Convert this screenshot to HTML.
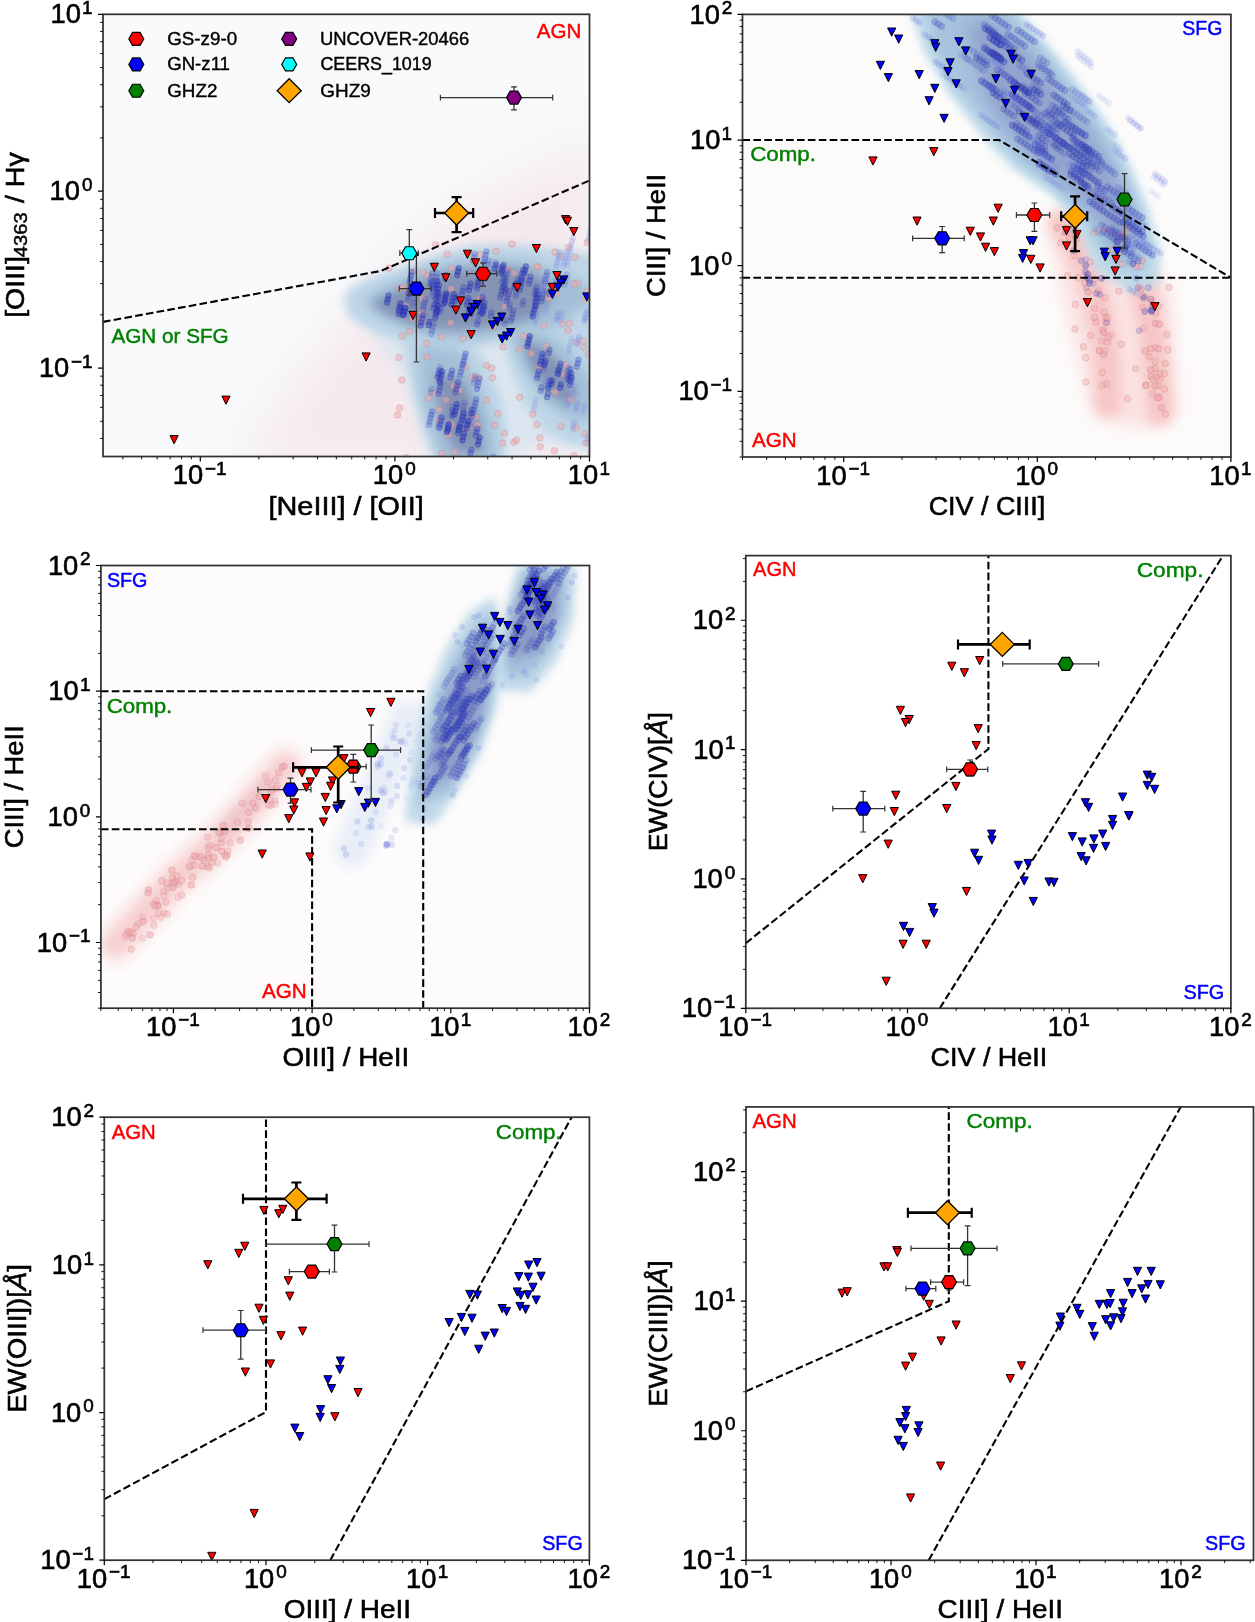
<!DOCTYPE html><html><head><meta charset="utf-8"><style>html,body{margin:0;padding:0;background:#fff;}svg{display:block;will-change:transform;}</style></head><body><svg width="1255" height="1622" viewBox="0 0 1255 1622" font-family='"Liberation Sans", sans-serif'>
<rect width="1255" height="1622" fill="#fff"/>
<defs>
<clipPath id="cP1"><rect x="103" y="14.3" width="486.5" height="442.2"/></clipPath>
<clipPath id="cP2"><rect x="742.5" y="14.4" width="488.4" height="442.6"/></clipPath>
<clipPath id="cP3"><rect x="100.9" y="565.5" width="488.6" height="442.7"/></clipPath>
<clipPath id="cP4"><rect x="745.8" y="555.6" width="485.1" height="452.7"/></clipPath>
<clipPath id="cP5"><rect x="104.3" y="1117.2" width="485.1" height="443"/></clipPath>
<clipPath id="cP6"><rect x="746" y="1106.9" width="507.5" height="453.4"/></clipPath>
<filter id="b1" filterUnits="userSpaceOnUse" x="0" y="0" width="1255" height="1622"><feGaussianBlur stdDeviation="0.7"/></filter>
<filter id="b2" filterUnits="userSpaceOnUse" x="0" y="0" width="1255" height="1622"><feGaussianBlur stdDeviation="2"/></filter>
<filter id="b3" filterUnits="userSpaceOnUse" x="0" y="0" width="1255" height="1622"><feGaussianBlur stdDeviation="3"/></filter>
<filter id="b4" filterUnits="userSpaceOnUse" x="0" y="0" width="1255" height="1622"><feGaussianBlur stdDeviation="4"/></filter>
<filter id="b5" filterUnits="userSpaceOnUse" x="0" y="0" width="1255" height="1622"><feGaussianBlur stdDeviation="5"/></filter>
<filter id="b6" filterUnits="userSpaceOnUse" x="0" y="0" width="1255" height="1622"><feGaussianBlur stdDeviation="6"/></filter>
<filter id="b8" filterUnits="userSpaceOnUse" x="0" y="0" width="1255" height="1622"><feGaussianBlur stdDeviation="8"/></filter>
<filter id="b10" filterUnits="userSpaceOnUse" x="0" y="0" width="1255" height="1622"><feGaussianBlur stdDeviation="10"/></filter>
<filter id="b14" filterUnits="userSpaceOnUse" x="0" y="0" width="1255" height="1622"><feGaussianBlur stdDeviation="14"/></filter>
<filter id="b20" filterUnits="userSpaceOnUse" x="0" y="0" width="1255" height="1622"><feGaussianBlur stdDeviation="20"/></filter>
<filter id="b25" filterUnits="userSpaceOnUse" x="0" y="0" width="1255" height="1622"><feGaussianBlur stdDeviation="25"/></filter>
<filter id="b35" filterUnits="userSpaceOnUse" x="0" y="0" width="1255" height="1622"><feGaussianBlur stdDeviation="35"/></filter>
</defs>
<g clip-path="url(#cP1)">
<rect x="103" y="14.3" width="486.5" height="442.2" fill="#f8fafc"/>
<polygon points="240,470 290,390 340,330 410,250 480,200 600,140 600,470" fill="#f4d8de" opacity="0.5" filter="url(#b25)"/>
<polygon points="360,300 470,250 595,255 595,452 540,445 505,462 430,462 405,380 370,330" fill="#dce6f0" filter="url(#b8)"/>
<polygon points="343,300 352,286 375,276 405,266 440,253 480,245 520,245 560,250 595,255 595,320 560,330 520,338 480,345 440,348 405,342 375,332 350,318" fill="#bed6e7" filter="url(#b5)"/>
<polygon points="402,335 470,340 488,365 500,395 506,425 502,462 440,462 425,430 412,385" fill="#bed6e7" filter="url(#b5)"/>
<polygon points="498,318 595,300 595,448 570,444 545,432 525,405 510,365" fill="#bed6e7" filter="url(#b5)"/>
<polygon points="362,302 378,289 410,274 450,262 490,258 530,261 560,271 585,283 592,300 560,326 530,331 500,336 470,340 440,340 410,331 382,318" fill="#a3bfd7" filter="url(#b6)"/>
<polygon points="418,345 460,350 480,385 494,425 498,460 440,460 428,425 420,390" fill="#a3bfd7" filter="url(#b6)"/>
<polygon points="510,330 548,333 575,355 592,380 592,422 572,422 548,405 527,375 514,350" fill="#a3bfd7" filter="url(#b6)"/>
<polygon points="372,302 395,291 420,281 455,271 490,267 522,269 548,281 552,300 532,318 500,326 465,330 430,328 402,321 382,312" fill="#7f8bb0" opacity="0.85" filter="url(#b5)"/>
<polygon points="525,340 548,350 567,372 577,398 564,404 545,390 528,362" fill="#7f8bb0" opacity="0.85" filter="url(#b5)"/>
<polygon points="436,372 462,380 478,415 484,452 456,452 440,420" fill="#7f8bb0" opacity="0.85" filter="url(#b5)"/>
<g filter="url(#b1)">
<g fill="#f4a7ab" fill-opacity="0.5" stroke="#a06868" stroke-opacity="0.3" stroke-width="0.7"><circle cx="502.55" cy="443.17" r="3.3"/><circle cx="491.65" cy="368.4" r="3.3"/><circle cx="492.5" cy="377.83" r="3.3"/><circle cx="404.77" cy="305.36" r="3.3"/><circle cx="555.03" cy="391.94" r="3.3"/><circle cx="591.26" cy="452.18" r="3.3"/><circle cx="514.27" cy="272.96" r="3.3"/><circle cx="495.96" cy="251.22" r="3.3"/><circle cx="435.81" cy="244.68" r="3.3"/><circle cx="477.51" cy="425.02" r="3.3"/><circle cx="519.46" cy="348.95" r="3.3"/><circle cx="481.04" cy="299.75" r="3.3"/><circle cx="594.1" cy="424.53" r="3.3"/><circle cx="451.21" cy="288.99" r="3.3"/><circle cx="399.75" cy="408.12" r="3.3"/><circle cx="562.78" cy="323.81" r="3.3"/><circle cx="576.16" cy="342.34" r="3.3"/><circle cx="468.46" cy="254.21" r="3.3"/><circle cx="548.49" cy="297.89" r="3.3"/><circle cx="454.84" cy="452.02" r="3.3"/><circle cx="409.78" cy="292.7" r="3.3"/><circle cx="397.58" cy="414.94" r="3.3"/><circle cx="502.45" cy="337.33" r="3.3"/><circle cx="538.7" cy="267.07" r="3.3"/><circle cx="409.47" cy="331.41" r="3.3"/><circle cx="441.66" cy="453.55" r="3.3"/><circle cx="448.87" cy="434.44" r="3.3"/><circle cx="467.8" cy="427.67" r="3.3"/><circle cx="406.07" cy="457.62" r="3.3"/><circle cx="439.24" cy="409.54" r="3.3"/><circle cx="447.23" cy="254.29" r="3.3"/><circle cx="507.37" cy="291.95" r="3.3"/><circle cx="463.06" cy="338.61" r="3.3"/><circle cx="486.58" cy="365.55" r="3.3"/><circle cx="423.39" cy="272.22" r="3.3"/><circle cx="556.74" cy="293.39" r="3.3"/><circle cx="540.28" cy="446.77" r="3.3"/><circle cx="584.53" cy="433.85" r="3.3"/><circle cx="473.51" cy="261.05" r="3.3"/><circle cx="587.16" cy="290.93" r="3.3"/><circle cx="438.97" cy="420.87" r="3.3"/><circle cx="446.62" cy="276.95" r="3.3"/><circle cx="399.44" cy="288.7" r="3.3"/><circle cx="564" cy="374.38" r="3.3"/><circle cx="577.65" cy="283.28" r="3.3"/><circle cx="441.53" cy="336.95" r="3.3"/><circle cx="422.01" cy="319.87" r="3.3"/><circle cx="412.63" cy="318.4" r="3.3"/><circle cx="590.9" cy="383.84" r="3.3"/><circle cx="507.73" cy="269.16" r="3.3"/><circle cx="587.18" cy="242.72" r="3.3"/><circle cx="486.27" cy="400.17" r="3.3"/><circle cx="594.87" cy="254.71" r="3.3"/><circle cx="539.77" cy="437.84" r="3.3"/><circle cx="532.78" cy="414.11" r="3.3"/><circle cx="458.89" cy="390.1" r="3.3"/><circle cx="567.93" cy="330.61" r="3.3"/><circle cx="566.33" cy="365.16" r="3.3"/><circle cx="465.29" cy="367.35" r="3.3"/><circle cx="401.84" cy="379.95" r="3.3"/><circle cx="569.76" cy="399.66" r="3.3"/><circle cx="539.36" cy="366.97" r="3.3"/><circle cx="561.06" cy="256.6" r="3.3"/><circle cx="433.35" cy="393.03" r="3.3"/><circle cx="514.05" cy="442.34" r="3.3"/><circle cx="427.54" cy="275.65" r="3.3"/><circle cx="523.6" cy="336.11" r="3.3"/><circle cx="453.66" cy="385.83" r="3.3"/><circle cx="475.49" cy="416.93" r="3.3"/><circle cx="569.86" cy="323.34" r="3.3"/><circle cx="451.46" cy="268.23" r="3.3"/><circle cx="560.79" cy="426.42" r="3.3"/><circle cx="584.5" cy="299.45" r="3.3"/><circle cx="479.64" cy="299.09" r="3.3"/><circle cx="471.94" cy="376.91" r="3.3"/><circle cx="451.23" cy="424.28" r="3.3"/><circle cx="480.02" cy="254.58" r="3.3"/><circle cx="568.29" cy="247.21" r="3.3"/><circle cx="504.82" cy="306.6" r="3.3"/><circle cx="389.01" cy="268.17" r="3.3"/><circle cx="478.76" cy="377.85" r="3.3"/><circle cx="554.55" cy="450.78" r="3.3"/><circle cx="426.86" cy="343.48" r="3.3"/><circle cx="422.61" cy="298.46" r="3.3"/><circle cx="531.44" cy="353.53" r="3.3"/><circle cx="543.8" cy="325.36" r="3.3"/><circle cx="575.31" cy="257.36" r="3.3"/><circle cx="536.7" cy="266.84" r="3.3"/><circle cx="516.37" cy="440.01" r="3.3"/><circle cx="504.45" cy="433.21" r="3.3"/><circle cx="583.29" cy="340.94" r="3.3"/><circle cx="428.03" cy="398.27" r="3.3"/><circle cx="519.74" cy="397.32" r="3.3"/><circle cx="574" cy="455.67" r="3.3"/><circle cx="497.76" cy="413.55" r="3.3"/><circle cx="576.1" cy="427.98" r="3.3"/><circle cx="402.38" cy="335.88" r="3.3"/><circle cx="546.33" cy="346.21" r="3.3"/><circle cx="554.92" cy="252.22" r="3.3"/><circle cx="421.31" cy="312.37" r="3.3"/><circle cx="414.51" cy="271.01" r="3.3"/><circle cx="536.95" cy="424.47" r="3.3"/><circle cx="583.61" cy="347.35" r="3.3"/><circle cx="403.06" cy="287.15" r="3.3"/><circle cx="445.94" cy="399.8" r="3.3"/><circle cx="494.78" cy="425.28" r="3.3"/><circle cx="450.46" cy="322.63" r="3.3"/><circle cx="574.11" cy="284.23" r="3.3"/><circle cx="588.37" cy="354.38" r="3.3"/><circle cx="427.2" cy="356.97" r="3.3"/><circle cx="512.1" cy="244.16" r="3.3"/><circle cx="493.36" cy="326.93" r="3.3"/><circle cx="503.2" cy="347.01" r="3.3"/><circle cx="398.84" cy="357.59" r="3.3"/><circle cx="585.94" cy="443" r="3.3"/></g>
<g fill="#3442cc" fill-opacity="0.52" stroke="#10105a" stroke-opacity="0.31" stroke-width="0.7"><circle cx="457.17" cy="275" r="2.9"/><circle cx="457.97" cy="271.6" r="2.9"/><circle cx="458.77" cy="268.2" r="2.9"/></g>
<g fill="#3442cc" fill-opacity="0.25" stroke="#10105a" stroke-opacity="0.15" stroke-width="0.7"><circle cx="502.25" cy="282.4" r="2.9"/><circle cx="503.05" cy="279" r="2.9"/><circle cx="503.85" cy="275.6" r="2.9"/></g>
<g fill="#3442cc" fill-opacity="0.23" stroke="#10105a" stroke-opacity="0.14" stroke-width="0.7"><circle cx="407.59" cy="300.41" r="2.9"/><circle cx="408.39" cy="297.01" r="2.9"/><circle cx="409.19" cy="293.61" r="2.9"/></g>
<g fill="#3442cc" fill-opacity="0.29" stroke="#10105a" stroke-opacity="0.17" stroke-width="0.7"><circle cx="567.91" cy="379.41" r="2.9"/><circle cx="568.71" cy="376.01" r="2.9"/><circle cx="569.51" cy="372.61" r="2.9"/><circle cx="570.31" cy="369.21" r="2.9"/></g>
<g fill="#3442cc" fill-opacity="0.42" stroke="#10105a" stroke-opacity="0.25" stroke-width="0.7"><circle cx="558.2" cy="373.9" r="2.9"/><circle cx="559" cy="370.5" r="2.9"/><circle cx="559.8" cy="367.1" r="2.9"/><circle cx="560.6" cy="363.7" r="2.9"/></g>
<g fill="#3442cc" fill-opacity="0.52" stroke="#10105a" stroke-opacity="0.31" stroke-width="0.7"><circle cx="447.17" cy="431.26" r="2.9"/><circle cx="447.97" cy="427.86" r="2.9"/><circle cx="448.77" cy="424.46" r="2.9"/></g>
<g fill="#3442cc" fill-opacity="0.48" stroke="#10105a" stroke-opacity="0.29" stroke-width="0.7"><circle cx="428.7" cy="325.13" r="2.9"/><circle cx="429.5" cy="321.73" r="2.9"/></g>
<g fill="#3442cc" fill-opacity="0.26" stroke="#10105a" stroke-opacity="0.16" stroke-width="0.7"><circle cx="541.41" cy="301.23" r="2.9"/><circle cx="542.21" cy="297.83" r="2.9"/><circle cx="543.01" cy="294.43" r="2.9"/><circle cx="543.81" cy="291.03" r="2.9"/></g>
<g fill="#3442cc" fill-opacity="0.41" stroke="#10105a" stroke-opacity="0.24" stroke-width="0.7"><circle cx="495.34" cy="268.12" r="2.9"/><circle cx="496.14" cy="264.72" r="2.9"/></g>
<g fill="#3442cc" fill-opacity="0.39" stroke="#10105a" stroke-opacity="0.23" stroke-width="0.7"><circle cx="519.78" cy="289.76" r="2.9"/><circle cx="520.58" cy="286.36" r="2.9"/><circle cx="521.38" cy="282.96" r="2.9"/><circle cx="522.18" cy="279.56" r="2.9"/></g>
<g fill="#3442cc" fill-opacity="0.48" stroke="#10105a" stroke-opacity="0.29" stroke-width="0.7"><circle cx="551.14" cy="383.88" r="2.9"/><circle cx="551.94" cy="380.48" r="2.9"/></g>
<g fill="#3442cc" fill-opacity="0.24" stroke="#10105a" stroke-opacity="0.14" stroke-width="0.7"><circle cx="422.96" cy="309.4" r="2.9"/><circle cx="423.76" cy="306" r="2.9"/><circle cx="424.56" cy="302.6" r="2.9"/><circle cx="425.36" cy="299.2" r="2.9"/></g>
<g fill="#3442cc" fill-opacity="0.35" stroke="#10105a" stroke-opacity="0.21" stroke-width="0.7"><circle cx="458.18" cy="433.18" r="2.9"/><circle cx="458.98" cy="429.78" r="2.9"/><circle cx="459.78" cy="426.38" r="2.9"/></g>
<g fill="#3442cc" fill-opacity="0.22" stroke="#10105a" stroke-opacity="0.13" stroke-width="0.7"><circle cx="435.82" cy="280.24" r="2.9"/><circle cx="436.62" cy="276.84" r="2.9"/><circle cx="437.42" cy="273.44" r="2.9"/></g>
<g fill="#3442cc" fill-opacity="0.42" stroke="#10105a" stroke-opacity="0.25" stroke-width="0.7"><circle cx="505.08" cy="292.53" r="2.9"/><circle cx="505.88" cy="289.13" r="2.9"/></g>
<g fill="#3442cc" fill-opacity="0.48" stroke="#10105a" stroke-opacity="0.29" stroke-width="0.7"><circle cx="514.62" cy="287.39" r="2.9"/><circle cx="515.42" cy="283.99" r="2.9"/></g>
<g fill="#3442cc" fill-opacity="0.41" stroke="#10105a" stroke-opacity="0.24" stroke-width="0.7"><circle cx="569.76" cy="380.28" r="2.9"/><circle cx="570.56" cy="376.88" r="2.9"/><circle cx="571.36" cy="373.48" r="2.9"/></g>
<g fill="#3442cc" fill-opacity="0.31" stroke="#10105a" stroke-opacity="0.19" stroke-width="0.7"><circle cx="477.23" cy="288.48" r="2.9"/><circle cx="478.03" cy="285.08" r="2.9"/><circle cx="478.83" cy="281.68" r="2.9"/></g>
<g fill="#3442cc" fill-opacity="0.26" stroke="#10105a" stroke-opacity="0.16" stroke-width="0.7"><circle cx="505.74" cy="277.08" r="2.9"/><circle cx="506.54" cy="273.68" r="2.9"/><circle cx="507.34" cy="270.28" r="2.9"/></g>
<g fill="#3442cc" fill-opacity="0.47" stroke="#10105a" stroke-opacity="0.28" stroke-width="0.7"><circle cx="469" cy="290.3" r="2.9"/><circle cx="469.8" cy="286.9" r="2.9"/><circle cx="470.6" cy="283.5" r="2.9"/></g>
<g fill="#3442cc" fill-opacity="0.32" stroke="#10105a" stroke-opacity="0.19" stroke-width="0.7"><circle cx="502.07" cy="271.44" r="2.9"/><circle cx="502.87" cy="268.04" r="2.9"/><circle cx="503.67" cy="264.64" r="2.9"/></g>
<g fill="#3442cc" fill-opacity="0.32" stroke="#10105a" stroke-opacity="0.19" stroke-width="0.7"><circle cx="438.38" cy="393.84" r="2.9"/><circle cx="439.18" cy="390.44" r="2.9"/><circle cx="439.98" cy="387.04" r="2.9"/><circle cx="440.78" cy="383.64" r="2.9"/></g>
<g fill="#3442cc" fill-opacity="0.35" stroke="#10105a" stroke-opacity="0.21" stroke-width="0.7"><circle cx="445.1" cy="278.46" r="2.9"/><circle cx="445.9" cy="275.06" r="2.9"/></g>
<g fill="#3442cc" fill-opacity="0.54" stroke="#10105a" stroke-opacity="0.33" stroke-width="0.7"><circle cx="466.83" cy="428.1" r="2.9"/><circle cx="467.63" cy="424.7" r="2.9"/><circle cx="468.43" cy="421.3" r="2.9"/></g>
<g fill="#3442cc" fill-opacity="0.37" stroke="#10105a" stroke-opacity="0.22" stroke-width="0.7"><circle cx="482.77" cy="313.54" r="2.9"/><circle cx="483.57" cy="310.14" r="2.9"/><circle cx="484.37" cy="306.74" r="2.9"/></g>
<g fill="#3442cc" fill-opacity="0.25" stroke="#10105a" stroke-opacity="0.15" stroke-width="0.7"><circle cx="509.03" cy="307.82" r="2.9"/><circle cx="509.83" cy="304.42" r="2.9"/></g>
<g fill="#3442cc" fill-opacity="0.36" stroke="#10105a" stroke-opacity="0.21" stroke-width="0.7"><circle cx="535.02" cy="301.65" r="2.9"/><circle cx="535.82" cy="298.25" r="2.9"/><circle cx="536.62" cy="294.85" r="2.9"/><circle cx="537.42" cy="291.45" r="2.9"/></g>
<g fill="#3442cc" fill-opacity="0.49" stroke="#10105a" stroke-opacity="0.29" stroke-width="0.7"><circle cx="524.35" cy="273.28" r="2.9"/><circle cx="525.15" cy="269.88" r="2.9"/><circle cx="525.95" cy="266.48" r="2.9"/></g>
<g fill="#3442cc" fill-opacity="0.35" stroke="#10105a" stroke-opacity="0.21" stroke-width="0.7"><circle cx="479.56" cy="314.83" r="2.9"/><circle cx="480.36" cy="311.43" r="2.9"/></g>
<g fill="#3442cc" fill-opacity="0.53" stroke="#10105a" stroke-opacity="0.32" stroke-width="0.7"><circle cx="462.01" cy="419.72" r="2.9"/><circle cx="462.81" cy="416.32" r="2.9"/><circle cx="463.61" cy="412.92" r="2.9"/></g>
<g fill="#3442cc" fill-opacity="0.4" stroke="#10105a" stroke-opacity="0.24" stroke-width="0.7"><circle cx="466.82" cy="304.66" r="2.9"/><circle cx="467.62" cy="301.26" r="2.9"/><circle cx="468.42" cy="297.86" r="2.9"/></g>
<g fill="#3442cc" fill-opacity="0.46" stroke="#10105a" stroke-opacity="0.27" stroke-width="0.7"><circle cx="420.56" cy="325.56" r="2.9"/><circle cx="421.36" cy="322.16" r="2.9"/><circle cx="422.16" cy="318.76" r="2.9"/><circle cx="422.96" cy="315.36" r="2.9"/></g>
<g fill="#3442cc" fill-opacity="0.24" stroke="#10105a" stroke-opacity="0.14" stroke-width="0.7"><circle cx="400.19" cy="314.54" r="2.9"/><circle cx="400.99" cy="311.14" r="2.9"/><circle cx="401.79" cy="307.74" r="2.9"/></g>
<g fill="#3442cc" fill-opacity="0.53" stroke="#10105a" stroke-opacity="0.32" stroke-width="0.7"><circle cx="443.6" cy="303.65" r="2.9"/><circle cx="444.4" cy="300.25" r="2.9"/><circle cx="445.2" cy="296.85" r="2.9"/><circle cx="446" cy="293.45" r="2.9"/></g>
<g fill="#3442cc" fill-opacity="0.3" stroke="#10105a" stroke-opacity="0.18" stroke-width="0.7"><circle cx="535" cy="294.06" r="2.9"/><circle cx="535.8" cy="290.66" r="2.9"/><circle cx="536.6" cy="287.26" r="2.9"/></g>
<g fill="#3442cc" fill-opacity="0.52" stroke="#10105a" stroke-opacity="0.31" stroke-width="0.7"><circle cx="527.36" cy="346.3" r="2.9"/><circle cx="528.16" cy="342.9" r="2.9"/><circle cx="528.96" cy="339.5" r="2.9"/><circle cx="529.76" cy="336.1" r="2.9"/></g>
<g fill="#3442cc" fill-opacity="0.26" stroke="#10105a" stroke-opacity="0.15" stroke-width="0.7"><circle cx="544.79" cy="282.45" r="2.9"/><circle cx="545.59" cy="279.05" r="2.9"/><circle cx="546.39" cy="275.65" r="2.9"/><circle cx="547.19" cy="272.25" r="2.9"/></g>
<g fill="#3442cc" fill-opacity="0.34" stroke="#10105a" stroke-opacity="0.2" stroke-width="0.7"><circle cx="548.7" cy="353.03" r="2.9"/><circle cx="549.5" cy="349.63" r="2.9"/></g>
<g fill="#3442cc" fill-opacity="0.36" stroke="#10105a" stroke-opacity="0.22" stroke-width="0.7"><circle cx="480.19" cy="307.29" r="2.9"/><circle cx="480.99" cy="303.89" r="2.9"/><circle cx="481.79" cy="300.49" r="2.9"/><circle cx="482.59" cy="297.09" r="2.9"/></g>
<g fill="#3442cc" fill-opacity="0.5" stroke="#10105a" stroke-opacity="0.3" stroke-width="0.7"><circle cx="532.69" cy="316.41" r="2.9"/><circle cx="533.49" cy="313.01" r="2.9"/><circle cx="534.29" cy="309.61" r="2.9"/><circle cx="535.09" cy="306.21" r="2.9"/></g>
<g fill="#3442cc" fill-opacity="0.42" stroke="#10105a" stroke-opacity="0.25" stroke-width="0.7"><circle cx="481.77" cy="312.68" r="2.9"/><circle cx="482.57" cy="309.28" r="2.9"/><circle cx="483.37" cy="305.88" r="2.9"/><circle cx="484.17" cy="302.48" r="2.9"/></g>
<g fill="#3442cc" fill-opacity="0.31" stroke="#10105a" stroke-opacity="0.18" stroke-width="0.7"><circle cx="437.9" cy="376.86" r="2.9"/><circle cx="438.7" cy="373.46" r="2.9"/><circle cx="439.5" cy="370.06" r="2.9"/></g>
<g fill="#3442cc" fill-opacity="0.47" stroke="#10105a" stroke-opacity="0.28" stroke-width="0.7"><circle cx="435.74" cy="288.31" r="2.9"/><circle cx="436.54" cy="284.91" r="2.9"/><circle cx="437.34" cy="281.51" r="2.9"/></g>
<g fill="#3442cc" fill-opacity="0.5" stroke="#10105a" stroke-opacity="0.3" stroke-width="0.7"><circle cx="439.57" cy="381.58" r="2.9"/><circle cx="440.37" cy="378.18" r="2.9"/><circle cx="441.17" cy="374.78" r="2.9"/><circle cx="441.97" cy="371.38" r="2.9"/></g>
<g fill="#3442cc" fill-opacity="0.49" stroke="#10105a" stroke-opacity="0.29" stroke-width="0.7"><circle cx="548.11" cy="387.83" r="2.9"/><circle cx="548.91" cy="384.43" r="2.9"/><circle cx="549.71" cy="381.03" r="2.9"/></g>
<g fill="#3442cc" fill-opacity="0.36" stroke="#10105a" stroke-opacity="0.22" stroke-width="0.7"><circle cx="470.75" cy="314" r="2.9"/><circle cx="471.55" cy="310.6" r="2.9"/></g>
<g fill="#3442cc" fill-opacity="0.49" stroke="#10105a" stroke-opacity="0.29" stroke-width="0.7"><circle cx="386.94" cy="302.55" r="2.9"/><circle cx="387.74" cy="299.15" r="2.9"/><circle cx="388.54" cy="295.75" r="2.9"/></g>
<g fill="#3442cc" fill-opacity="0.32" stroke="#10105a" stroke-opacity="0.19" stroke-width="0.7"><circle cx="535.92" cy="305.03" r="2.9"/><circle cx="536.72" cy="301.63" r="2.9"/><circle cx="537.52" cy="298.23" r="2.9"/><circle cx="538.32" cy="294.83" r="2.9"/></g>
<g fill="#3442cc" fill-opacity="0.52" stroke="#10105a" stroke-opacity="0.31" stroke-width="0.7"><circle cx="436.4" cy="312.74" r="2.9"/><circle cx="437.2" cy="309.34" r="2.9"/><circle cx="438" cy="305.94" r="2.9"/></g>
<g fill="#3442cc" fill-opacity="0.52" stroke="#10105a" stroke-opacity="0.31" stroke-width="0.7"><circle cx="451.38" cy="304.47" r="2.9"/><circle cx="452.18" cy="301.07" r="2.9"/><circle cx="452.98" cy="297.67" r="2.9"/><circle cx="453.78" cy="294.27" r="2.9"/></g>
<g fill="#3442cc" fill-opacity="0.29" stroke="#10105a" stroke-opacity="0.18" stroke-width="0.7"><circle cx="516.55" cy="286.2" r="2.9"/><circle cx="517.35" cy="282.8" r="2.9"/><circle cx="518.15" cy="279.4" r="2.9"/></g>
<g fill="#3442cc" fill-opacity="0.34" stroke="#10105a" stroke-opacity="0.2" stroke-width="0.7"><circle cx="471.03" cy="413.29" r="2.9"/><circle cx="471.83" cy="409.89" r="2.9"/></g>
<g fill="#3442cc" fill-opacity="0.48" stroke="#10105a" stroke-opacity="0.29" stroke-width="0.7"><circle cx="437.4" cy="291.92" r="2.9"/><circle cx="438.2" cy="288.52" r="2.9"/><circle cx="439" cy="285.12" r="2.9"/></g>
<g fill="#3442cc" fill-opacity="0.5" stroke="#10105a" stroke-opacity="0.3" stroke-width="0.7"><circle cx="544.15" cy="364.98" r="2.9"/><circle cx="544.95" cy="361.58" r="2.9"/></g>
<g fill="#3442cc" fill-opacity="0.49" stroke="#10105a" stroke-opacity="0.29" stroke-width="0.7"><circle cx="403.79" cy="314.81" r="2.9"/><circle cx="404.59" cy="311.41" r="2.9"/><circle cx="405.39" cy="308.01" r="2.9"/></g>
<g fill="#3442cc" fill-opacity="0.25" stroke="#10105a" stroke-opacity="0.15" stroke-width="0.7"><circle cx="476.75" cy="286.24" r="2.9"/><circle cx="477.55" cy="282.84" r="2.9"/><circle cx="478.35" cy="279.44" r="2.9"/><circle cx="479.15" cy="276.04" r="2.9"/></g>
<g fill="#3442cc" fill-opacity="0.23" stroke="#10105a" stroke-opacity="0.14" stroke-width="0.7"><circle cx="504.67" cy="323.64" r="2.9"/><circle cx="505.47" cy="320.24" r="2.9"/></g>
<g fill="#3442cc" fill-opacity="0.33" stroke="#10105a" stroke-opacity="0.2" stroke-width="0.7"><circle cx="500.2" cy="297.81" r="2.9"/><circle cx="501" cy="294.41" r="2.9"/><circle cx="501.8" cy="291.01" r="2.9"/><circle cx="502.6" cy="287.61" r="2.9"/></g>
<g fill="#3442cc" fill-opacity="0.44" stroke="#10105a" stroke-opacity="0.27" stroke-width="0.7"><circle cx="435.08" cy="317.86" r="2.9"/><circle cx="435.88" cy="314.46" r="2.9"/><circle cx="436.68" cy="311.06" r="2.9"/></g>
<g fill="#3442cc" fill-opacity="0.42" stroke="#10105a" stroke-opacity="0.25" stroke-width="0.7"><circle cx="468.72" cy="312.42" r="2.9"/><circle cx="469.52" cy="309.02" r="2.9"/><circle cx="470.32" cy="305.62" r="2.9"/><circle cx="471.12" cy="302.22" r="2.9"/></g>
<g fill="#3442cc" fill-opacity="0.39" stroke="#10105a" stroke-opacity="0.24" stroke-width="0.7"><circle cx="455.64" cy="301.1" r="2.9"/><circle cx="456.44" cy="297.7" r="2.9"/></g>
<g fill="#3442cc" fill-opacity="0.34" stroke="#10105a" stroke-opacity="0.21" stroke-width="0.7"><circle cx="398.31" cy="313.7" r="2.9"/><circle cx="399.11" cy="310.3" r="2.9"/><circle cx="399.91" cy="306.9" r="2.9"/><circle cx="400.71" cy="303.5" r="2.9"/></g>
<g fill="#3442cc" fill-opacity="0.31" stroke="#10105a" stroke-opacity="0.19" stroke-width="0.7"><circle cx="408.79" cy="293.77" r="2.9"/><circle cx="409.59" cy="290.37" r="2.9"/><circle cx="410.39" cy="286.97" r="2.9"/></g>
<g fill="#3442cc" fill-opacity="0.43" stroke="#10105a" stroke-opacity="0.26" stroke-width="0.7"><circle cx="458.63" cy="430.46" r="2.9"/><circle cx="459.43" cy="427.06" r="2.9"/><circle cx="460.23" cy="423.66" r="2.9"/></g>
<g fill="#3442cc" fill-opacity="0.32" stroke="#10105a" stroke-opacity="0.19" stroke-width="0.7"><circle cx="477.13" cy="324.29" r="2.9"/><circle cx="477.93" cy="320.89" r="2.9"/></g>
<g fill="#3442cc" fill-opacity="0.46" stroke="#10105a" stroke-opacity="0.27" stroke-width="0.7"><circle cx="436.68" cy="304.07" r="2.9"/><circle cx="437.48" cy="300.67" r="2.9"/><circle cx="438.28" cy="297.27" r="2.9"/><circle cx="439.08" cy="293.87" r="2.9"/></g>
<g fill="#3442cc" fill-opacity="0.43" stroke="#10105a" stroke-opacity="0.26" stroke-width="0.7"><circle cx="403.05" cy="314.72" r="2.9"/><circle cx="403.85" cy="311.32" r="2.9"/><circle cx="404.65" cy="307.92" r="2.9"/></g>
<g fill="#3442cc" fill-opacity="0.51" stroke="#10105a" stroke-opacity="0.31" stroke-width="0.7"><circle cx="462.42" cy="440.27" r="2.9"/><circle cx="463.22" cy="436.87" r="2.9"/><circle cx="464.02" cy="433.47" r="2.9"/></g>
<g fill="#3442cc" fill-opacity="0.38" stroke="#10105a" stroke-opacity="0.23" stroke-width="0.7"><circle cx="452.42" cy="415.79" r="2.9"/><circle cx="453.22" cy="412.39" r="2.9"/></g>
<g fill="#3442cc" fill-opacity="0.48" stroke="#10105a" stroke-opacity="0.29" stroke-width="0.7"><circle cx="454.48" cy="414.21" r="2.9"/><circle cx="455.28" cy="410.81" r="2.9"/><circle cx="456.08" cy="407.41" r="2.9"/><circle cx="456.88" cy="404.01" r="2.9"/></g>
<g fill="#3442cc" fill-opacity="0.48" stroke="#10105a" stroke-opacity="0.29" stroke-width="0.7"><circle cx="477.95" cy="444.42" r="2.9"/><circle cx="478.75" cy="441.02" r="2.9"/><circle cx="479.55" cy="437.62" r="2.9"/></g>
<g fill="#3442cc" fill-opacity="0.26" stroke="#10105a" stroke-opacity="0.16" stroke-width="0.7"><circle cx="429.92" cy="283.34" r="2.9"/><circle cx="430.72" cy="279.94" r="2.9"/><circle cx="431.52" cy="276.54" r="2.9"/><circle cx="432.32" cy="273.14" r="2.9"/></g>
<g fill="#3442cc" fill-opacity="0.27" stroke="#10105a" stroke-opacity="0.16" stroke-width="0.7"><circle cx="557.21" cy="373.02" r="2.9"/><circle cx="558.01" cy="369.62" r="2.9"/></g>
<g fill="#3442cc" fill-opacity="0.45" stroke="#10105a" stroke-opacity="0.27" stroke-width="0.7"><circle cx="500.97" cy="273.12" r="2.9"/><circle cx="501.77" cy="269.72" r="2.9"/><circle cx="502.57" cy="266.32" r="2.9"/></g>
<g fill="#3442cc" fill-opacity="0.32" stroke="#10105a" stroke-opacity="0.19" stroke-width="0.7"><circle cx="506.75" cy="301.23" r="2.9"/><circle cx="507.55" cy="297.83" r="2.9"/><circle cx="508.35" cy="294.43" r="2.9"/><circle cx="509.15" cy="291.03" r="2.9"/></g>
<g fill="#3442cc" fill-opacity="0.36" stroke="#10105a" stroke-opacity="0.21" stroke-width="0.7"><circle cx="520.74" cy="280.13" r="2.9"/><circle cx="521.54" cy="276.73" r="2.9"/><circle cx="522.34" cy="273.33" r="2.9"/><circle cx="523.14" cy="269.93" r="2.9"/></g>
<g fill="#3442cc" fill-opacity="0.44" stroke="#10105a" stroke-opacity="0.26" stroke-width="0.7"><circle cx="444.98" cy="302.05" r="2.9"/><circle cx="445.78" cy="298.65" r="2.9"/><circle cx="446.58" cy="295.25" r="2.9"/></g>
<g fill="#3442cc" fill-opacity="0.44" stroke="#10105a" stroke-opacity="0.26" stroke-width="0.7"><circle cx="560.14" cy="387.78" r="2.9"/><circle cx="560.94" cy="384.38" r="2.9"/></g>
<g fill="#3442cc" fill-opacity="0.32" stroke="#10105a" stroke-opacity="0.19" stroke-width="0.7"><circle cx="439.88" cy="311.73" r="2.9"/><circle cx="440.68" cy="308.33" r="2.9"/></g>
<g fill="#3442cc" fill-opacity="0.29" stroke="#10105a" stroke-opacity="0.17" stroke-width="0.7"><circle cx="510.93" cy="320.93" r="2.9"/><circle cx="511.73" cy="317.53" r="2.9"/><circle cx="512.53" cy="314.13" r="2.9"/><circle cx="513.33" cy="310.73" r="2.9"/></g>
<g fill="#3442cc" fill-opacity="0.47" stroke="#10105a" stroke-opacity="0.28" stroke-width="0.7"><circle cx="540.1" cy="364.06" r="2.9"/><circle cx="540.9" cy="360.66" r="2.9"/><circle cx="541.7" cy="357.26" r="2.9"/><circle cx="542.5" cy="353.86" r="2.9"/></g>
<g fill="#3442cc" fill-opacity="0.3" stroke="#10105a" stroke-opacity="0.18" stroke-width="0.7"><circle cx="472.24" cy="416.45" r="2.9"/><circle cx="473.04" cy="413.05" r="2.9"/></g>
<g fill="#3442cc" fill-opacity="0.41" stroke="#10105a" stroke-opacity="0.24" stroke-width="0.7"><circle cx="503.66" cy="287.75" r="2.9"/><circle cx="504.46" cy="284.35" r="2.9"/><circle cx="505.26" cy="280.95" r="2.9"/></g>
<g fill="#3442cc" fill-opacity="0.25" stroke="#10105a" stroke-opacity="0.15" stroke-width="0.7"><circle cx="522.65" cy="304.34" r="2.9"/><circle cx="523.45" cy="300.94" r="2.9"/></g>
<g fill="#3442cc" fill-opacity="0.33" stroke="#10105a" stroke-opacity="0.2" stroke-width="0.7"><circle cx="549.73" cy="294.33" r="2.9"/><circle cx="550.53" cy="290.93" r="2.9"/></g>
<g fill="#3442cc" fill-opacity="0.33" stroke="#10105a" stroke-opacity="0.2" stroke-width="0.7"><circle cx="398.64" cy="310.55" r="2.9"/><circle cx="399.44" cy="307.15" r="2.9"/><circle cx="400.24" cy="303.75" r="2.9"/></g>
<g fill="#3442cc" fill-opacity="0.4" stroke="#10105a" stroke-opacity="0.24" stroke-width="0.7"><circle cx="433.6" cy="308" r="2.9"/><circle cx="434.4" cy="304.6" r="2.9"/></g>
<g fill="#3442cc" fill-opacity="0.42" stroke="#10105a" stroke-opacity="0.25" stroke-width="0.7"><circle cx="431.9" cy="285.49" r="2.9"/><circle cx="432.7" cy="282.09" r="2.9"/></g>
<g fill="#3442cc" fill-opacity="0.41" stroke="#10105a" stroke-opacity="0.25" stroke-width="0.7"><circle cx="435.46" cy="298.53" r="2.9"/><circle cx="436.26" cy="295.13" r="2.9"/></g>
<g fill="#3442cc" fill-opacity="0.3" stroke="#10105a" stroke-opacity="0.18" stroke-width="0.7"><circle cx="490.7" cy="315.93" r="2.9"/><circle cx="491.5" cy="312.53" r="2.9"/></g>
<g fill="#3a4ad4" fill-opacity="0.22" stroke="#10105a" stroke-opacity="0.13" stroke-width="0.7"><circle cx="473.77" cy="382.86" r="2.9"/><circle cx="474.57" cy="379.46" r="2.9"/><circle cx="475.37" cy="376.06" r="2.9"/></g>
<g fill="#3a4ad4" fill-opacity="0.38" stroke="#10105a" stroke-opacity="0.23" stroke-width="0.7"><circle cx="547.09" cy="397.14" r="2.9"/><circle cx="547.89" cy="393.74" r="2.9"/></g>
<g fill="#3a4ad4" fill-opacity="0.19" stroke="#10105a" stroke-opacity="0.12" stroke-width="0.7"><circle cx="462.86" cy="409.44" r="2.9"/><circle cx="463.66" cy="406.04" r="2.9"/><circle cx="464.46" cy="402.64" r="2.9"/></g>
<g fill="#3a4ad4" fill-opacity="0.36" stroke="#10105a" stroke-opacity="0.21" stroke-width="0.7"><circle cx="447.09" cy="432.21" r="2.9"/><circle cx="447.89" cy="428.81" r="2.9"/><circle cx="448.69" cy="425.41" r="2.9"/></g>
<g fill="#3a4ad4" fill-opacity="0.25" stroke="#10105a" stroke-opacity="0.15" stroke-width="0.7"><circle cx="488.01" cy="264.25" r="2.9"/><circle cx="488.81" cy="260.85" r="2.9"/></g>
<g fill="#3a4ad4" fill-opacity="0.23" stroke="#10105a" stroke-opacity="0.14" stroke-width="0.7"><circle cx="492.39" cy="459.87" r="2.9"/><circle cx="493.19" cy="456.47" r="2.9"/></g>
<g fill="#3a4ad4" fill-opacity="0.31" stroke="#10105a" stroke-opacity="0.19" stroke-width="0.7"><circle cx="477.01" cy="388.89" r="2.9"/><circle cx="477.81" cy="385.49" r="2.9"/><circle cx="478.61" cy="382.09" r="2.9"/><circle cx="479.41" cy="378.69" r="2.9"/></g>
<g fill="#3a4ad4" fill-opacity="0.19" stroke="#10105a" stroke-opacity="0.11" stroke-width="0.7"><circle cx="430.68" cy="392.38" r="2.9"/><circle cx="431.48" cy="388.98" r="2.9"/></g>
<g fill="#3a4ad4" fill-opacity="0.18" stroke="#10105a" stroke-opacity="0.11" stroke-width="0.7"><circle cx="492.99" cy="272.24" r="2.9"/><circle cx="493.79" cy="268.84" r="2.9"/><circle cx="494.59" cy="265.44" r="2.9"/><circle cx="495.39" cy="262.04" r="2.9"/></g>
<g fill="#3a4ad4" fill-opacity="0.39" stroke="#10105a" stroke-opacity="0.23" stroke-width="0.7"><circle cx="475.73" cy="435.56" r="2.9"/><circle cx="476.53" cy="432.16" r="2.9"/><circle cx="477.33" cy="428.76" r="2.9"/></g>
<g fill="#3a4ad4" fill-opacity="0.38" stroke="#10105a" stroke-opacity="0.23" stroke-width="0.7"><circle cx="455.59" cy="392.31" r="2.9"/><circle cx="456.39" cy="388.91" r="2.9"/><circle cx="457.19" cy="385.51" r="2.9"/><circle cx="457.99" cy="382.11" r="2.9"/></g>
<g fill="#3a4ad4" fill-opacity="0.36" stroke="#10105a" stroke-opacity="0.22" stroke-width="0.7"><circle cx="450.56" cy="377.38" r="2.9"/><circle cx="451.36" cy="373.98" r="2.9"/><circle cx="452.16" cy="370.58" r="2.9"/></g>
<g fill="#3a4ad4" fill-opacity="0.18" stroke="#10105a" stroke-opacity="0.11" stroke-width="0.7"><circle cx="543.54" cy="369.92" r="2.9"/><circle cx="544.34" cy="366.52" r="2.9"/><circle cx="545.14" cy="363.12" r="2.9"/><circle cx="545.94" cy="359.72" r="2.9"/></g>
<g fill="#3a4ad4" fill-opacity="0.38" stroke="#10105a" stroke-opacity="0.23" stroke-width="0.7"><circle cx="537.09" cy="377.9" r="2.9"/><circle cx="537.89" cy="374.5" r="2.9"/><circle cx="538.69" cy="371.1" r="2.9"/></g>
<g fill="#3a4ad4" fill-opacity="0.37" stroke="#10105a" stroke-opacity="0.22" stroke-width="0.7"><circle cx="570.02" cy="384.97" r="2.9"/><circle cx="570.82" cy="381.57" r="2.9"/><circle cx="571.62" cy="378.17" r="2.9"/></g>
<g fill="#3a4ad4" fill-opacity="0.4" stroke="#10105a" stroke-opacity="0.24" stroke-width="0.7"><circle cx="470.55" cy="453.13" r="2.9"/><circle cx="471.35" cy="449.73" r="2.9"/></g>
<g fill="#3a4ad4" fill-opacity="0.34" stroke="#10105a" stroke-opacity="0.2" stroke-width="0.7"><circle cx="463.12" cy="363.87" r="2.9"/><circle cx="463.92" cy="360.47" r="2.9"/><circle cx="464.72" cy="357.07" r="2.9"/><circle cx="465.52" cy="353.67" r="2.9"/></g>
<g fill="#3a4ad4" fill-opacity="0.32" stroke="#10105a" stroke-opacity="0.19" stroke-width="0.7"><circle cx="576.87" cy="366.55" r="2.9"/><circle cx="577.67" cy="363.15" r="2.9"/><circle cx="578.47" cy="359.75" r="2.9"/></g>
<g fill="#3a4ad4" fill-opacity="0.23" stroke="#10105a" stroke-opacity="0.14" stroke-width="0.7"><circle cx="432.43" cy="295.3" r="2.9"/><circle cx="433.23" cy="291.9" r="2.9"/><circle cx="434.03" cy="288.5" r="2.9"/></g>
<g fill="#3a4ad4" fill-opacity="0.37" stroke="#10105a" stroke-opacity="0.22" stroke-width="0.7"><circle cx="409.5" cy="282.22" r="2.9"/><circle cx="410.3" cy="278.82" r="2.9"/><circle cx="411.1" cy="275.42" r="2.9"/><circle cx="411.9" cy="272.02" r="2.9"/></g>
<g fill="#3a4ad4" fill-opacity="0.15" stroke="#10105a" stroke-opacity="0.09" stroke-width="0.7"><circle cx="554.72" cy="287.04" r="2.9"/><circle cx="555.52" cy="283.64" r="2.9"/><circle cx="556.32" cy="280.24" r="2.9"/></g>
<g fill="#3a4ad4" fill-opacity="0.31" stroke="#10105a" stroke-opacity="0.18" stroke-width="0.7"><circle cx="473.83" cy="409.38" r="2.9"/><circle cx="474.63" cy="405.98" r="2.9"/><circle cx="475.43" cy="402.58" r="2.9"/><circle cx="476.23" cy="399.18" r="2.9"/></g>
<g fill="#3a4ad4" fill-opacity="0.37" stroke="#10105a" stroke-opacity="0.22" stroke-width="0.7"><circle cx="528.93" cy="283.67" r="2.9"/><circle cx="529.73" cy="280.27" r="2.9"/><circle cx="530.53" cy="276.87" r="2.9"/></g>
<g fill="#3a4ad4" fill-opacity="0.25" stroke="#10105a" stroke-opacity="0.15" stroke-width="0.7"><circle cx="428.79" cy="425.03" r="2.9"/><circle cx="429.59" cy="421.63" r="2.9"/><circle cx="430.39" cy="418.23" r="2.9"/></g>
<g fill="#3a4ad4" fill-opacity="0.32" stroke="#10105a" stroke-opacity="0.19" stroke-width="0.7"><circle cx="439.52" cy="427.82" r="2.9"/><circle cx="440.32" cy="424.42" r="2.9"/><circle cx="441.12" cy="421.02" r="2.9"/><circle cx="441.92" cy="417.62" r="2.9"/></g>
<g fill="#3a4ad4" fill-opacity="0.3" stroke="#10105a" stroke-opacity="0.18" stroke-width="0.7"><circle cx="540.55" cy="390.9" r="2.9"/><circle cx="541.35" cy="387.5" r="2.9"/></g>
<g fill="#3a4ad4" fill-opacity="0.21" stroke="#10105a" stroke-opacity="0.12" stroke-width="0.7"><circle cx="431.21" cy="333.99" r="2.9"/><circle cx="432.01" cy="330.59" r="2.9"/><circle cx="432.81" cy="327.19" r="2.9"/><circle cx="433.61" cy="323.79" r="2.9"/></g>
<g fill="#3a4ad4" fill-opacity="0.26" stroke="#10105a" stroke-opacity="0.16" stroke-width="0.7"><circle cx="515.59" cy="295.94" r="2.9"/><circle cx="516.39" cy="292.54" r="2.9"/></g>
<g fill="#3a4ad4" fill-opacity="0.3" stroke="#10105a" stroke-opacity="0.18" stroke-width="0.7"><circle cx="484.09" cy="261.72" r="2.9"/><circle cx="484.89" cy="258.32" r="2.9"/><circle cx="485.69" cy="254.92" r="2.9"/><circle cx="486.49" cy="251.52" r="2.9"/></g>
<g fill="#3a4ad4" fill-opacity="0.22" stroke="#10105a" stroke-opacity="0.13" stroke-width="0.7"><circle cx="451.88" cy="410.38" r="2.9"/><circle cx="452.68" cy="406.98" r="2.9"/></g>
<g fill="#3a4ad4" fill-opacity="0.16" stroke="#10105a" stroke-opacity="0.09" stroke-width="0.7"><circle cx="437.67" cy="377.1" r="2.9"/><circle cx="438.47" cy="373.7" r="2.9"/><circle cx="439.27" cy="370.3" r="2.9"/><circle cx="440.07" cy="366.9" r="2.9"/></g>
<g fill="#3a4ad4" fill-opacity="0.28" stroke="#10105a" stroke-opacity="0.17" stroke-width="0.7"><circle cx="473.2" cy="260.62" r="2.9"/><circle cx="474" cy="257.22" r="2.9"/><circle cx="474.8" cy="253.82" r="2.9"/></g>
<g fill="#3a4ad4" fill-opacity="0.19" stroke="#10105a" stroke-opacity="0.12" stroke-width="0.7"><circle cx="566.11" cy="377.89" r="2.9"/><circle cx="566.91" cy="374.49" r="2.9"/><circle cx="567.71" cy="371.09" r="2.9"/><circle cx="568.51" cy="367.69" r="2.9"/></g>
<g fill="#3a4ad4" fill-opacity="0.32" stroke="#10105a" stroke-opacity="0.19" stroke-width="0.7"><circle cx="431.21" cy="414.93" r="2.9"/><circle cx="432.01" cy="411.53" r="2.9"/></g>
<g fill="#3a4ad4" fill-opacity="0.21" stroke="#10105a" stroke-opacity="0.13" stroke-width="0.7"><circle cx="438.49" cy="427.35" r="2.9"/><circle cx="439.29" cy="423.95" r="2.9"/><circle cx="440.09" cy="420.55" r="2.9"/><circle cx="440.89" cy="417.15" r="2.9"/></g>
<g fill="#3a4ad4" fill-opacity="0.22" stroke="#10105a" stroke-opacity="0.13" stroke-width="0.7"><circle cx="412.88" cy="305.57" r="2.9"/><circle cx="413.68" cy="302.17" r="2.9"/><circle cx="414.48" cy="298.77" r="2.9"/></g>
<g fill="#3a4ad4" fill-opacity="0.15" stroke="#10105a" stroke-opacity="0.09" stroke-width="0.7"><circle cx="564.55" cy="284.65" r="2.9"/><circle cx="565.35" cy="281.25" r="2.9"/><circle cx="566.15" cy="277.85" r="2.9"/><circle cx="566.95" cy="274.45" r="2.9"/></g>
<g fill="#3a4ad4" fill-opacity="0.36" stroke="#10105a" stroke-opacity="0.22" stroke-width="0.7"><circle cx="461.97" cy="294.22" r="2.9"/><circle cx="462.77" cy="290.82" r="2.9"/><circle cx="463.57" cy="287.42" r="2.9"/></g>
<g fill="#3a4ad4" fill-opacity="0.19" stroke="#10105a" stroke-opacity="0.11" stroke-width="0.7"><circle cx="464.36" cy="428.05" r="2.9"/><circle cx="465.16" cy="424.65" r="2.9"/><circle cx="465.96" cy="421.25" r="2.9"/><circle cx="466.76" cy="417.85" r="2.9"/></g>
<g fill="#3a4ad4" fill-opacity="0.27" stroke="#10105a" stroke-opacity="0.16" stroke-width="0.7"><circle cx="460.04" cy="375.44" r="2.9"/><circle cx="460.84" cy="372.04" r="2.9"/><circle cx="461.64" cy="368.64" r="2.9"/><circle cx="462.44" cy="365.24" r="2.9"/></g>
<g fill="#7482e8" fill-opacity="0.15"><circle cx="560.74" cy="320.24" r="3.1"/><circle cx="561.54" cy="316.84" r="3.1"/><circle cx="562.34" cy="313.44" r="3.1"/></g>
<g fill="#7482e8" fill-opacity="0.17"><circle cx="583.16" cy="412.01" r="3.1"/><circle cx="583.96" cy="408.61" r="3.1"/><circle cx="584.76" cy="405.21" r="3.1"/></g>
<g fill="#7482e8" fill-opacity="0.14"><circle cx="573.91" cy="393.35" r="3.1"/><circle cx="574.71" cy="389.95" r="3.1"/><circle cx="575.51" cy="386.55" r="3.1"/></g>
<g fill="#7482e8" fill-opacity="0.19"><circle cx="567.05" cy="265.27" r="3.1"/><circle cx="567.85" cy="261.87" r="3.1"/><circle cx="568.65" cy="258.47" r="3.1"/><circle cx="569.45" cy="255.07" r="3.1"/><circle cx="570.25" cy="251.67" r="3.1"/></g>
<g fill="#7482e8" fill-opacity="0.2"><circle cx="534.91" cy="323.41" r="3.1"/><circle cx="535.71" cy="320.01" r="3.1"/><circle cx="536.51" cy="316.61" r="3.1"/><circle cx="537.31" cy="313.21" r="3.1"/></g>
<g fill="#7482e8" fill-opacity="0.24"><circle cx="593.01" cy="387.97" r="3.1"/><circle cx="593.81" cy="384.57" r="3.1"/><circle cx="594.61" cy="381.17" r="3.1"/><circle cx="595.41" cy="377.77" r="3.1"/><circle cx="596.21" cy="374.37" r="3.1"/></g>
<g fill="#7482e8" fill-opacity="0.26"><circle cx="541.09" cy="291.97" r="3.1"/><circle cx="541.89" cy="288.57" r="3.1"/><circle cx="542.69" cy="285.17" r="3.1"/><circle cx="543.49" cy="281.77" r="3.1"/><circle cx="544.29" cy="278.37" r="3.1"/></g>
<g fill="#7482e8" fill-opacity="0.13"><circle cx="591.25" cy="442.71" r="3.1"/><circle cx="592.05" cy="439.31" r="3.1"/><circle cx="592.85" cy="435.91" r="3.1"/></g>
<g fill="#7482e8" fill-opacity="0.21"><circle cx="570.49" cy="248.17" r="3.1"/><circle cx="571.29" cy="244.77" r="3.1"/><circle cx="572.09" cy="241.37" r="3.1"/><circle cx="572.89" cy="237.97" r="3.1"/></g>
<g fill="#7482e8" fill-opacity="0.19"><circle cx="586.91" cy="442.88" r="3.1"/><circle cx="587.71" cy="439.48" r="3.1"/><circle cx="588.51" cy="436.08" r="3.1"/></g>
<g fill="#7482e8" fill-opacity="0.15"><circle cx="584.01" cy="320.75" r="3.1"/><circle cx="584.81" cy="317.35" r="3.1"/><circle cx="585.61" cy="313.95" r="3.1"/></g>
<g fill="#7482e8" fill-opacity="0.2"><circle cx="537.85" cy="358.65" r="3.1"/><circle cx="538.65" cy="355.25" r="3.1"/><circle cx="539.45" cy="351.85" r="3.1"/></g>
<g fill="#7482e8" fill-opacity="0.19"><circle cx="566.57" cy="405.91" r="3.1"/><circle cx="567.37" cy="402.51" r="3.1"/><circle cx="568.17" cy="399.11" r="3.1"/><circle cx="568.97" cy="395.71" r="3.1"/></g>
<g fill="#7482e8" fill-opacity="0.21"><circle cx="572.54" cy="429.11" r="3.1"/><circle cx="573.34" cy="425.71" r="3.1"/><circle cx="574.14" cy="422.31" r="3.1"/></g>
<g fill="#7482e8" fill-opacity="0.16"><circle cx="568.47" cy="351.75" r="3.1"/><circle cx="569.27" cy="348.35" r="3.1"/><circle cx="570.07" cy="344.95" r="3.1"/><circle cx="570.87" cy="341.55" r="3.1"/><circle cx="571.67" cy="338.15" r="3.1"/></g>
<g fill="#7482e8" fill-opacity="0.14"><circle cx="589.65" cy="395.92" r="3.1"/><circle cx="590.45" cy="392.52" r="3.1"/><circle cx="591.25" cy="389.12" r="3.1"/><circle cx="592.05" cy="385.72" r="3.1"/></g>
<g fill="#7482e8" fill-opacity="0.24"><circle cx="575.97" cy="409.79" r="3.1"/><circle cx="576.77" cy="406.39" r="3.1"/><circle cx="577.57" cy="402.99" r="3.1"/></g>
<g fill="#7482e8" fill-opacity="0.25"><circle cx="588.49" cy="239.59" r="3.1"/><circle cx="589.29" cy="236.19" r="3.1"/><circle cx="590.09" cy="232.79" r="3.1"/><circle cx="590.89" cy="229.39" r="3.1"/></g>
<g fill="#7482e8" fill-opacity="0.24"><circle cx="584.82" cy="320.81" r="3.1"/><circle cx="585.62" cy="317.41" r="3.1"/><circle cx="586.42" cy="314.01" r="3.1"/><circle cx="587.22" cy="310.61" r="3.1"/></g>
<g fill="#7482e8" fill-opacity="0.21"><circle cx="563.08" cy="265.6" r="3.1"/><circle cx="563.88" cy="262.2" r="3.1"/><circle cx="564.68" cy="258.8" r="3.1"/><circle cx="565.48" cy="255.4" r="3.1"/><circle cx="566.28" cy="252" r="3.1"/></g>
<g fill="#7482e8" fill-opacity="0.25"><circle cx="556.62" cy="319.82" r="3.1"/><circle cx="557.42" cy="316.42" r="3.1"/><circle cx="558.22" cy="313.02" r="3.1"/></g>
<g fill="#7482e8" fill-opacity="0.26"><circle cx="556.46" cy="265.75" r="3.1"/><circle cx="557.26" cy="262.35" r="3.1"/><circle cx="558.06" cy="258.95" r="3.1"/><circle cx="558.86" cy="255.55" r="3.1"/><circle cx="559.66" cy="252.15" r="3.1"/></g>
<g fill="#7482e8" fill-opacity="0.14"><circle cx="545.45" cy="312.62" r="3.1"/><circle cx="546.25" cy="309.22" r="3.1"/><circle cx="547.05" cy="305.82" r="3.1"/></g>
<g fill="#7482e8" fill-opacity="0.25"><circle cx="577.3" cy="343.63" r="3.1"/><circle cx="578.1" cy="340.23" r="3.1"/><circle cx="578.9" cy="336.83" r="3.1"/></g>
<g fill="#7482e8" fill-opacity="0.21"><circle cx="545.87" cy="385.86" r="3.1"/><circle cx="546.67" cy="382.46" r="3.1"/><circle cx="547.47" cy="379.06" r="3.1"/></g>
<g fill="#7482e8" fill-opacity="0.16"><circle cx="533.55" cy="409.31" r="3.1"/><circle cx="534.35" cy="405.91" r="3.1"/><circle cx="535.15" cy="402.51" r="3.1"/><circle cx="535.95" cy="399.11" r="3.1"/></g>
</g>
</g>
<path d="M103 321.9L381 270.9L589.5 180.5" stroke="#000" stroke-width="2.1" stroke-dasharray="7.6 3.3" fill="none"/>
<g clip-path="url(#cP1)"><path d="M430.2 263.2H438.4L434.3 271.4Z" fill="#ff0000" stroke="#000" stroke-width="1"/><path d="M441.7 273.7H449.9L445.8 281.9Z" fill="#ff0000" stroke="#000" stroke-width="1"/><path d="M463.3 250.2H471.5L467.4 258.4Z" fill="#ff0000" stroke="#000" stroke-width="1"/><path d="M471.5 258.8H479.7L475.6 267Z" fill="#ff0000" stroke="#000" stroke-width="1"/><path d="M532.3 244.5H540.5L536.4 252.7Z" fill="#ff0000" stroke="#000" stroke-width="1"/><path d="M513.1 283.5H521.3L517.2 291.7Z" fill="#ff0000" stroke="#000" stroke-width="1"/><path d="M456.5 296.9H464.7L460.6 305.1Z" fill="#ff0000" stroke="#000" stroke-width="1"/><path d="M451.8 306H460L455.9 314.2Z" fill="#ff0000" stroke="#000" stroke-width="1"/><path d="M408.9 311.3H417.1L413 319.5Z" fill="#ff0000" stroke="#000" stroke-width="1"/><path d="M467 330.6H475.2L471.1 338.8Z" fill="#ff0000" stroke="#000" stroke-width="1"/><path d="M552.9 271.5H561.1L557 279.7Z" fill="#ff0000" stroke="#000" stroke-width="1"/><path d="M548.2 283.3H556.4L552.3 291.5Z" fill="#ff0000" stroke="#000" stroke-width="1"/><path d="M561.5 215.6H569.7L565.6 223.8Z" fill="#ff0000" stroke="#000" stroke-width="1"/><path d="M563.4 217.2H571.6L567.5 225.4Z" fill="#ff0000" stroke="#000" stroke-width="1"/><path d="M569.7 227.5H577.9L573.8 235.7Z" fill="#ff0000" stroke="#000" stroke-width="1"/><path d="M362 352.9H370.2L366.1 361.1Z" fill="#ff0000" stroke="#000" stroke-width="1"/><path d="M221.9 396.1H230.1L226 404.3Z" fill="#ff0000" stroke="#000" stroke-width="1"/><path d="M170 435.6H178.2L174.1 443.8Z" fill="#ff0000" stroke="#000" stroke-width="1"/><path d="M473.2 300.4H481.4L477.3 308.6Z" fill="#0000ff" stroke="#000" stroke-width="1"/><path d="M469.7 303.4H477.9L473.8 311.6Z" fill="#0000ff" stroke="#000" stroke-width="1"/><path d="M467 307.8H475.2L471.1 316Z" fill="#0000ff" stroke="#000" stroke-width="1"/><path d="M461.4 313.9H469.6L465.5 322.1Z" fill="#0000ff" stroke="#000" stroke-width="1"/><path d="M497.7 313H505.9L501.8 321.2Z" fill="#0000ff" stroke="#000" stroke-width="1"/><path d="M493.3 317.4H501.5L497.4 325.6Z" fill="#0000ff" stroke="#000" stroke-width="1"/><path d="M488.4 320.9H496.6L492.5 329.1Z" fill="#0000ff" stroke="#000" stroke-width="1"/><path d="M506.5 328.5H514.7L510.6 336.7Z" fill="#0000ff" stroke="#000" stroke-width="1"/><path d="M502.5 332H510.7L506.6 340.2Z" fill="#0000ff" stroke="#000" stroke-width="1"/><path d="M498.1 334.9H506.3L502.2 343.1Z" fill="#0000ff" stroke="#000" stroke-width="1"/><path d="M559.6 275.9H567.8L563.7 284.1Z" fill="#0000ff" stroke="#000" stroke-width="1"/><path d="M556.4 278.9H564.6L560.5 287.1Z" fill="#0000ff" stroke="#000" stroke-width="1"/><path d="M553.8 283.2H562L557.9 291.4Z" fill="#0000ff" stroke="#000" stroke-width="1"/><path d="M548.4 290.2H556.6L552.5 298.4Z" fill="#0000ff" stroke="#000" stroke-width="1"/><path d="M582.7 292.9H590.9L586.8 301.1Z" fill="#0000ff" stroke="#000" stroke-width="1"/></g>
<path d="M440.4 97.6H552.7M514 86.8V109.9" stroke="#333" stroke-width="1.3" fill="none"/>
<path d="M440.4 94.7V100.5M552.7 94.7V100.5M511.1 86.8H516.9M511.1 109.9H516.9" stroke="#333" stroke-width="1.2" fill="none"/>
<polygon points="521.5,97.6 517.75,104.1 510.25,104.1 506.5,97.6 510.25,91.1 517.75,91.1" fill="#800080" stroke="#000" stroke-width="1.15"/>
<path d="M466.7 273.7H496.7M483 262.8V286.1" stroke="#333" stroke-width="1.3" fill="none"/>
<path d="M466.7 270.8V276.6M496.7 270.8V276.6M480.1 262.8H485.9M480.1 286.1H485.9" stroke="#333" stroke-width="1.2" fill="none"/>
<polygon points="490.5,273.7 486.75,280.2 479.25,280.2 475.5,273.7 479.25,267.2 486.75,267.2" fill="#ff0000" stroke="#000" stroke-width="1.15"/>
<path d="M399.2 288.6H431.1M416.4 253V362" stroke="#333" stroke-width="1.3" fill="none"/>
<path d="M399.2 285.7V291.5M431.1 285.7V291.5M413.5 253H419.3M413.5 362H419.3" stroke="#333" stroke-width="1.2" fill="none"/>
<polygon points="423.9,288.6 420.15,295.1 412.65,295.1 408.9,288.6 412.65,282.1 420.15,282.1" fill="#0000ff" stroke="#000" stroke-width="1.15"/>
<path d="M399.8 253.2H418.3M409.3 229.7V295" stroke="#333" stroke-width="1.3" fill="none"/>
<path d="M399.8 250.3V256.1M418.3 250.3V256.1M406.4 229.7H412.2M406.4 295H412.2" stroke="#333" stroke-width="1.2" fill="none"/>
<polygon points="416.8,253.2 413.05,259.7 405.55,259.7 401.8,253.2 405.55,246.7 413.05,246.7" fill="#00ffff" stroke="#000" stroke-width="1.15"/>
<path d="M435 213H473.2M456.6 197.2V232.2" stroke="#000" stroke-width="2.7" fill="none"/>
<path d="M435 208V218M473.2 208V218M451.6 197.2H461.6M451.6 232.2H461.6" stroke="#000" stroke-width="2.2" fill="none"/>
<path d="M456.6 201L468.6 213L456.6 225L444.6 213Z" fill="#ffa500" stroke="#000" stroke-width="1.3"/>
<text transform="translate(536.9 37.6) scale(1.0505 1)" x="-0.04" y="0" font-size="19.6" fill="#ff0000" stroke="#ff0000" stroke-width="0.43">AGN</text>
<text transform="translate(111.5 342.6) scale(1.0558 1)" x="-0.04" y="0" font-size="19.6" fill="#008000" stroke="#008000" stroke-width="0.43">AGN or SFG</text>
<rect x="103" y="14.3" width="486.5" height="442.2" fill="none" stroke="#333" stroke-width="1.75"/>
<path d="M200.3 456.5L200.3 461.5M394.9 456.5L394.9 461.5M589.5 456.5L589.5 461.5M103 368.06L98 368.06M103 191.18L98 191.18M103 14.3L98 14.3" stroke="#000" stroke-width="1.2" fill="none"/>
<path d="M122.86 456.5L122.86 459.4M141.72 456.5L141.72 459.4M157.13 456.5L157.13 459.4M170.16 456.5L170.16 459.4M181.44 456.5L181.44 459.4M191.4 456.5L191.4 459.4M258.88 456.5L258.88 459.4M293.15 456.5L293.15 459.4M317.46 456.5L317.46 459.4M336.32 456.5L336.32 459.4M351.73 456.5L351.73 459.4M364.76 456.5L364.76 459.4M376.04 456.5L376.04 459.4M386 456.5L386 459.4M453.48 456.5L453.48 459.4M487.75 456.5L487.75 459.4M512.06 456.5L512.06 459.4M530.92 456.5L530.92 459.4M546.33 456.5L546.33 459.4M559.36 456.5L559.36 459.4M570.64 456.5L570.64 459.4M580.6 456.5L580.6 459.4M103 438.45L100.1 438.45M103 421.31L100.1 421.31M103 407.3L100.1 407.3M103 395.46L100.1 395.46M103 385.2L100.1 385.2M103 376.15L100.1 376.15M103 314.81L100.1 314.81M103 283.67L100.1 283.67M103 261.57L100.1 261.57M103 244.43L100.1 244.43M103 230.42L100.1 230.42M103 218.58L100.1 218.58M103 208.32L100.1 208.32M103 199.27L100.1 199.27M103 137.93L100.1 137.93M103 106.79L100.1 106.79M103 84.69L100.1 84.69M103 67.55L100.1 67.55M103 53.54L100.1 53.54M103 41.7L100.1 41.7M103 31.44L100.1 31.44M103 22.39L100.1 22.39" stroke="#000" stroke-width="0.9" fill="none"/>
<text x="172.87" y="484" font-size="27.3" fill="#000" text-anchor="start" stroke="#000" stroke-width="0.6" paint-order="stroke" >10</text>
<text x="205.02" y="474.6" font-size="18.9" fill="#000" text-anchor="start" stroke="#000" stroke-width="0.6" paint-order="stroke" >−1</text>
<text x="372.8" y="484" font-size="27.3" fill="#000" text-anchor="start" stroke="#000" stroke-width="0.6" paint-order="stroke" >10</text>
<text x="405.14" y="474.6" font-size="18.9" fill="#000" text-anchor="start" stroke="#000" stroke-width="0.6" paint-order="stroke" >0</text>
<text x="567.85" y="484" font-size="27.3" fill="#000" text-anchor="start" stroke="#000" stroke-width="0.6" paint-order="stroke" >10</text>
<text x="599.49" y="474.6" font-size="18.9" fill="#000" text-anchor="start" stroke="#000" stroke-width="0.6" paint-order="stroke" >1</text>
<text x="38.93" y="377.16" font-size="27.3" fill="#000" text-anchor="start" stroke="#000" stroke-width="0.6" paint-order="stroke" >10</text>
<text x="71.07" y="367.76" font-size="18.9" fill="#000" text-anchor="start" stroke="#000" stroke-width="0.6" paint-order="stroke" >−1</text>
<text x="49.59" y="200.28" font-size="27.3" fill="#000" text-anchor="start" stroke="#000" stroke-width="0.6" paint-order="stroke" >10</text>
<text x="81.93" y="190.88" font-size="18.9" fill="#000" text-anchor="start" stroke="#000" stroke-width="0.6" paint-order="stroke" >0</text>
<text x="50.47" y="23.4" font-size="27.3" fill="#000" text-anchor="start" stroke="#000" stroke-width="0.6" paint-order="stroke" >10</text>
<text x="82.11" y="14" font-size="18.9" fill="#000" text-anchor="start" stroke="#000" stroke-width="0.6" paint-order="stroke" >1</text>
<g clip-path="url(#cP2)">
<rect x="742.5" y="14.4" width="488.4" height="442.6" fill="#fcfbfa"/>
<polygon points="1045,215 1120,225 1172,290 1178,418 1150,430 1095,420 1070,330" fill="#fbe2e2" filter="url(#b8)"/>
<path d="M1062 222L1080 255L1093 287L1102 325L1107 365L1108 404" stroke="#f6c6c6" stroke-width="26" fill="none" stroke-linecap="round" stroke-linejoin="round" filter="url(#b6)"/>
<path d="M1116 232L1132 260L1143 287L1152 330L1156 370L1160 412" stroke="#f6c6c6" stroke-width="26" fill="none" stroke-linecap="round" stroke-linejoin="round" filter="url(#b6)"/>
<polygon points="909,8 1016,8 1054,53 1085,92 1112,131 1132,170 1148,209 1160,250 1158,285 1130,292 1095,270 1073,217 1050,193 1015,170 991,146 972,123 948,92 925,53" fill="#bddaea" filter="url(#b5)"/>
<polygon points="925,8 1005,8 1045,53 1075,92 1102,131 1122,170 1138,209 1148,250 1140,275 1110,262 1085,215 1058,188 1025,165 1000,140 980,116 958,88 937,53" fill="#a6c2de" filter="url(#b6)"/>
<polygon points="968,22 996,22 1035,60 1065,100 1095,140 1118,180 1132,220 1135,250 1118,250 1095,215 1065,185 1035,160 1008,130 988,100 975,60" fill="#8a98c8" opacity="0.75" filter="url(#b8)"/>
<g filter="url(#b1)">
<g fill="#f4a7ab" stroke="#a06868" stroke-width="0.7"><circle cx="1159.34" cy="397.28" r="3.3" fill-opacity="0.6" stroke-opacity="0.36"/><circle cx="1098.41" cy="290.73" r="3.3" fill-opacity="0.44" stroke-opacity="0.26"/><circle cx="1157.78" cy="385.51" r="3.3" fill-opacity="0.43" stroke-opacity="0.26"/><circle cx="1142.05" cy="260.5" r="3.3" fill-opacity="0.58" stroke-opacity="0.35"/><circle cx="1158.08" cy="306.3" r="3.3" fill-opacity="0.5" stroke-opacity="0.3"/><circle cx="1107.08" cy="342.15" r="3.3" fill-opacity="0.5" stroke-opacity="0.3"/><circle cx="1160.07" cy="373.53" r="3.3" fill-opacity="0.49" stroke-opacity="0.29"/><circle cx="1141.98" cy="295.97" r="3.3" fill-opacity="0.59" stroke-opacity="0.35"/><circle cx="1105.77" cy="317.31" r="3.3" fill-opacity="0.51" stroke-opacity="0.31"/><circle cx="1090.15" cy="262.08" r="3.3" fill-opacity="0.4" stroke-opacity="0.24"/><circle cx="1069.39" cy="238.01" r="3.3" fill-opacity="0.58" stroke-opacity="0.35"/><circle cx="1110.37" cy="232.19" r="3.3" fill-opacity="0.52" stroke-opacity="0.31"/><circle cx="1154.96" cy="385.98" r="3.3" fill-opacity="0.5" stroke-opacity="0.3"/><circle cx="1095.96" cy="322.02" r="3.3" fill-opacity="0.46" stroke-opacity="0.28"/><circle cx="1141.02" cy="289.22" r="3.3" fill-opacity="0.6" stroke-opacity="0.36"/><circle cx="1099.36" cy="350.71" r="3.3" fill-opacity="0.58" stroke-opacity="0.35"/><circle cx="1152.23" cy="393.53" r="3.3" fill-opacity="0.37" stroke-opacity="0.22"/><circle cx="1159.83" cy="379.3" r="3.3" fill-opacity="0.44" stroke-opacity="0.26"/><circle cx="1101.17" cy="340.94" r="3.3" fill-opacity="0.36" stroke-opacity="0.22"/><circle cx="1124.43" cy="234.13" r="3.3" fill-opacity="0.4" stroke-opacity="0.24"/><circle cx="1150.98" cy="299.21" r="3.3" fill-opacity="0.56" stroke-opacity="0.33"/><circle cx="1145.91" cy="385.11" r="3.3" fill-opacity="0.47" stroke-opacity="0.28"/><circle cx="1103.87" cy="229.3" r="3.3" fill-opacity="0.54" stroke-opacity="0.32"/><circle cx="1106.48" cy="383.89" r="3.3" fill-opacity="0.44" stroke-opacity="0.26"/><circle cx="1155.56" cy="323.32" r="3.3" fill-opacity="0.59" stroke-opacity="0.35"/><circle cx="1056.78" cy="228.04" r="3.3" fill-opacity="0.44" stroke-opacity="0.26"/><circle cx="1087.97" cy="274.24" r="3.3" fill-opacity="0.42" stroke-opacity="0.25"/><circle cx="1075.06" cy="234.76" r="3.3" fill-opacity="0.38" stroke-opacity="0.23"/><circle cx="1094.86" cy="308.47" r="3.3" fill-opacity="0.4" stroke-opacity="0.24"/><circle cx="1106" cy="322.41" r="3.3" fill-opacity="0.4" stroke-opacity="0.24"/><circle cx="1103.06" cy="330.24" r="3.3" fill-opacity="0.56" stroke-opacity="0.34"/><circle cx="1060.54" cy="242.82" r="3.3" fill-opacity="0.36" stroke-opacity="0.21"/><circle cx="1088.21" cy="291.97" r="3.3" fill-opacity="0.54" stroke-opacity="0.32"/><circle cx="1142.61" cy="307.3" r="3.3" fill-opacity="0.41" stroke-opacity="0.24"/><circle cx="1107.74" cy="318.35" r="3.3" fill-opacity="0.39" stroke-opacity="0.23"/><circle cx="1154.79" cy="368.73" r="3.3" fill-opacity="0.47" stroke-opacity="0.28"/><circle cx="1140.79" cy="266.98" r="3.3" fill-opacity="0.36" stroke-opacity="0.21"/><circle cx="1159.25" cy="324.33" r="3.3" fill-opacity="0.6" stroke-opacity="0.36"/><circle cx="1155.19" cy="361.54" r="3.3" fill-opacity="0.38" stroke-opacity="0.23"/><circle cx="1111.53" cy="334.79" r="3.3" fill-opacity="0.35" stroke-opacity="0.21"/><circle cx="1103.66" cy="354.38" r="3.3" fill-opacity="0.55" stroke-opacity="0.33"/><circle cx="1150.77" cy="369.93" r="3.3" fill-opacity="0.56" stroke-opacity="0.34"/><circle cx="1119.55" cy="239.49" r="3.3" fill-opacity="0.39" stroke-opacity="0.23"/><circle cx="1144.88" cy="350.71" r="3.3" fill-opacity="0.55" stroke-opacity="0.33"/><circle cx="1161.3" cy="407.83" r="3.3" fill-opacity="0.57" stroke-opacity="0.34"/><circle cx="1143.78" cy="328.14" r="3.3" fill-opacity="0.4" stroke-opacity="0.24"/><circle cx="1094.45" cy="278.69" r="3.3" fill-opacity="0.41" stroke-opacity="0.25"/><circle cx="1122.02" cy="235.94" r="3.3" fill-opacity="0.49" stroke-opacity="0.29"/><circle cx="1149.12" cy="356.79" r="3.3" fill-opacity="0.54" stroke-opacity="0.33"/><circle cx="1074.62" cy="226.35" r="3.3" fill-opacity="0.55" stroke-opacity="0.33"/><circle cx="1155.43" cy="347.49" r="3.3" fill-opacity="0.39" stroke-opacity="0.24"/><circle cx="1128.38" cy="227.4" r="3.3" fill-opacity="0.45" stroke-opacity="0.27"/><circle cx="1136.43" cy="266.34" r="3.3" fill-opacity="0.59" stroke-opacity="0.36"/><circle cx="1156.05" cy="377.3" r="3.3" fill-opacity="0.55" stroke-opacity="0.33"/><circle cx="1138.92" cy="286.56" r="3.3" fill-opacity="0.41" stroke-opacity="0.25"/><circle cx="1076.9" cy="238.78" r="3.3" fill-opacity="0.36" stroke-opacity="0.21"/><circle cx="1108.23" cy="337.24" r="3.3" fill-opacity="0.43" stroke-opacity="0.26"/><circle cx="1084.69" cy="282.57" r="3.3" fill-opacity="0.44" stroke-opacity="0.26"/><circle cx="1150.55" cy="348.72" r="3.3" fill-opacity="0.57" stroke-opacity="0.34"/><circle cx="1157.31" cy="397.81" r="3.3" fill-opacity="0.59" stroke-opacity="0.35"/><circle cx="1118.6" cy="238.52" r="3.3" fill-opacity="0.41" stroke-opacity="0.25"/><circle cx="1104" cy="332.66" r="3.3" fill-opacity="0.6" stroke-opacity="0.36"/><circle cx="1158.63" cy="348.82" r="3.3" fill-opacity="0.55" stroke-opacity="0.33"/><circle cx="1121.11" cy="234.57" r="3.3" fill-opacity="0.45" stroke-opacity="0.27"/><circle cx="1151.17" cy="376.5" r="3.3" fill-opacity="0.51" stroke-opacity="0.3"/><circle cx="1066.55" cy="228.11" r="3.3" fill-opacity="0.52" stroke-opacity="0.31"/><circle cx="1104.95" cy="350.95" r="3.3" fill-opacity="0.37" stroke-opacity="0.22"/><circle cx="1077.89" cy="277.35" r="3.3" fill-opacity="0.4" stroke-opacity="0.24"/><circle cx="1102.14" cy="385.78" r="3.3" fill-opacity="0.36" stroke-opacity="0.21"/><circle cx="1152.77" cy="379.48" r="3.3" fill-opacity="0.41" stroke-opacity="0.25"/></g>
<g fill="#f4a7ab" fill-opacity="0.4" stroke="#a06868" stroke-opacity="0.3" stroke-width="0.7"><circle cx="1169.06" cy="287.53" r="3.3"/><circle cx="1119.1" cy="252.61" r="3.3"/><circle cx="1167.04" cy="334.62" r="3.3"/><circle cx="1074.98" cy="328.95" r="3.3"/><circle cx="1121.19" cy="344.42" r="3.3"/><circle cx="1118.67" cy="291.23" r="3.3"/><circle cx="1075.29" cy="304.38" r="3.3"/><circle cx="1085.97" cy="382.06" r="3.3"/><circle cx="1135.5" cy="368.51" r="3.3"/><circle cx="1112.59" cy="249.52" r="3.3"/><circle cx="1094.32" cy="317.43" r="3.3"/><circle cx="1104.1" cy="311.91" r="3.3"/><circle cx="1121.82" cy="264.09" r="3.3"/><circle cx="1167.86" cy="349.65" r="3.3"/><circle cx="1102.25" cy="372.46" r="3.3"/><circle cx="1151.8" cy="302.61" r="3.3"/><circle cx="1090.71" cy="335.46" r="3.3"/><circle cx="1165.42" cy="414.12" r="3.3"/><circle cx="1165.31" cy="363.34" r="3.3"/><circle cx="1105.11" cy="297.75" r="3.3"/><circle cx="1127.35" cy="398.8" r="3.3"/><circle cx="1083.41" cy="346.78" r="3.3"/><circle cx="1067.57" cy="275.71" r="3.3"/><circle cx="1155.67" cy="312.8" r="3.3"/><circle cx="1145.76" cy="385.71" r="3.3"/><circle cx="1085.85" cy="357.76" r="3.3"/><circle cx="1093.86" cy="232.53" r="3.3"/><circle cx="1074.52" cy="255.56" r="3.3"/><circle cx="1164.49" cy="373.53" r="3.3"/><circle cx="1164.6" cy="389.03" r="3.3"/></g>
<g fill="#3a48c8" fill-opacity="0.36" stroke="#10105a" stroke-opacity="0.22" stroke-width="0.7"><circle cx="993.04" cy="92.81" r="3.2"/><circle cx="996.34" cy="95.11" r="3.2"/><circle cx="999.64" cy="97.41" r="3.2"/></g>
<g fill="#3a48c8" fill-opacity="0.22" stroke="#10105a" stroke-opacity="0.13" stroke-width="0.7"><circle cx="1026.81" cy="116.49" r="3.2"/><circle cx="1030.11" cy="118.79" r="3.2"/><circle cx="1033.41" cy="121.09" r="3.2"/><circle cx="1036.71" cy="123.39" r="3.2"/></g>
<g fill="#3a48c8" fill-opacity="0.19" stroke="#10105a" stroke-opacity="0.11" stroke-width="0.7"><circle cx="1098.48" cy="162.35" r="3.2"/><circle cx="1101.78" cy="164.65" r="3.2"/><circle cx="1105.08" cy="166.95" r="3.2"/><circle cx="1108.38" cy="169.25" r="3.2"/><circle cx="1111.68" cy="171.55" r="3.2"/><circle cx="1114.98" cy="173.85" r="3.2"/></g>
<g fill="#3a48c8" fill-opacity="0.39" stroke="#10105a" stroke-opacity="0.24" stroke-width="0.7"><circle cx="990.73" cy="52.67" r="3.2"/><circle cx="994.03" cy="54.97" r="3.2"/><circle cx="997.33" cy="57.27" r="3.2"/><circle cx="1000.63" cy="59.57" r="3.2"/><circle cx="1003.93" cy="61.87" r="3.2"/></g>
<g fill="#3a48c8" fill-opacity="0.29" stroke="#10105a" stroke-opacity="0.18" stroke-width="0.7"><circle cx="1070.75" cy="174.47" r="3.2"/><circle cx="1074.05" cy="176.77" r="3.2"/><circle cx="1077.35" cy="179.07" r="3.2"/><circle cx="1080.65" cy="181.37" r="3.2"/><circle cx="1083.95" cy="183.67" r="3.2"/><circle cx="1087.25" cy="185.97" r="3.2"/></g>
<g fill="#3a48c8" fill-opacity="0.38" stroke="#10105a" stroke-opacity="0.23" stroke-width="0.7"><circle cx="990.1" cy="37.88" r="3.2"/><circle cx="993.4" cy="40.18" r="3.2"/><circle cx="996.7" cy="42.48" r="3.2"/><circle cx="1000" cy="44.78" r="3.2"/></g>
<g fill="#3a48c8" fill-opacity="0.24" stroke="#10105a" stroke-opacity="0.14" stroke-width="0.7"><circle cx="1094.52" cy="196.45" r="3.2"/><circle cx="1097.82" cy="198.75" r="3.2"/><circle cx="1101.12" cy="201.05" r="3.2"/><circle cx="1104.42" cy="203.35" r="3.2"/></g>
<g fill="#3a48c8" fill-opacity="0.27" stroke="#10105a" stroke-opacity="0.16" stroke-width="0.7"><circle cx="994.47" cy="34.6" r="3.2"/><circle cx="997.77" cy="36.9" r="3.2"/><circle cx="1001.07" cy="39.2" r="3.2"/><circle cx="1004.37" cy="41.5" r="3.2"/><circle cx="1007.67" cy="43.8" r="3.2"/><circle cx="1010.97" cy="46.1" r="3.2"/><circle cx="1014.27" cy="48.4" r="3.2"/></g>
<g fill="#3a48c8" fill-opacity="0.23" stroke="#10105a" stroke-opacity="0.14" stroke-width="0.7"><circle cx="1052.5" cy="105.24" r="3.2"/><circle cx="1055.8" cy="107.54" r="3.2"/><circle cx="1059.1" cy="109.84" r="3.2"/><circle cx="1062.4" cy="112.14" r="3.2"/></g>
<g fill="#3a48c8" fill-opacity="0.26" stroke="#10105a" stroke-opacity="0.16" stroke-width="0.7"><circle cx="1054.96" cy="110.1" r="3.2"/><circle cx="1058.26" cy="112.4" r="3.2"/><circle cx="1061.56" cy="114.7" r="3.2"/><circle cx="1064.86" cy="117" r="3.2"/><circle cx="1068.16" cy="119.3" r="3.2"/></g>
<g fill="#3a48c8" fill-opacity="0.31" stroke="#10105a" stroke-opacity="0.18" stroke-width="0.7"><circle cx="984.39" cy="47.5" r="3.2"/><circle cx="987.69" cy="49.8" r="3.2"/><circle cx="990.99" cy="52.1" r="3.2"/><circle cx="994.29" cy="54.4" r="3.2"/><circle cx="997.59" cy="56.7" r="3.2"/><circle cx="1000.89" cy="59" r="3.2"/></g>
<g fill="#3a48c8" fill-opacity="0.24" stroke="#10105a" stroke-opacity="0.14" stroke-width="0.7"><circle cx="1107.33" cy="186.81" r="3.2"/><circle cx="1110.63" cy="189.11" r="3.2"/><circle cx="1113.93" cy="191.41" r="3.2"/><circle cx="1117.23" cy="193.71" r="3.2"/><circle cx="1120.53" cy="196.01" r="3.2"/></g>
<g fill="#3a48c8" fill-opacity="0.26" stroke="#10105a" stroke-opacity="0.16" stroke-width="0.7"><circle cx="1025.8" cy="93.44" r="3.2"/><circle cx="1029.1" cy="95.74" r="3.2"/><circle cx="1032.4" cy="98.04" r="3.2"/><circle cx="1035.7" cy="100.34" r="3.2"/><circle cx="1039" cy="102.64" r="3.2"/></g>
<g fill="#3a48c8" fill-opacity="0.2" stroke="#10105a" stroke-opacity="0.12" stroke-width="0.7"><circle cx="1095.01" cy="191.63" r="3.2"/><circle cx="1098.31" cy="193.93" r="3.2"/><circle cx="1101.61" cy="196.23" r="3.2"/><circle cx="1104.91" cy="198.53" r="3.2"/><circle cx="1108.21" cy="200.83" r="3.2"/><circle cx="1111.51" cy="203.13" r="3.2"/></g>
<g fill="#3a48c8" fill-opacity="0.35" stroke="#10105a" stroke-opacity="0.21" stroke-width="0.7"><circle cx="1017.8" cy="85.43" r="3.2"/><circle cx="1021.1" cy="87.73" r="3.2"/><circle cx="1024.4" cy="90.03" r="3.2"/><circle cx="1027.7" cy="92.33" r="3.2"/></g>
<g fill="#3a48c8" fill-opacity="0.3" stroke="#10105a" stroke-opacity="0.18" stroke-width="0.7"><circle cx="1082.22" cy="144.78" r="3.2"/><circle cx="1085.52" cy="147.08" r="3.2"/><circle cx="1088.82" cy="149.38" r="3.2"/><circle cx="1092.12" cy="151.68" r="3.2"/><circle cx="1095.42" cy="153.98" r="3.2"/><circle cx="1098.72" cy="156.28" r="3.2"/></g>
<g fill="#3a48c8" fill-opacity="0.25" stroke="#10105a" stroke-opacity="0.15" stroke-width="0.7"><circle cx="1034.12" cy="117.6" r="3.2"/><circle cx="1037.42" cy="119.9" r="3.2"/><circle cx="1040.72" cy="122.2" r="3.2"/><circle cx="1044.02" cy="124.5" r="3.2"/><circle cx="1047.32" cy="126.8" r="3.2"/><circle cx="1050.62" cy="129.1" r="3.2"/></g>
<g fill="#3a48c8" fill-opacity="0.33" stroke="#10105a" stroke-opacity="0.2" stroke-width="0.7"><circle cx="1063.19" cy="105.64" r="3.2"/><circle cx="1066.49" cy="107.94" r="3.2"/><circle cx="1069.79" cy="110.24" r="3.2"/></g>
<g fill="#3a48c8" fill-opacity="0.25" stroke="#10105a" stroke-opacity="0.15" stroke-width="0.7"><circle cx="1003.83" cy="109.06" r="3.2"/><circle cx="1007.13" cy="111.36" r="3.2"/><circle cx="1010.43" cy="113.66" r="3.2"/><circle cx="1013.73" cy="115.96" r="3.2"/></g>
<g fill="#3a48c8" fill-opacity="0.18" stroke="#10105a" stroke-opacity="0.11" stroke-width="0.7"><circle cx="1011.94" cy="104.37" r="3.2"/><circle cx="1015.24" cy="106.67" r="3.2"/><circle cx="1018.54" cy="108.97" r="3.2"/></g>
<g fill="#3a48c8" fill-opacity="0.18" stroke="#10105a" stroke-opacity="0.11" stroke-width="0.7"><circle cx="1054.17" cy="146.19" r="3.2"/><circle cx="1057.47" cy="148.49" r="3.2"/><circle cx="1060.77" cy="150.79" r="3.2"/><circle cx="1064.07" cy="153.09" r="3.2"/></g>
<g fill="#3a48c8" fill-opacity="0.35" stroke="#10105a" stroke-opacity="0.21" stroke-width="0.7"><circle cx="1015.17" cy="83.47" r="3.2"/><circle cx="1018.47" cy="85.77" r="3.2"/><circle cx="1021.77" cy="88.07" r="3.2"/><circle cx="1025.07" cy="90.37" r="3.2"/><circle cx="1028.37" cy="92.67" r="3.2"/></g>
<g fill="#3a48c8" fill-opacity="0.31" stroke="#10105a" stroke-opacity="0.19" stroke-width="0.7"><circle cx="1027.22" cy="73.49" r="3.2"/><circle cx="1030.52" cy="75.79" r="3.2"/><circle cx="1033.82" cy="78.09" r="3.2"/><circle cx="1037.12" cy="80.39" r="3.2"/><circle cx="1040.42" cy="82.69" r="3.2"/></g>
<g fill="#3a48c8" fill-opacity="0.27" stroke="#10105a" stroke-opacity="0.16" stroke-width="0.7"><circle cx="1017.74" cy="138.85" r="3.2"/><circle cx="1021.04" cy="141.15" r="3.2"/><circle cx="1024.34" cy="143.45" r="3.2"/><circle cx="1027.64" cy="145.75" r="3.2"/><circle cx="1030.94" cy="148.05" r="3.2"/><circle cx="1034.24" cy="150.35" r="3.2"/><circle cx="1037.54" cy="152.65" r="3.2"/></g>
<g fill="#3a48c8" fill-opacity="0.3" stroke="#10105a" stroke-opacity="0.18" stroke-width="0.7"><circle cx="1065.51" cy="122.29" r="3.2"/><circle cx="1068.81" cy="124.59" r="3.2"/><circle cx="1072.11" cy="126.89" r="3.2"/><circle cx="1075.41" cy="129.19" r="3.2"/><circle cx="1078.71" cy="131.49" r="3.2"/><circle cx="1082.01" cy="133.79" r="3.2"/><circle cx="1085.31" cy="136.09" r="3.2"/></g>
<g fill="#3a48c8" fill-opacity="0.31" stroke="#10105a" stroke-opacity="0.19" stroke-width="0.7"><circle cx="1090.14" cy="201.72" r="3.2"/><circle cx="1093.44" cy="204.02" r="3.2"/><circle cx="1096.74" cy="206.32" r="3.2"/><circle cx="1100.04" cy="208.62" r="3.2"/><circle cx="1103.34" cy="210.92" r="3.2"/></g>
<g fill="#3a48c8" fill-opacity="0.33" stroke="#10105a" stroke-opacity="0.2" stroke-width="0.7"><circle cx="1078.65" cy="168.98" r="3.2"/><circle cx="1081.95" cy="171.28" r="3.2"/><circle cx="1085.25" cy="173.58" r="3.2"/><circle cx="1088.55" cy="175.88" r="3.2"/><circle cx="1091.85" cy="178.18" r="3.2"/><circle cx="1095.15" cy="180.48" r="3.2"/><circle cx="1098.45" cy="182.78" r="3.2"/></g>
<g fill="#3a48c8" fill-opacity="0.37" stroke="#10105a" stroke-opacity="0.22" stroke-width="0.7"><circle cx="1039.2" cy="162.53" r="3.2"/><circle cx="1042.5" cy="164.83" r="3.2"/><circle cx="1045.8" cy="167.13" r="3.2"/><circle cx="1049.1" cy="169.43" r="3.2"/><circle cx="1052.4" cy="171.73" r="3.2"/><circle cx="1055.7" cy="174.03" r="3.2"/></g>
<g fill="#3a48c8" fill-opacity="0.31" stroke="#10105a" stroke-opacity="0.19" stroke-width="0.7"><circle cx="1035.18" cy="144.47" r="3.2"/><circle cx="1038.48" cy="146.77" r="3.2"/><circle cx="1041.78" cy="149.07" r="3.2"/><circle cx="1045.08" cy="151.37" r="3.2"/></g>
<g fill="#3a48c8" fill-opacity="0.2" stroke="#10105a" stroke-opacity="0.12" stroke-width="0.7"><circle cx="1101.75" cy="225.24" r="3.2"/><circle cx="1105.05" cy="227.54" r="3.2"/><circle cx="1108.35" cy="229.84" r="3.2"/><circle cx="1111.65" cy="232.14" r="3.2"/><circle cx="1114.95" cy="234.44" r="3.2"/><circle cx="1118.25" cy="236.74" r="3.2"/></g>
<g fill="#3a48c8" fill-opacity="0.27" stroke="#10105a" stroke-opacity="0.16" stroke-width="0.7"><circle cx="1107.05" cy="213.33" r="3.2"/><circle cx="1110.35" cy="215.63" r="3.2"/><circle cx="1113.65" cy="217.93" r="3.2"/><circle cx="1116.95" cy="220.23" r="3.2"/><circle cx="1120.25" cy="222.53" r="3.2"/></g>
<g fill="#3a48c8" fill-opacity="0.25" stroke="#10105a" stroke-opacity="0.15" stroke-width="0.7"><circle cx="1052.68" cy="142.84" r="3.2"/><circle cx="1055.98" cy="145.14" r="3.2"/><circle cx="1059.28" cy="147.44" r="3.2"/></g>
<g fill="#3a48c8" fill-opacity="0.31" stroke="#10105a" stroke-opacity="0.19" stroke-width="0.7"><circle cx="1053.91" cy="95.15" r="3.2"/><circle cx="1057.21" cy="97.45" r="3.2"/><circle cx="1060.51" cy="99.75" r="3.2"/><circle cx="1063.81" cy="102.05" r="3.2"/><circle cx="1067.11" cy="104.35" r="3.2"/></g>
<g fill="#3a48c8" fill-opacity="0.19" stroke="#10105a" stroke-opacity="0.11" stroke-width="0.7"><circle cx="1117.2" cy="246.69" r="3.2"/><circle cx="1120.5" cy="248.99" r="3.2"/><circle cx="1123.8" cy="251.29" r="3.2"/></g>
<g fill="#3a48c8" fill-opacity="0.21" stroke="#10105a" stroke-opacity="0.12" stroke-width="0.7"><circle cx="1032.79" cy="85.78" r="3.2"/><circle cx="1036.09" cy="88.08" r="3.2"/><circle cx="1039.39" cy="90.38" r="3.2"/></g>
<g fill="#3a48c8" fill-opacity="0.22" stroke="#10105a" stroke-opacity="0.13" stroke-width="0.7"><circle cx="1081.97" cy="184.78" r="3.2"/><circle cx="1085.27" cy="187.08" r="3.2"/><circle cx="1088.57" cy="189.38" r="3.2"/></g>
<g fill="#3a48c8" fill-opacity="0.36" stroke="#10105a" stroke-opacity="0.21" stroke-width="0.7"><circle cx="1123.4" cy="222.45" r="3.2"/><circle cx="1126.7" cy="224.75" r="3.2"/><circle cx="1130" cy="227.05" r="3.2"/><circle cx="1133.3" cy="229.35" r="3.2"/><circle cx="1136.6" cy="231.65" r="3.2"/><circle cx="1139.9" cy="233.95" r="3.2"/><circle cx="1143.2" cy="236.25" r="3.2"/></g>
<g fill="#3a48c8" fill-opacity="0.25" stroke="#10105a" stroke-opacity="0.15" stroke-width="0.7"><circle cx="992.77" cy="52.42" r="3.2"/><circle cx="996.07" cy="54.72" r="3.2"/><circle cx="999.37" cy="57.02" r="3.2"/></g>
<g fill="#3a48c8" fill-opacity="0.4" stroke="#10105a" stroke-opacity="0.24" stroke-width="0.7"><circle cx="1012.34" cy="125.27" r="3.2"/><circle cx="1015.64" cy="127.57" r="3.2"/><circle cx="1018.94" cy="129.87" r="3.2"/><circle cx="1022.24" cy="132.17" r="3.2"/><circle cx="1025.54" cy="134.47" r="3.2"/><circle cx="1028.84" cy="136.77" r="3.2"/></g>
<g fill="#3a48c8" fill-opacity="0.22" stroke="#10105a" stroke-opacity="0.13" stroke-width="0.7"><circle cx="1086.13" cy="161.78" r="3.2"/><circle cx="1089.43" cy="164.08" r="3.2"/><circle cx="1092.73" cy="166.38" r="3.2"/><circle cx="1096.03" cy="168.68" r="3.2"/><circle cx="1099.33" cy="170.98" r="3.2"/></g>
<g fill="#3a48c8" fill-opacity="0.34" stroke="#10105a" stroke-opacity="0.2" stroke-width="0.7"><circle cx="976.62" cy="57.89" r="3.2"/><circle cx="979.92" cy="60.19" r="3.2"/><circle cx="983.22" cy="62.49" r="3.2"/><circle cx="986.52" cy="64.79" r="3.2"/></g>
<g fill="#3a48c8" fill-opacity="0.37" stroke="#10105a" stroke-opacity="0.22" stroke-width="0.7"><circle cx="1125.61" cy="219.7" r="3.2"/><circle cx="1128.91" cy="222" r="3.2"/><circle cx="1132.21" cy="224.3" r="3.2"/><circle cx="1135.51" cy="226.6" r="3.2"/><circle cx="1138.81" cy="228.9" r="3.2"/><circle cx="1142.11" cy="231.2" r="3.2"/></g>
<g fill="#3a48c8" fill-opacity="0.34" stroke="#10105a" stroke-opacity="0.2" stroke-width="0.7"><circle cx="1055.94" cy="138.19" r="3.2"/><circle cx="1059.24" cy="140.49" r="3.2"/><circle cx="1062.54" cy="142.79" r="3.2"/><circle cx="1065.84" cy="145.09" r="3.2"/><circle cx="1069.14" cy="147.39" r="3.2"/></g>
<g fill="#3a48c8" fill-opacity="0.36" stroke="#10105a" stroke-opacity="0.22" stroke-width="0.7"><circle cx="1034.03" cy="89.84" r="3.2"/><circle cx="1037.33" cy="92.14" r="3.2"/><circle cx="1040.63" cy="94.44" r="3.2"/></g>
<g fill="#3a48c8" fill-opacity="0.33" stroke="#10105a" stroke-opacity="0.2" stroke-width="0.7"><circle cx="993.68" cy="53.4" r="3.2"/><circle cx="996.98" cy="55.7" r="3.2"/><circle cx="1000.28" cy="58" r="3.2"/></g>
<g fill="#3a48c8" fill-opacity="0.33" stroke="#10105a" stroke-opacity="0.2" stroke-width="0.7"><circle cx="1063.61" cy="143.88" r="3.2"/><circle cx="1066.91" cy="146.18" r="3.2"/><circle cx="1070.21" cy="148.48" r="3.2"/><circle cx="1073.51" cy="150.78" r="3.2"/><circle cx="1076.81" cy="153.08" r="3.2"/><circle cx="1080.11" cy="155.38" r="3.2"/><circle cx="1083.41" cy="157.68" r="3.2"/></g>
<g fill="#3a48c8" fill-opacity="0.18" stroke="#10105a" stroke-opacity="0.11" stroke-width="0.7"><circle cx="1081.3" cy="182.55" r="3.2"/><circle cx="1084.6" cy="184.85" r="3.2"/><circle cx="1087.9" cy="187.15" r="3.2"/></g>
<g fill="#3a48c8" fill-opacity="0.33" stroke="#10105a" stroke-opacity="0.2" stroke-width="0.7"><circle cx="1050.03" cy="133.73" r="3.2"/><circle cx="1053.33" cy="136.03" r="3.2"/><circle cx="1056.63" cy="138.33" r="3.2"/><circle cx="1059.93" cy="140.63" r="3.2"/><circle cx="1063.23" cy="142.93" r="3.2"/></g>
<g fill="#3a48c8" fill-opacity="0.32" stroke="#10105a" stroke-opacity="0.19" stroke-width="0.7"><circle cx="993.76" cy="40.14" r="3.2"/><circle cx="997.06" cy="42.44" r="3.2"/><circle cx="1000.36" cy="44.74" r="3.2"/></g>
<g fill="#3a48c8" fill-opacity="0.24" stroke="#10105a" stroke-opacity="0.14" stroke-width="0.7"><circle cx="1085.1" cy="150.2" r="3.2"/><circle cx="1088.4" cy="152.5" r="3.2"/><circle cx="1091.7" cy="154.8" r="3.2"/><circle cx="1095" cy="157.1" r="3.2"/><circle cx="1098.3" cy="159.4" r="3.2"/><circle cx="1101.6" cy="161.7" r="3.2"/></g>
<g fill="#3a48c8" fill-opacity="0.25" stroke="#10105a" stroke-opacity="0.15" stroke-width="0.7"><circle cx="1073.76" cy="140.72" r="3.2"/><circle cx="1077.06" cy="143.02" r="3.2"/><circle cx="1080.36" cy="145.32" r="3.2"/><circle cx="1083.66" cy="147.62" r="3.2"/><circle cx="1086.96" cy="149.92" r="3.2"/><circle cx="1090.26" cy="152.22" r="3.2"/></g>
<g fill="#3a48c8" fill-opacity="0.35" stroke="#10105a" stroke-opacity="0.21" stroke-width="0.7"><circle cx="1015.38" cy="55.69" r="3.2"/><circle cx="1018.68" cy="57.99" r="3.2"/><circle cx="1021.98" cy="60.29" r="3.2"/></g>
<g fill="#3a48c8" fill-opacity="0.32" stroke="#10105a" stroke-opacity="0.19" stroke-width="0.7"><circle cx="1057.12" cy="123.62" r="3.2"/><circle cx="1060.42" cy="125.92" r="3.2"/><circle cx="1063.72" cy="128.22" r="3.2"/><circle cx="1067.02" cy="130.52" r="3.2"/><circle cx="1070.32" cy="132.82" r="3.2"/><circle cx="1073.62" cy="135.12" r="3.2"/></g>
<g fill="#3a48c8" fill-opacity="0.39" stroke="#10105a" stroke-opacity="0.23" stroke-width="0.7"><circle cx="1038.46" cy="149.92" r="3.2"/><circle cx="1041.76" cy="152.22" r="3.2"/><circle cx="1045.06" cy="154.52" r="3.2"/><circle cx="1048.36" cy="156.82" r="3.2"/><circle cx="1051.66" cy="159.12" r="3.2"/></g>
<g fill="#3a48c8" fill-opacity="0.32" stroke="#10105a" stroke-opacity="0.19" stroke-width="0.7"><circle cx="1112.51" cy="206.71" r="3.2"/><circle cx="1115.81" cy="209.01" r="3.2"/><circle cx="1119.11" cy="211.31" r="3.2"/><circle cx="1122.41" cy="213.61" r="3.2"/></g>
<g fill="#3a48c8" fill-opacity="0.18" stroke="#10105a" stroke-opacity="0.11" stroke-width="0.7"><circle cx="1023.02" cy="85.97" r="3.2"/><circle cx="1026.32" cy="88.27" r="3.2"/><circle cx="1029.62" cy="90.57" r="3.2"/><circle cx="1032.92" cy="92.87" r="3.2"/><circle cx="1036.22" cy="95.17" r="3.2"/></g>
<g fill="#3a48c8" fill-opacity="0.4" stroke="#10105a" stroke-opacity="0.24" stroke-width="0.7"><circle cx="985.15" cy="28.56" r="3.2"/><circle cx="988.45" cy="30.86" r="3.2"/><circle cx="991.75" cy="33.16" r="3.2"/><circle cx="995.05" cy="35.46" r="3.2"/><circle cx="998.35" cy="37.76" r="3.2"/></g>
<g fill="#3a48c8" fill-opacity="0.34" stroke="#10105a" stroke-opacity="0.21" stroke-width="0.7"><circle cx="1069.81" cy="154.09" r="3.2"/><circle cx="1073.11" cy="156.39" r="3.2"/><circle cx="1076.41" cy="158.69" r="3.2"/><circle cx="1079.71" cy="160.99" r="3.2"/><circle cx="1083.01" cy="163.29" r="3.2"/><circle cx="1086.31" cy="165.59" r="3.2"/></g>
<g fill="#3a48c8" fill-opacity="0.29" stroke="#10105a" stroke-opacity="0.17" stroke-width="0.7"><circle cx="1039.12" cy="135.76" r="3.2"/><circle cx="1042.42" cy="138.06" r="3.2"/><circle cx="1045.72" cy="140.36" r="3.2"/></g>
<g fill="#3a48c8" fill-opacity="0.22" stroke="#10105a" stroke-opacity="0.13" stroke-width="0.7"><circle cx="1045.25" cy="113.19" r="3.2"/><circle cx="1048.55" cy="115.49" r="3.2"/><circle cx="1051.85" cy="117.79" r="3.2"/><circle cx="1055.15" cy="120.09" r="3.2"/><circle cx="1058.45" cy="122.39" r="3.2"/><circle cx="1061.75" cy="124.69" r="3.2"/></g>
<g fill="#3a48c8" fill-opacity="0.28" stroke="#10105a" stroke-opacity="0.17" stroke-width="0.7"><circle cx="1072.46" cy="137.82" r="3.2"/><circle cx="1075.76" cy="140.12" r="3.2"/><circle cx="1079.06" cy="142.42" r="3.2"/><circle cx="1082.36" cy="144.72" r="3.2"/><circle cx="1085.66" cy="147.02" r="3.2"/><circle cx="1088.96" cy="149.32" r="3.2"/></g>
<g fill="#3a48c8" fill-opacity="0.3" stroke="#10105a" stroke-opacity="0.18" stroke-width="0.7"><circle cx="1048.48" cy="111.39" r="3.2"/><circle cx="1051.78" cy="113.69" r="3.2"/><circle cx="1055.08" cy="115.99" r="3.2"/></g>
<g fill="#3a48c8" fill-opacity="0.3" stroke="#10105a" stroke-opacity="0.18" stroke-width="0.7"><circle cx="1019.23" cy="111.62" r="3.2"/><circle cx="1022.53" cy="113.92" r="3.2"/><circle cx="1025.83" cy="116.22" r="3.2"/><circle cx="1029.13" cy="118.52" r="3.2"/><circle cx="1032.43" cy="120.82" r="3.2"/><circle cx="1035.73" cy="123.12" r="3.2"/><circle cx="1039.03" cy="125.42" r="3.2"/></g>
<g fill="#3a48c8" fill-opacity="0.28" stroke="#10105a" stroke-opacity="0.17" stroke-width="0.7"><circle cx="1074.13" cy="147.56" r="3.2"/><circle cx="1077.43" cy="149.86" r="3.2"/><circle cx="1080.73" cy="152.16" r="3.2"/><circle cx="1084.03" cy="154.46" r="3.2"/><circle cx="1087.33" cy="156.76" r="3.2"/><circle cx="1090.63" cy="159.06" r="3.2"/></g>
<g fill="#3a48c8" fill-opacity="0.34" stroke="#10105a" stroke-opacity="0.2" stroke-width="0.7"><circle cx="1073.64" cy="166.26" r="3.2"/><circle cx="1076.94" cy="168.56" r="3.2"/><circle cx="1080.24" cy="170.86" r="3.2"/><circle cx="1083.54" cy="173.16" r="3.2"/></g>
<g fill="#3a48c8" fill-opacity="0.24" stroke="#10105a" stroke-opacity="0.14" stroke-width="0.7"><circle cx="1029.34" cy="120.94" r="3.2"/><circle cx="1032.64" cy="123.24" r="3.2"/><circle cx="1035.94" cy="125.54" r="3.2"/><circle cx="1039.24" cy="127.84" r="3.2"/><circle cx="1042.54" cy="130.14" r="3.2"/><circle cx="1045.84" cy="132.44" r="3.2"/><circle cx="1049.14" cy="134.74" r="3.2"/></g>
<g fill="#3a48c8" fill-opacity="0.17" stroke="#10105a" stroke-opacity="0.1" stroke-width="0.7"><circle cx="1070.51" cy="110.22" r="3.2"/><circle cx="1073.81" cy="112.52" r="3.2"/><circle cx="1077.11" cy="114.82" r="3.2"/><circle cx="1080.41" cy="117.12" r="3.2"/><circle cx="1083.71" cy="119.42" r="3.2"/><circle cx="1087.01" cy="121.72" r="3.2"/></g>
<g fill="#3a48c8" fill-opacity="0.16" stroke="#10105a" stroke-opacity="0.1" stroke-width="0.7"><circle cx="1027.88" cy="106.19" r="3.2"/><circle cx="1031.18" cy="108.49" r="3.2"/><circle cx="1034.48" cy="110.79" r="3.2"/><circle cx="1037.78" cy="113.09" r="3.2"/><circle cx="1041.08" cy="115.39" r="3.2"/><circle cx="1044.38" cy="117.69" r="3.2"/></g>
<g fill="#3a48c8" fill-opacity="0.37" stroke="#10105a" stroke-opacity="0.22" stroke-width="0.7"><circle cx="1071.27" cy="171.76" r="3.2"/><circle cx="1074.57" cy="174.06" r="3.2"/><circle cx="1077.87" cy="176.36" r="3.2"/><circle cx="1081.17" cy="178.66" r="3.2"/></g>
<g fill="#3a48c8" fill-opacity="0.24" stroke="#10105a" stroke-opacity="0.15" stroke-width="0.7"><circle cx="1012.21" cy="94.48" r="3.2"/><circle cx="1015.51" cy="96.78" r="3.2"/><circle cx="1018.81" cy="99.08" r="3.2"/><circle cx="1022.11" cy="101.38" r="3.2"/><circle cx="1025.41" cy="103.68" r="3.2"/><circle cx="1028.71" cy="105.98" r="3.2"/><circle cx="1032.01" cy="108.28" r="3.2"/></g>
<g fill="#4452d0" fill-opacity="0.26" stroke="#10105a" stroke-opacity="0.16" stroke-width="0.7"><circle cx="989.15" cy="30.03" r="3.2"/><circle cx="992.45" cy="32.33" r="3.2"/><circle cx="995.75" cy="34.63" r="3.2"/><circle cx="999.05" cy="36.93" r="3.2"/><circle cx="1002.35" cy="39.23" r="3.2"/><circle cx="1005.65" cy="41.53" r="3.2"/></g>
<g fill="#4452d0" fill-opacity="0.12" stroke="#10105a" stroke-opacity="0.07" stroke-width="0.7"><circle cx="1094.66" cy="228.83" r="3.2"/><circle cx="1097.96" cy="231.13" r="3.2"/><circle cx="1101.26" cy="233.43" r="3.2"/></g>
<g fill="#4452d0" fill-opacity="0.13" stroke="#10105a" stroke-opacity="0.08" stroke-width="0.7"><circle cx="1080.78" cy="170.11" r="3.2"/><circle cx="1084.08" cy="172.41" r="3.2"/><circle cx="1087.38" cy="174.71" r="3.2"/><circle cx="1090.68" cy="177.01" r="3.2"/></g>
<g fill="#4452d0" fill-opacity="0.32" stroke="#10105a" stroke-opacity="0.19" stroke-width="0.7"><circle cx="997.79" cy="70.12" r="3.2"/><circle cx="1001.09" cy="72.42" r="3.2"/><circle cx="1004.39" cy="74.72" r="3.2"/><circle cx="1007.69" cy="77.02" r="3.2"/><circle cx="1010.99" cy="79.32" r="3.2"/><circle cx="1014.29" cy="81.62" r="3.2"/></g>
<g fill="#4452d0" fill-opacity="0.27" stroke="#10105a" stroke-opacity="0.16" stroke-width="0.7"><circle cx="1050.25" cy="124.27" r="3.2"/><circle cx="1053.55" cy="126.57" r="3.2"/><circle cx="1056.85" cy="128.87" r="3.2"/></g>
<g fill="#4452d0" fill-opacity="0.27" stroke="#10105a" stroke-opacity="0.16" stroke-width="0.7"><circle cx="1103.82" cy="231.81" r="3.2"/><circle cx="1107.12" cy="234.11" r="3.2"/><circle cx="1110.42" cy="236.41" r="3.2"/><circle cx="1113.72" cy="238.71" r="3.2"/><circle cx="1117.02" cy="241.01" r="3.2"/></g>
<g fill="#4452d0" fill-opacity="0.14" stroke="#10105a" stroke-opacity="0.08" stroke-width="0.7"><circle cx="1112.66" cy="227.81" r="3.2"/><circle cx="1115.96" cy="230.11" r="3.2"/><circle cx="1119.26" cy="232.41" r="3.2"/><circle cx="1122.56" cy="234.71" r="3.2"/><circle cx="1125.86" cy="237.01" r="3.2"/><circle cx="1129.16" cy="239.31" r="3.2"/></g>
<g fill="#4452d0" fill-opacity="0.25" stroke="#10105a" stroke-opacity="0.15" stroke-width="0.7"><circle cx="1124.74" cy="251.68" r="3.2"/><circle cx="1128.04" cy="253.98" r="3.2"/><circle cx="1131.34" cy="256.28" r="3.2"/><circle cx="1134.64" cy="258.58" r="3.2"/><circle cx="1137.94" cy="260.88" r="3.2"/></g>
<g fill="#4452d0" fill-opacity="0.27" stroke="#10105a" stroke-opacity="0.16" stroke-width="0.7"><circle cx="984.78" cy="48.93" r="3.2"/><circle cx="988.08" cy="51.23" r="3.2"/><circle cx="991.38" cy="53.53" r="3.2"/><circle cx="994.68" cy="55.83" r="3.2"/><circle cx="997.98" cy="58.13" r="3.2"/><circle cx="1001.28" cy="60.43" r="3.2"/></g>
<g fill="#4452d0" fill-opacity="0.3" stroke="#10105a" stroke-opacity="0.18" stroke-width="0.7"><circle cx="1097.92" cy="186.08" r="3.2"/><circle cx="1101.22" cy="188.38" r="3.2"/><circle cx="1104.52" cy="190.68" r="3.2"/></g>
<g fill="#4452d0" fill-opacity="0.15" stroke="#10105a" stroke-opacity="0.09" stroke-width="0.7"><circle cx="1018.92" cy="64.97" r="3.2"/><circle cx="1022.22" cy="67.27" r="3.2"/><circle cx="1025.52" cy="69.57" r="3.2"/></g>
<g fill="#4452d0" fill-opacity="0.24" stroke="#10105a" stroke-opacity="0.15" stroke-width="0.7"><circle cx="1071.63" cy="125.87" r="3.2"/><circle cx="1074.93" cy="128.17" r="3.2"/><circle cx="1078.23" cy="130.47" r="3.2"/><circle cx="1081.53" cy="132.77" r="3.2"/><circle cx="1084.83" cy="135.07" r="3.2"/></g>
<g fill="#4452d0" fill-opacity="0.26" stroke="#10105a" stroke-opacity="0.16" stroke-width="0.7"><circle cx="1012.81" cy="94.63" r="3.2"/><circle cx="1016.11" cy="96.93" r="3.2"/><circle cx="1019.41" cy="99.23" r="3.2"/><circle cx="1022.71" cy="101.53" r="3.2"/><circle cx="1026.01" cy="103.83" r="3.2"/><circle cx="1029.31" cy="106.13" r="3.2"/></g>
<g fill="#4452d0" fill-opacity="0.15" stroke="#10105a" stroke-opacity="0.09" stroke-width="0.7"><circle cx="970.24" cy="49.35" r="3.2"/><circle cx="973.54" cy="51.65" r="3.2"/><circle cx="976.84" cy="53.95" r="3.2"/><circle cx="980.14" cy="56.25" r="3.2"/><circle cx="983.44" cy="58.55" r="3.2"/><circle cx="986.74" cy="60.85" r="3.2"/></g>
<g fill="#4452d0" fill-opacity="0.31" stroke="#10105a" stroke-opacity="0.19" stroke-width="0.7"><circle cx="1135.77" cy="243.56" r="3.2"/><circle cx="1139.07" cy="245.86" r="3.2"/><circle cx="1142.37" cy="248.16" r="3.2"/><circle cx="1145.67" cy="250.46" r="3.2"/><circle cx="1148.97" cy="252.76" r="3.2"/><circle cx="1152.27" cy="255.06" r="3.2"/></g>
<g fill="#4452d0" fill-opacity="0.13" stroke="#10105a" stroke-opacity="0.08" stroke-width="0.7"><circle cx="961.18" cy="54.41" r="3.2"/><circle cx="964.48" cy="56.71" r="3.2"/><circle cx="967.78" cy="59.01" r="3.2"/></g>
<g fill="#4452d0" fill-opacity="0.24" stroke="#10105a" stroke-opacity="0.14" stroke-width="0.7"><circle cx="990.06" cy="86.12" r="3.2"/><circle cx="993.36" cy="88.42" r="3.2"/><circle cx="996.66" cy="90.72" r="3.2"/><circle cx="999.96" cy="93.02" r="3.2"/><circle cx="1003.26" cy="95.32" r="3.2"/></g>
<g fill="#4452d0" fill-opacity="0.27" stroke="#10105a" stroke-opacity="0.16" stroke-width="0.7"><circle cx="1010.38" cy="80.52" r="3.2"/><circle cx="1013.68" cy="82.82" r="3.2"/><circle cx="1016.98" cy="85.12" r="3.2"/></g>
<g fill="#4452d0" fill-opacity="0.26" stroke="#10105a" stroke-opacity="0.15" stroke-width="0.7"><circle cx="984.09" cy="24.6" r="3.2"/><circle cx="987.39" cy="26.9" r="3.2"/><circle cx="990.69" cy="29.2" r="3.2"/><circle cx="993.99" cy="31.5" r="3.2"/></g>
<g fill="#4452d0" fill-opacity="0.29" stroke="#10105a" stroke-opacity="0.17" stroke-width="0.7"><circle cx="934.92" cy="21.74" r="3.2"/><circle cx="938.22" cy="24.04" r="3.2"/><circle cx="941.52" cy="26.34" r="3.2"/></g>
<g fill="#4452d0" fill-opacity="0.26" stroke="#10105a" stroke-opacity="0.16" stroke-width="0.7"><circle cx="981.4" cy="81.22" r="3.2"/><circle cx="984.7" cy="83.52" r="3.2"/><circle cx="988" cy="85.82" r="3.2"/><circle cx="991.3" cy="88.12" r="3.2"/></g>
<g fill="#4452d0" fill-opacity="0.2" stroke="#10105a" stroke-opacity="0.12" stroke-width="0.7"><circle cx="1049.02" cy="129.02" r="3.2"/><circle cx="1052.32" cy="131.32" r="3.2"/><circle cx="1055.62" cy="133.62" r="3.2"/></g>
<g fill="#4452d0" fill-opacity="0.25" stroke="#10105a" stroke-opacity="0.15" stroke-width="0.7"><circle cx="1016.62" cy="123.85" r="3.2"/><circle cx="1019.92" cy="126.15" r="3.2"/><circle cx="1023.22" cy="128.45" r="3.2"/><circle cx="1026.52" cy="130.75" r="3.2"/></g>
<g fill="#4452d0" fill-opacity="0.27" stroke="#10105a" stroke-opacity="0.16" stroke-width="0.7"><circle cx="1111.44" cy="229.98" r="3.2"/><circle cx="1114.74" cy="232.28" r="3.2"/><circle cx="1118.04" cy="234.58" r="3.2"/><circle cx="1121.34" cy="236.88" r="3.2"/><circle cx="1124.64" cy="239.18" r="3.2"/><circle cx="1127.94" cy="241.48" r="3.2"/></g>
<g fill="#4452d0" fill-opacity="0.28" stroke="#10105a" stroke-opacity="0.17" stroke-width="0.7"><circle cx="1039.08" cy="164.21" r="3.2"/><circle cx="1042.38" cy="166.51" r="3.2"/><circle cx="1045.68" cy="168.81" r="3.2"/><circle cx="1048.98" cy="171.11" r="3.2"/></g>
<g fill="#4452d0" fill-opacity="0.3" stroke="#10105a" stroke-opacity="0.18" stroke-width="0.7"><circle cx="1038.03" cy="141.59" r="3.2"/><circle cx="1041.33" cy="143.89" r="3.2"/><circle cx="1044.63" cy="146.19" r="3.2"/></g>
<g fill="#4452d0" fill-opacity="0.13" stroke="#10105a" stroke-opacity="0.08" stroke-width="0.7"><circle cx="1061.75" cy="121.16" r="3.2"/><circle cx="1065.05" cy="123.46" r="3.2"/><circle cx="1068.35" cy="125.76" r="3.2"/></g>
<g fill="#4452d0" fill-opacity="0.29" stroke="#10105a" stroke-opacity="0.17" stroke-width="0.7"><circle cx="1048.46" cy="78.98" r="3.2"/><circle cx="1051.76" cy="81.28" r="3.2"/><circle cx="1055.06" cy="83.58" r="3.2"/><circle cx="1058.36" cy="85.88" r="3.2"/><circle cx="1061.66" cy="88.18" r="3.2"/><circle cx="1064.96" cy="90.48" r="3.2"/></g>
<g fill="#4452d0" fill-opacity="0.2" stroke="#10105a" stroke-opacity="0.12" stroke-width="0.7"><circle cx="981.95" cy="80.4" r="3.2"/><circle cx="985.25" cy="82.7" r="3.2"/><circle cx="988.55" cy="85" r="3.2"/><circle cx="991.85" cy="87.3" r="3.2"/><circle cx="995.15" cy="89.6" r="3.2"/></g>
<g fill="#4452d0" fill-opacity="0.3" stroke="#10105a" stroke-opacity="0.18" stroke-width="0.7"><circle cx="1088.92" cy="161.17" r="3.2"/><circle cx="1092.22" cy="163.47" r="3.2"/><circle cx="1095.52" cy="165.77" r="3.2"/></g>
<g fill="#4452d0" fill-opacity="0.26" stroke="#10105a" stroke-opacity="0.15" stroke-width="0.7"><circle cx="1014.7" cy="97.75" r="3.2"/><circle cx="1018" cy="100.05" r="3.2"/><circle cx="1021.3" cy="102.35" r="3.2"/><circle cx="1024.6" cy="104.65" r="3.2"/><circle cx="1027.9" cy="106.95" r="3.2"/><circle cx="1031.2" cy="109.25" r="3.2"/></g>
<g fill="#4452d0" fill-opacity="0.18" stroke="#10105a" stroke-opacity="0.11" stroke-width="0.7"><circle cx="939.64" cy="9.49" r="3.2"/><circle cx="942.94" cy="11.79" r="3.2"/><circle cx="946.24" cy="14.09" r="3.2"/><circle cx="949.54" cy="16.39" r="3.2"/><circle cx="952.84" cy="18.69" r="3.2"/></g>
<g fill="#4452d0" fill-opacity="0.24" stroke="#10105a" stroke-opacity="0.14" stroke-width="0.7"><circle cx="1043.73" cy="129.89" r="3.2"/><circle cx="1047.03" cy="132.19" r="3.2"/><circle cx="1050.33" cy="134.49" r="3.2"/></g>
<g fill="#4452d0" fill-opacity="0.28" stroke="#10105a" stroke-opacity="0.17" stroke-width="0.7"><circle cx="1128.96" cy="208.58" r="3.2"/><circle cx="1132.26" cy="210.88" r="3.2"/><circle cx="1135.56" cy="213.18" r="3.2"/><circle cx="1138.86" cy="215.48" r="3.2"/><circle cx="1142.16" cy="217.78" r="3.2"/></g>
<g fill="#4452d0" fill-opacity="0.15" stroke="#10105a" stroke-opacity="0.09" stroke-width="0.7"><circle cx="1118.07" cy="187.74" r="3.2"/><circle cx="1121.37" cy="190.04" r="3.2"/><circle cx="1124.67" cy="192.34" r="3.2"/></g>
<g fill="#4452d0" fill-opacity="0.28" stroke="#10105a" stroke-opacity="0.17" stroke-width="0.7"><circle cx="1017.99" cy="30.23" r="3.2"/><circle cx="1021.29" cy="32.53" r="3.2"/><circle cx="1024.59" cy="34.83" r="3.2"/><circle cx="1027.89" cy="37.13" r="3.2"/><circle cx="1031.19" cy="39.43" r="3.2"/><circle cx="1034.49" cy="41.73" r="3.2"/></g>
<g fill="#4452d0" fill-opacity="0.28" stroke="#10105a" stroke-opacity="0.17" stroke-width="0.7"><circle cx="992.01" cy="15.59" r="3.2"/><circle cx="995.31" cy="17.89" r="3.2"/><circle cx="998.61" cy="20.19" r="3.2"/><circle cx="1001.91" cy="22.49" r="3.2"/><circle cx="1005.21" cy="24.79" r="3.2"/><circle cx="1008.51" cy="27.09" r="3.2"/></g>
<g fill="#4452d0" fill-opacity="0.21" stroke="#10105a" stroke-opacity="0.13" stroke-width="0.7"><circle cx="1040.22" cy="58.12" r="3.2"/><circle cx="1043.52" cy="60.42" r="3.2"/><circle cx="1046.82" cy="62.72" r="3.2"/></g>
<g fill="#4452d0" fill-opacity="0.27" stroke="#10105a" stroke-opacity="0.16" stroke-width="0.7"><circle cx="1008.16" cy="34.44" r="3.2"/><circle cx="1011.46" cy="36.74" r="3.2"/><circle cx="1014.76" cy="39.04" r="3.2"/><circle cx="1018.06" cy="41.34" r="3.2"/><circle cx="1021.36" cy="43.64" r="3.2"/><circle cx="1024.66" cy="45.94" r="3.2"/></g>
<g fill="#4452d0" fill-opacity="0.22" stroke="#10105a" stroke-opacity="0.13" stroke-width="0.7"><circle cx="1079.32" cy="164.17" r="3.2"/><circle cx="1082.62" cy="166.47" r="3.2"/><circle cx="1085.92" cy="168.77" r="3.2"/><circle cx="1089.22" cy="171.07" r="3.2"/></g>
<g fill="#4452d0" fill-opacity="0.29" stroke="#10105a" stroke-opacity="0.17" stroke-width="0.7"><circle cx="1001.88" cy="44.3" r="3.2"/><circle cx="1005.18" cy="46.6" r="3.2"/><circle cx="1008.48" cy="48.9" r="3.2"/></g>
<g fill="#4452d0" fill-opacity="0.17" stroke="#10105a" stroke-opacity="0.1" stroke-width="0.7"><circle cx="1072.21" cy="89.66" r="3.2"/><circle cx="1075.51" cy="91.96" r="3.2"/><circle cx="1078.81" cy="94.26" r="3.2"/><circle cx="1082.11" cy="96.56" r="3.2"/><circle cx="1085.41" cy="98.86" r="3.2"/><circle cx="1088.71" cy="101.16" r="3.2"/></g>
<g fill="#4452d0" fill-opacity="0.19" stroke="#10105a" stroke-opacity="0.11" stroke-width="0.7"><circle cx="1038.13" cy="63.94" r="3.2"/><circle cx="1041.43" cy="66.24" r="3.2"/><circle cx="1044.73" cy="68.54" r="3.2"/><circle cx="1048.03" cy="70.84" r="3.2"/><circle cx="1051.33" cy="73.14" r="3.2"/></g>
<g fill="#4452d0" fill-opacity="0.17" stroke="#10105a" stroke-opacity="0.1" stroke-width="0.7"><circle cx="1039.01" cy="66.52" r="3.2"/><circle cx="1042.31" cy="68.82" r="3.2"/><circle cx="1045.61" cy="71.12" r="3.2"/><circle cx="1048.91" cy="73.42" r="3.2"/><circle cx="1052.21" cy="75.72" r="3.2"/></g>
<g fill="#4452d0" fill-opacity="0.17" stroke="#10105a" stroke-opacity="0.1" stroke-width="0.7"><circle cx="966.94" cy="58.76" r="3.2"/><circle cx="970.24" cy="61.06" r="3.2"/><circle cx="973.54" cy="63.36" r="3.2"/><circle cx="976.84" cy="65.66" r="3.2"/><circle cx="980.14" cy="67.96" r="3.2"/><circle cx="983.44" cy="70.26" r="3.2"/></g>
<g fill="#6070dc" fill-opacity="0.19"><circle cx="981.09" cy="115.3" r="3.2"/><circle cx="984.39" cy="117.6" r="3.2"/><circle cx="987.69" cy="119.9" r="3.2"/><circle cx="990.99" cy="122.2" r="3.2"/><circle cx="994.29" cy="124.5" r="3.2"/><circle cx="997.59" cy="126.8" r="3.2"/></g>
<g fill="#6070dc" fill-opacity="0.2"><circle cx="924.82" cy="34.67" r="3.2"/><circle cx="928.12" cy="36.97" r="3.2"/><circle cx="931.42" cy="39.27" r="3.2"/><circle cx="934.72" cy="41.57" r="3.2"/></g>
<g fill="#6070dc" fill-opacity="0.15"><circle cx="1045.56" cy="177.05" r="3.2"/><circle cx="1048.86" cy="179.35" r="3.2"/><circle cx="1052.16" cy="181.65" r="3.2"/><circle cx="1055.46" cy="183.95" r="3.2"/><circle cx="1058.76" cy="186.25" r="3.2"/><circle cx="1062.06" cy="188.55" r="3.2"/></g>
<g fill="#6070dc" fill-opacity="0.19"><circle cx="1129.53" cy="288.93" r="3.2"/><circle cx="1132.83" cy="291.23" r="3.2"/><circle cx="1136.13" cy="293.53" r="3.2"/></g>
<g fill="#6070dc" fill-opacity="0.21"><circle cx="1132.62" cy="253.58" r="3.2"/><circle cx="1135.92" cy="255.88" r="3.2"/><circle cx="1139.22" cy="258.18" r="3.2"/></g>
<g fill="#6070dc" fill-opacity="0.1"><circle cx="1117.86" cy="209.44" r="3.2"/><circle cx="1121.16" cy="211.74" r="3.2"/><circle cx="1124.46" cy="214.04" r="3.2"/><circle cx="1127.76" cy="216.34" r="3.2"/><circle cx="1131.06" cy="218.64" r="3.2"/><circle cx="1134.36" cy="220.94" r="3.2"/></g>
<g fill="#6070dc" fill-opacity="0.13"><circle cx="1040.19" cy="155.7" r="3.2"/><circle cx="1043.49" cy="158" r="3.2"/><circle cx="1046.79" cy="160.3" r="3.2"/><circle cx="1050.09" cy="162.6" r="3.2"/><circle cx="1053.39" cy="164.9" r="3.2"/><circle cx="1056.69" cy="167.2" r="3.2"/></g>
<g fill="#6070dc" fill-opacity="0.14"><circle cx="1071.83" cy="96.07" r="3.2"/><circle cx="1075.13" cy="98.37" r="3.2"/><circle cx="1078.43" cy="100.67" r="3.2"/><circle cx="1081.73" cy="102.97" r="3.2"/><circle cx="1085.03" cy="105.27" r="3.2"/></g>
<g fill="#6070dc" fill-opacity="0.23"><circle cx="1116.3" cy="236.99" r="3.2"/><circle cx="1119.6" cy="239.29" r="3.2"/><circle cx="1122.9" cy="241.59" r="3.2"/><circle cx="1126.2" cy="243.89" r="3.2"/><circle cx="1129.5" cy="246.19" r="3.2"/><circle cx="1132.8" cy="248.49" r="3.2"/></g>
<g fill="#6070dc" fill-opacity="0.11"><circle cx="943.12" cy="73.85" r="3.2"/><circle cx="946.42" cy="76.15" r="3.2"/><circle cx="949.72" cy="78.45" r="3.2"/><circle cx="953.02" cy="80.75" r="3.2"/><circle cx="956.32" cy="83.05" r="3.2"/><circle cx="959.62" cy="85.35" r="3.2"/></g>
<g fill="#6070dc" fill-opacity="0.13"><circle cx="1096.6" cy="159.29" r="3.2"/><circle cx="1099.9" cy="161.59" r="3.2"/><circle cx="1103.2" cy="163.89" r="3.2"/><circle cx="1106.5" cy="166.19" r="3.2"/><circle cx="1109.8" cy="168.49" r="3.2"/><circle cx="1113.1" cy="170.79" r="3.2"/></g>
<g fill="#6070dc" fill-opacity="0.23"><circle cx="1128.97" cy="214.13" r="3.2"/><circle cx="1132.27" cy="216.43" r="3.2"/><circle cx="1135.57" cy="218.73" r="3.2"/><circle cx="1138.87" cy="221.03" r="3.2"/><circle cx="1142.17" cy="223.33" r="3.2"/><circle cx="1145.47" cy="225.63" r="3.2"/></g>
<g fill="#6070dc" fill-opacity="0.23"><circle cx="935.83" cy="61.89" r="3.2"/><circle cx="939.13" cy="64.19" r="3.2"/><circle cx="942.43" cy="66.49" r="3.2"/><circle cx="945.73" cy="68.79" r="3.2"/><circle cx="949.03" cy="71.09" r="3.2"/></g>
<g fill="#6070dc" fill-opacity="0.2"><circle cx="912.86" cy="18.08" r="3.2"/><circle cx="916.16" cy="20.38" r="3.2"/><circle cx="919.46" cy="22.68" r="3.2"/></g>
<g fill="#6070dc" fill-opacity="0.23"><circle cx="1026.65" cy="24.32" r="3.2"/><circle cx="1029.95" cy="26.62" r="3.2"/><circle cx="1033.25" cy="28.92" r="3.2"/><circle cx="1036.55" cy="31.22" r="3.2"/><circle cx="1039.85" cy="33.52" r="3.2"/><circle cx="1043.15" cy="35.82" r="3.2"/></g>
<g fill="#6070dc" fill-opacity="0.2"><circle cx="991.82" cy="59.84" r="3.2"/><circle cx="995.12" cy="62.14" r="3.2"/><circle cx="998.42" cy="64.44" r="3.2"/><circle cx="1001.72" cy="66.74" r="3.2"/></g>
<g fill="#6070dc" fill-opacity="0.22"><circle cx="1027.81" cy="135.81" r="3.2"/><circle cx="1031.11" cy="138.11" r="3.2"/><circle cx="1034.41" cy="140.41" r="3.2"/><circle cx="1037.71" cy="142.71" r="3.2"/><circle cx="1041.01" cy="145.01" r="3.2"/></g>
<g fill="#6070dc" fill-opacity="0.2"><circle cx="1132.76" cy="235.9" r="3.2"/><circle cx="1136.06" cy="238.2" r="3.2"/><circle cx="1139.36" cy="240.5" r="3.2"/><circle cx="1142.66" cy="242.8" r="3.2"/><circle cx="1145.96" cy="245.1" r="3.2"/><circle cx="1149.26" cy="247.4" r="3.2"/></g>
<g fill="#6070dc" fill-opacity="0.16"><circle cx="1110.53" cy="194.78" r="3.2"/><circle cx="1113.83" cy="197.08" r="3.2"/><circle cx="1117.13" cy="199.38" r="3.2"/><circle cx="1120.43" cy="201.68" r="3.2"/><circle cx="1123.73" cy="203.98" r="3.2"/><circle cx="1127.03" cy="206.28" r="3.2"/></g>
<g fill="#6070dc" fill-opacity="0.13"><circle cx="947.19" cy="77.14" r="3.2"/><circle cx="950.49" cy="79.44" r="3.2"/><circle cx="953.79" cy="81.74" r="3.2"/><circle cx="957.09" cy="84.04" r="3.2"/><circle cx="960.39" cy="86.34" r="3.2"/><circle cx="963.69" cy="88.64" r="3.2"/></g>
<g fill="#6070dc" fill-opacity="0.19"><circle cx="1036.83" cy="149.99" r="3.2"/><circle cx="1040.13" cy="152.29" r="3.2"/><circle cx="1043.43" cy="154.59" r="3.2"/><circle cx="1046.73" cy="156.89" r="3.2"/></g>
<g fill="#6070dc" fill-opacity="0.23"><circle cx="1003.69" cy="90.41" r="3.2"/><circle cx="1006.99" cy="92.71" r="3.2"/><circle cx="1010.29" cy="95.01" r="3.2"/><circle cx="1013.59" cy="97.31" r="3.2"/><circle cx="1016.89" cy="99.61" r="3.2"/></g>
<g fill="#6070dc" fill-opacity="0.2"><circle cx="1144.13" cy="241.97" r="3.2"/><circle cx="1147.43" cy="244.27" r="3.2"/><circle cx="1150.73" cy="246.57" r="3.2"/><circle cx="1154.03" cy="248.87" r="3.2"/><circle cx="1157.33" cy="251.17" r="3.2"/><circle cx="1160.63" cy="253.47" r="3.2"/></g>
<g fill="#6070dc" fill-opacity="0.13"><circle cx="1117.42" cy="217.64" r="3.2"/><circle cx="1120.72" cy="219.94" r="3.2"/><circle cx="1124.02" cy="222.24" r="3.2"/><circle cx="1127.32" cy="224.54" r="3.2"/><circle cx="1130.62" cy="226.84" r="3.2"/><circle cx="1133.92" cy="229.14" r="3.2"/></g>
<g fill="#6070dc" fill-opacity="0.2"><circle cx="1069.54" cy="164.01" r="3.2"/><circle cx="1072.84" cy="166.31" r="3.2"/><circle cx="1076.14" cy="168.61" r="3.2"/><circle cx="1079.44" cy="170.91" r="3.2"/><circle cx="1082.74" cy="173.21" r="3.2"/><circle cx="1086.04" cy="175.51" r="3.2"/></g>
<g fill="#7080e0" fill-opacity="0.16"><circle cx="1077.94" cy="56.25" r="3.2"/><circle cx="1081.24" cy="58.85" r="3.2"/><circle cx="1084.54" cy="61.45" r="3.2"/><circle cx="1087.84" cy="64.05" r="3.2"/><circle cx="1091.14" cy="66.65" r="3.2"/></g>
<g fill="#7080e0" fill-opacity="0.1"><circle cx="1151.29" cy="191.41" r="3.2"/><circle cx="1154.59" cy="194.01" r="3.2"/><circle cx="1157.89" cy="196.61" r="3.2"/></g>
<g fill="#7080e0" fill-opacity="0.17"><circle cx="1153.83" cy="176.6" r="3.2"/><circle cx="1157.13" cy="179.2" r="3.2"/><circle cx="1160.43" cy="181.8" r="3.2"/><circle cx="1163.73" cy="184.4" r="3.2"/></g>
<g fill="#7080e0" fill-opacity="0.14"><circle cx="1113.77" cy="144.35" r="3.2"/><circle cx="1117.07" cy="146.95" r="3.2"/><circle cx="1120.37" cy="149.55" r="3.2"/></g>
<g fill="#7080e0" fill-opacity="0.14"><circle cx="1128.01" cy="117.59" r="3.2"/><circle cx="1131.31" cy="120.19" r="3.2"/><circle cx="1134.61" cy="122.79" r="3.2"/><circle cx="1137.91" cy="125.39" r="3.2"/><circle cx="1141.21" cy="127.99" r="3.2"/></g>
<g fill="#7080e0" fill-opacity="0.13"><circle cx="1099.06" cy="95.6" r="3.2"/><circle cx="1102.36" cy="98.2" r="3.2"/><circle cx="1105.66" cy="100.8" r="3.2"/><circle cx="1108.96" cy="103.4" r="3.2"/></g>
<g fill="#7080e0" fill-opacity="0.2"><circle cx="1155.37" cy="173.79" r="3.2"/><circle cx="1158.67" cy="176.39" r="3.2"/><circle cx="1161.97" cy="178.99" r="3.2"/><circle cx="1165.27" cy="181.59" r="3.2"/></g>
<g fill="#7080e0" fill-opacity="0.13"><circle cx="1077.17" cy="100.52" r="3.2"/><circle cx="1080.47" cy="103.12" r="3.2"/><circle cx="1083.77" cy="105.72" r="3.2"/></g>
<g fill="#7080e0" fill-opacity="0.19"><circle cx="1130.1" cy="120.74" r="3.2"/><circle cx="1133.4" cy="123.34" r="3.2"/><circle cx="1136.7" cy="125.94" r="3.2"/><circle cx="1140" cy="128.54" r="3.2"/></g>
<g fill="#7080e0" fill-opacity="0.22"><circle cx="1115.08" cy="150.7" r="3.2"/><circle cx="1118.38" cy="153.3" r="3.2"/><circle cx="1121.68" cy="155.9" r="3.2"/><circle cx="1124.98" cy="158.5" r="3.2"/></g>
<g fill="#7080e0" fill-opacity="0.16"><circle cx="1108" cy="129.5" r="3.2"/><circle cx="1111.3" cy="132.1" r="3.2"/><circle cx="1114.6" cy="134.7" r="3.2"/></g>
<g fill="#7080e0" fill-opacity="0.11"><circle cx="1081.61" cy="94.89" r="3.2"/><circle cx="1084.91" cy="97.49" r="3.2"/><circle cx="1088.21" cy="100.09" r="3.2"/><circle cx="1091.51" cy="102.69" r="3.2"/></g>
<g fill="#7080e0" fill-opacity="0.2"><circle cx="1087.67" cy="110.61" r="3.2"/><circle cx="1090.97" cy="113.21" r="3.2"/><circle cx="1094.27" cy="115.81" r="3.2"/></g>
<g fill="#7080e0" fill-opacity="0.17"><circle cx="1077.85" cy="51.49" r="3.2"/><circle cx="1081.15" cy="54.09" r="3.2"/><circle cx="1084.45" cy="56.69" r="3.2"/><circle cx="1087.75" cy="59.29" r="3.2"/><circle cx="1091.05" cy="61.89" r="3.2"/></g>
<g fill="#4a52c8" stroke="#10105a" stroke-width="0.7"><circle cx="1089.7" cy="283.18" r="3.1" fill-opacity="0.36" stroke-opacity="0.21"/><circle cx="1151.73" cy="310.37" r="3.1" fill-opacity="0.39" stroke-opacity="0.23"/><circle cx="1070.9" cy="230.4" r="3.1" fill-opacity="0.16" stroke-opacity="0.1"/><circle cx="1085.72" cy="259.58" r="3.1" fill-opacity="0.17" stroke-opacity="0.1"/><circle cx="1101.64" cy="278.37" r="3.1" fill-opacity="0.39" stroke-opacity="0.23"/><circle cx="1153.01" cy="305.34" r="3.1" fill-opacity="0.27" stroke-opacity="0.16"/><circle cx="1085.36" cy="271.92" r="3.1" fill-opacity="0.29" stroke-opacity="0.17"/><circle cx="1089.21" cy="280.14" r="3.1" fill-opacity="0.32" stroke-opacity="0.19"/><circle cx="1106.63" cy="322.81" r="3.1" fill-opacity="0.21" stroke-opacity="0.12"/><circle cx="1127.64" cy="244.86" r="3.1" fill-opacity="0.26" stroke-opacity="0.16"/><circle cx="1149.89" cy="309.69" r="3.1" fill-opacity="0.18" stroke-opacity="0.11"/><circle cx="1116.24" cy="241.73" r="3.1" fill-opacity="0.26" stroke-opacity="0.16"/><circle cx="1081.22" cy="260.71" r="3.1" fill-opacity="0.27" stroke-opacity="0.16"/><circle cx="1150.54" cy="299.36" r="3.1" fill-opacity="0.17" stroke-opacity="0.1"/><circle cx="1129.76" cy="261.32" r="3.1" fill-opacity="0.18" stroke-opacity="0.11"/><circle cx="1148.36" cy="287.6" r="3.1" fill-opacity="0.23" stroke-opacity="0.14"/><circle cx="1096.41" cy="293.31" r="3.1" fill-opacity="0.26" stroke-opacity="0.15"/><circle cx="1143.51" cy="298.76" r="3.1" fill-opacity="0.17" stroke-opacity="0.1"/><circle cx="1137.89" cy="287.7" r="3.1" fill-opacity="0.2" stroke-opacity="0.12"/><circle cx="1087.76" cy="274.56" r="3.1" fill-opacity="0.39" stroke-opacity="0.24"/><circle cx="1093.36" cy="283.93" r="3.1" fill-opacity="0.17" stroke-opacity="0.1"/><circle cx="1099.74" cy="294.61" r="3.1" fill-opacity="0.26" stroke-opacity="0.15"/><circle cx="1132.93" cy="263.86" r="3.1" fill-opacity="0.39" stroke-opacity="0.23"/><circle cx="1144.78" cy="311.58" r="3.1" fill-opacity="0.33" stroke-opacity="0.2"/><circle cx="1125.85" cy="247.02" r="3.1" fill-opacity="0.28" stroke-opacity="0.17"/><circle cx="1130.73" cy="253.12" r="3.1" fill-opacity="0.26" stroke-opacity="0.16"/><circle cx="1144.36" cy="297.07" r="3.1" fill-opacity="0.29" stroke-opacity="0.18"/><circle cx="1085.68" cy="265.48" r="3.1" fill-opacity="0.39" stroke-opacity="0.23"/><circle cx="1117.52" cy="242.06" r="3.1" fill-opacity="0.27" stroke-opacity="0.16"/><circle cx="1120.3" cy="238.62" r="3.1" fill-opacity="0.16" stroke-opacity="0.1"/><circle cx="1125.16" cy="247.68" r="3.1" fill-opacity="0.16" stroke-opacity="0.09"/><circle cx="1122.57" cy="237.16" r="3.1" fill-opacity="0.32" stroke-opacity="0.19"/><circle cx="1073.82" cy="250.49" r="3.1" fill-opacity="0.26" stroke-opacity="0.16"/><circle cx="1086.33" cy="287.9" r="3.1" fill-opacity="0.15" stroke-opacity="0.09"/><circle cx="1151.6" cy="311.56" r="3.1" fill-opacity="0.34" stroke-opacity="0.2"/><circle cx="1136.4" cy="278.13" r="3.1" fill-opacity="0.18" stroke-opacity="0.11"/><circle cx="1124.64" cy="248.75" r="3.1" fill-opacity="0.4" stroke-opacity="0.24"/><circle cx="1087.26" cy="277.67" r="3.1" fill-opacity="0.37" stroke-opacity="0.22"/><circle cx="1064.8" cy="232.61" r="3.1" fill-opacity="0.21" stroke-opacity="0.13"/><circle cx="1139.18" cy="330.74" r="3.1" fill-opacity="0.23" stroke-opacity="0.14"/></g>
</g>
</g>
<path d="M742.5 140L999.1 140L1230.9 277.7" stroke="#000" stroke-width="2.1" stroke-dasharray="7.6 3.3" fill="none"/>
<path d="M742.5 277.7L1230.9 277.7" stroke="#000" stroke-width="2.1" stroke-dasharray="7.6 3.3" fill="none"/>
<g clip-path="url(#cP2)"><path d="M929.7 147.6H937.9L933.8 155.8Z" fill="#ff0000" stroke="#000" stroke-width="1"/><path d="M868.9 156.9H877.1L873 165.1Z" fill="#ff0000" stroke="#000" stroke-width="1"/><path d="M912.9 217H921.1L917 225.2Z" fill="#ff0000" stroke="#000" stroke-width="1"/><path d="M994 204.2H1002.2L998.1 212.4Z" fill="#ff0000" stroke="#000" stroke-width="1"/><path d="M989.2 217H997.4L993.3 225.2Z" fill="#ff0000" stroke="#000" stroke-width="1"/><path d="M966.2 227.2H974.4L970.3 235.4Z" fill="#ff0000" stroke="#000" stroke-width="1"/><path d="M976.4 232.9H984.6L980.5 241.1Z" fill="#ff0000" stroke="#000" stroke-width="1"/><path d="M981.5 243.2H989.7L985.6 251.4Z" fill="#ff0000" stroke="#000" stroke-width="1"/><path d="M990.3 247.6H998.5L994.4 255.8Z" fill="#ff0000" stroke="#000" stroke-width="1"/><path d="M1026.7 255.3H1034.9L1030.8 263.5Z" fill="#ff0000" stroke="#000" stroke-width="1"/><path d="M1036 263.9H1044.2L1040.1 272.1Z" fill="#ff0000" stroke="#000" stroke-width="1"/><path d="M1062.4 226.6H1070.6L1066.5 234.8Z" fill="#ff0000" stroke="#000" stroke-width="1"/><path d="M1062.4 241.9H1070.6L1066.5 250.1Z" fill="#ff0000" stroke="#000" stroke-width="1"/><path d="M1072.9 230.4H1081.1L1077 238.6Z" fill="#ff0000" stroke="#000" stroke-width="1"/><path d="M1083.3 298.5H1091.5L1087.4 306.7Z" fill="#ff0000" stroke="#000" stroke-width="1"/><path d="M1150.8 302.6H1159L1154.9 310.8Z" fill="#ff0000" stroke="#000" stroke-width="1"/><path d="M1111.9 255.3H1120.1L1116 263.5Z" fill="#ff0000" stroke="#000" stroke-width="1"/><path d="M1111 266.9H1119.2L1115.1 275.1Z" fill="#ff0000" stroke="#000" stroke-width="1"/><path d="M887.6 28H895.8L891.7 36.2Z" fill="#0000ff" stroke="#000" stroke-width="1"/><path d="M894.6 35H902.8L898.7 43.2Z" fill="#0000ff" stroke="#000" stroke-width="1"/><path d="M876.3 61.3H884.5L880.4 69.5Z" fill="#0000ff" stroke="#000" stroke-width="1"/><path d="M884.3 73.6H892.5L888.4 81.8Z" fill="#0000ff" stroke="#000" stroke-width="1"/><path d="M915.1 70.5H923.3L919.2 78.7Z" fill="#0000ff" stroke="#000" stroke-width="1"/><path d="M930.7 39.7H938.9L934.8 47.9Z" fill="#0000ff" stroke="#000" stroke-width="1"/><path d="M931.6 43.2H939.8L935.7 51.4Z" fill="#0000ff" stroke="#000" stroke-width="1"/><path d="M954.8 37.7H963L958.9 45.9Z" fill="#0000ff" stroke="#000" stroke-width="1"/><path d="M961.6 46.9H969.8L965.7 55.1Z" fill="#0000ff" stroke="#000" stroke-width="1"/><path d="M946 58.8H954.2L950.1 67Z" fill="#0000ff" stroke="#000" stroke-width="1"/><path d="M943.9 67.5H952.1L948 75.7Z" fill="#0000ff" stroke="#000" stroke-width="1"/><path d="M952.1 79.8H960.3L956.2 88Z" fill="#0000ff" stroke="#000" stroke-width="1"/><path d="M930.7 84.3H938.9L934.8 92.5Z" fill="#0000ff" stroke="#000" stroke-width="1"/><path d="M925 96.7H933.2L929.1 104.9Z" fill="#0000ff" stroke="#000" stroke-width="1"/><path d="M940 114.3H948.2L944.1 122.5Z" fill="#0000ff" stroke="#000" stroke-width="1"/><path d="M991.8 74.7H1000L995.9 82.9Z" fill="#0000ff" stroke="#000" stroke-width="1"/><path d="M1007 50.1H1015.2L1011.1 58.3Z" fill="#0000ff" stroke="#000" stroke-width="1"/><path d="M1009 55.1H1017.2L1013.1 63.3Z" fill="#0000ff" stroke="#000" stroke-width="1"/><path d="M1027.1 70.1H1035.3L1031.2 78.3Z" fill="#0000ff" stroke="#000" stroke-width="1"/><path d="M1010.4 86.2H1018.6L1014.5 94.4Z" fill="#0000ff" stroke="#000" stroke-width="1"/><path d="M1001.6 99.3H1009.8L1005.7 107.5Z" fill="#0000ff" stroke="#000" stroke-width="1"/><path d="M1020.5 113.3H1028.7L1024.6 121.5Z" fill="#0000ff" stroke="#000" stroke-width="1"/><path d="M1026.1 236.7H1034.3L1030.2 244.9Z" fill="#0000ff" stroke="#000" stroke-width="1"/><path d="M1029 236.7H1037.2L1033.1 244.9Z" fill="#0000ff" stroke="#000" stroke-width="1"/><path d="M1019.4 249.5H1027.6L1023.5 257.7Z" fill="#0000ff" stroke="#000" stroke-width="1"/><path d="M1018.5 254.3H1026.7L1022.6 262.5Z" fill="#0000ff" stroke="#000" stroke-width="1"/><path d="M1100.2 248.1H1108.4L1104.3 256.3Z" fill="#0000ff" stroke="#000" stroke-width="1"/><path d="M1101.1 252.6H1109.3L1105.2 260.8Z" fill="#0000ff" stroke="#000" stroke-width="1"/><path d="M1113.1 247.2H1121.3L1117.2 255.4Z" fill="#0000ff" stroke="#000" stroke-width="1"/></g>
<path d="M912.6 238.3H964.2M942.2 226.5V252.7" stroke="#333" stroke-width="1.3" fill="none"/>
<path d="M912.6 235.4V241.2M964.2 235.4V241.2M939.3 226.5H945.1M939.3 252.7H945.1" stroke="#333" stroke-width="1.2" fill="none"/>
<polygon points="949.7,238.3 945.95,244.8 938.45,244.8 934.7,238.3 938.45,231.8 945.95,231.8" fill="#0000ff" stroke="#000" stroke-width="1.15"/>
<path d="M1016.4 215H1049.7M1034.4 203V231.3" stroke="#333" stroke-width="1.3" fill="none"/>
<path d="M1016.4 212.1V217.9M1049.7 212.1V217.9M1031.5 203H1037.3M1031.5 231.3H1037.3" stroke="#333" stroke-width="1.2" fill="none"/>
<polygon points="1041.9,215 1038.15,221.5 1030.65,221.5 1026.9,215 1030.65,208.5 1038.15,208.5" fill="#ff0000" stroke="#000" stroke-width="1.15"/>
<path d="M1124.5 173.6V248.1" stroke="#333" stroke-width="1.3" fill="none"/>
<path d="M1121.6 173.6H1127.4M1121.6 248.1H1127.4" stroke="#333" stroke-width="1.2" fill="none"/>
<polygon points="1132,199.5 1128.25,206 1120.75,206 1117,199.5 1120.75,193 1128.25,193" fill="#008000" stroke="#000" stroke-width="1.15"/>
<path d="M1061.2 216.3H1087.2M1075.1 196.3V251.1" stroke="#000" stroke-width="2.7" fill="none"/>
<path d="M1061.2 211.3V221.3M1087.2 211.3V221.3M1070.1 196.3H1080.1M1070.1 251.1H1080.1" stroke="#000" stroke-width="2.2" fill="none"/>
<path d="M1075.1 204.3L1087.1 216.3L1075.1 228.3L1063.1 216.3Z" fill="#ffa500" stroke="#000" stroke-width="1.3"/>
<text transform="translate(1183.2 35.1) scale(0.9964 1)" x="-0.89" y="0" font-size="19.6" fill="#0000ff" stroke="#0000ff" stroke-width="0.45">SFG</text>
<text transform="translate(751.3 160.6) scale(1.1412 1)" x="-1" y="0" font-size="19.6" fill="#008000" stroke="#008000" stroke-width="0.39">Comp.</text>
<text transform="translate(752 447) scale(1.0505 1)" x="-0.04" y="0" font-size="19.6" fill="#ff0000" stroke="#ff0000" stroke-width="0.43">AGN</text>
<rect x="742.5" y="14.4" width="488.4" height="442.6" fill="none" stroke="#333" stroke-width="1.75"/>
<path d="M843.72 457L843.72 462M1037.31 457L1037.31 462M1230.9 457L1230.9 462M742.5 391.31L737.5 391.31M742.5 265.67L737.5 265.67M742.5 140.04L737.5 140.04M742.5 14.4L737.5 14.4" stroke="#000" stroke-width="1.2" fill="none"/>
<path d="M742.5 457L742.5 459.9M766.69 457L766.69 459.9M785.45 457L785.45 459.9M800.78 457L800.78 459.9M813.74 457L813.74 459.9M824.96 457L824.96 459.9M834.87 457L834.87 459.9M902 457L902 459.9M936.09 457L936.09 459.9M960.28 457L960.28 459.9M979.04 457L979.04 459.9M994.36 457L994.36 459.9M1007.32 457L1007.32 459.9M1018.55 457L1018.55 459.9M1028.45 457L1028.45 459.9M1095.59 457L1095.59 459.9M1129.68 457L1129.68 459.9M1153.86 457L1153.86 459.9M1172.62 457L1172.62 459.9M1187.95 457L1187.95 459.9M1200.91 457L1200.91 459.9M1212.14 457L1212.14 459.9M1222.04 457L1222.04 459.9M742.5 457L739.6 457M742.5 441.3L739.6 441.3M742.5 429.13L739.6 429.13M742.5 419.18L739.6 419.18M742.5 410.77L739.6 410.77M742.5 403.48L739.6 403.48M742.5 397.06L739.6 397.06M742.5 353.49L739.6 353.49M742.5 331.36L739.6 331.36M742.5 315.67L739.6 315.67M742.5 303.49L739.6 303.49M742.5 293.54L739.6 293.54M742.5 285.13L739.6 285.13M742.5 277.85L739.6 277.85M742.5 271.42L739.6 271.42M742.5 227.85L739.6 227.85M742.5 205.73L739.6 205.73M742.5 190.03L739.6 190.03M742.5 177.86L739.6 177.86M742.5 167.91L739.6 167.91M742.5 159.5L739.6 159.5M742.5 152.21L739.6 152.21M742.5 145.78L739.6 145.78M742.5 102.22L739.6 102.22M742.5 80.09L739.6 80.09M742.5 64.4L739.6 64.4M742.5 52.22L739.6 52.22M742.5 42.27L739.6 42.27M742.5 33.86L739.6 33.86M742.5 26.58L739.6 26.58M742.5 20.15L739.6 20.15" stroke="#000" stroke-width="0.9" fill="none"/>
<text x="816.3" y="484.5" font-size="27.3" fill="#000" text-anchor="start" stroke="#000" stroke-width="0.6" paint-order="stroke" >10</text>
<text x="848.44" y="475.1" font-size="18.9" fill="#000" text-anchor="start" stroke="#000" stroke-width="0.6" paint-order="stroke" >−1</text>
<text x="1015.21" y="484.5" font-size="27.3" fill="#000" text-anchor="start" stroke="#000" stroke-width="0.6" paint-order="stroke" >10</text>
<text x="1047.56" y="475.1" font-size="18.9" fill="#000" text-anchor="start" stroke="#000" stroke-width="0.6" paint-order="stroke" >0</text>
<text x="1209.25" y="484.5" font-size="27.3" fill="#000" text-anchor="start" stroke="#000" stroke-width="0.6" paint-order="stroke" >10</text>
<text x="1240.89" y="475.1" font-size="18.9" fill="#000" text-anchor="start" stroke="#000" stroke-width="0.6" paint-order="stroke" >1</text>
<text x="678.43" y="400.41" font-size="27.3" fill="#000" text-anchor="start" stroke="#000" stroke-width="0.6" paint-order="stroke" >10</text>
<text x="710.57" y="391.01" font-size="18.9" fill="#000" text-anchor="start" stroke="#000" stroke-width="0.6" paint-order="stroke" >−1</text>
<text x="689.09" y="274.77" font-size="27.3" fill="#000" text-anchor="start" stroke="#000" stroke-width="0.6" paint-order="stroke" >10</text>
<text x="721.43" y="265.37" font-size="18.9" fill="#000" text-anchor="start" stroke="#000" stroke-width="0.6" paint-order="stroke" >0</text>
<text x="689.97" y="149.14" font-size="27.3" fill="#000" text-anchor="start" stroke="#000" stroke-width="0.6" paint-order="stroke" >10</text>
<text x="721.61" y="139.74" font-size="18.9" fill="#000" text-anchor="start" stroke="#000" stroke-width="0.6" paint-order="stroke" >1</text>
<text x="689.51" y="23.5" font-size="27.3" fill="#000" text-anchor="start" stroke="#000" stroke-width="0.6" paint-order="stroke" >10</text>
<text x="721.64" y="14.1" font-size="18.9" fill="#000" text-anchor="start" stroke="#000" stroke-width="0.6" paint-order="stroke" >2</text>
<g clip-path="url(#cP3)">
<rect x="100.9" y="565.5" width="488.6" height="442.7" fill="#fdfbfb"/>
<path d="M116 944L138 920L176 879L214 845L253 803L274 778L285 766" stroke="#fbe8e8" stroke-width="42" fill="none" stroke-linecap="round" stroke-linejoin="round" filter="url(#b6)"/>
<path d="M116 944L138 920L176 879L214 845L253 803L274 778L285 766" stroke="#f7d0d2" stroke-width="22" fill="none" stroke-linecap="round" stroke-linejoin="round" filter="url(#b5)"/>
<path d="M225 832L250 805L270 784" stroke="#ecc6cc" stroke-width="14" fill="none" stroke-linecap="round" stroke-linejoin="round" opacity="0.9" filter="url(#b4)"/>
<g filter="url(#b1)">
<g fill="#f4a7ab" stroke="#a06868" stroke-width="0.7"><circle cx="207.63" cy="837.02" r="3.3" fill-opacity="0.37" stroke-opacity="0.22"/><circle cx="237.4" cy="822.2" r="3.3" fill-opacity="0.35" stroke-opacity="0.21"/><circle cx="223.24" cy="825.48" r="3.3" fill-opacity="0.54" stroke-opacity="0.32"/><circle cx="194.39" cy="855.89" r="3.3" fill-opacity="0.46" stroke-opacity="0.28"/><circle cx="163.85" cy="895.58" r="3.3" fill-opacity="0.31" stroke-opacity="0.19"/><circle cx="220.17" cy="832.02" r="3.3" fill-opacity="0.51" stroke-opacity="0.31"/><circle cx="265.27" cy="776.24" r="3.3" fill-opacity="0.33" stroke-opacity="0.2"/><circle cx="129.76" cy="933.29" r="3.3" fill-opacity="0.35" stroke-opacity="0.21"/><circle cx="268.14" cy="782.16" r="3.3" fill-opacity="0.38" stroke-opacity="0.23"/><circle cx="156.31" cy="900.76" r="3.3" fill-opacity="0.43" stroke-opacity="0.26"/><circle cx="163.93" cy="891.21" r="3.3" fill-opacity="0.33" stroke-opacity="0.2"/><circle cx="127.82" cy="931.5" r="3.3" fill-opacity="0.44" stroke-opacity="0.26"/><circle cx="138.21" cy="923.81" r="3.3" fill-opacity="0.38" stroke-opacity="0.23"/><circle cx="124.97" cy="937.23" r="3.3" fill-opacity="0.35" stroke-opacity="0.21"/><circle cx="222.39" cy="831.12" r="3.3" fill-opacity="0.39" stroke-opacity="0.23"/><circle cx="209.8" cy="845.07" r="3.3" fill-opacity="0.32" stroke-opacity="0.19"/><circle cx="191.23" cy="865.75" r="3.3" fill-opacity="0.33" stroke-opacity="0.2"/><circle cx="271.2" cy="790.12" r="3.3" fill-opacity="0.41" stroke-opacity="0.25"/><circle cx="175.09" cy="881.56" r="3.3" fill-opacity="0.34" stroke-opacity="0.2"/><circle cx="199.61" cy="855.97" r="3.3" fill-opacity="0.32" stroke-opacity="0.19"/><circle cx="218.92" cy="832.77" r="3.3" fill-opacity="0.41" stroke-opacity="0.24"/><circle cx="202.15" cy="866.16" r="3.3" fill-opacity="0.54" stroke-opacity="0.32"/><circle cx="203.8" cy="859.75" r="3.3" fill-opacity="0.5" stroke-opacity="0.3"/><circle cx="172.91" cy="887.49" r="3.3" fill-opacity="0.48" stroke-opacity="0.29"/><circle cx="221.37" cy="842.69" r="3.3" fill-opacity="0.49" stroke-opacity="0.29"/><circle cx="282.24" cy="767.02" r="3.3" fill-opacity="0.5" stroke-opacity="0.3"/><circle cx="278.91" cy="772.85" r="3.3" fill-opacity="0.45" stroke-opacity="0.27"/><circle cx="208.26" cy="847.97" r="3.3" fill-opacity="0.48" stroke-opacity="0.29"/><circle cx="157.59" cy="905.2" r="3.3" fill-opacity="0.45" stroke-opacity="0.27"/><circle cx="216.03" cy="847.4" r="3.3" fill-opacity="0.54" stroke-opacity="0.32"/><circle cx="136.34" cy="926.83" r="3.3" fill-opacity="0.44" stroke-opacity="0.27"/><circle cx="283.99" cy="766.22" r="3.3" fill-opacity="0.53" stroke-opacity="0.32"/><circle cx="194.5" cy="865.21" r="3.3" fill-opacity="0.33" stroke-opacity="0.2"/><circle cx="132.09" cy="938.06" r="3.3" fill-opacity="0.5" stroke-opacity="0.3"/><circle cx="157.94" cy="906.21" r="3.3" fill-opacity="0.5" stroke-opacity="0.3"/><circle cx="252.64" cy="803.12" r="3.3" fill-opacity="0.49" stroke-opacity="0.29"/><circle cx="259.11" cy="796.53" r="3.3" fill-opacity="0.52" stroke-opacity="0.31"/><circle cx="221.21" cy="838.35" r="3.3" fill-opacity="0.38" stroke-opacity="0.23"/><circle cx="166.5" cy="882.93" r="3.3" fill-opacity="0.35" stroke-opacity="0.21"/><circle cx="130.46" cy="931.9" r="3.3" fill-opacity="0.33" stroke-opacity="0.2"/><circle cx="192.72" cy="877.27" r="3.3" fill-opacity="0.44" stroke-opacity="0.26"/><circle cx="191.74" cy="859.52" r="3.3" fill-opacity="0.31" stroke-opacity="0.18"/><circle cx="126.35" cy="934.2" r="3.3" fill-opacity="0.36" stroke-opacity="0.22"/><circle cx="167.41" cy="888.03" r="3.3" fill-opacity="0.41" stroke-opacity="0.25"/><circle cx="178.43" cy="883.9" r="3.3" fill-opacity="0.36" stroke-opacity="0.21"/><circle cx="131.22" cy="949.17" r="3.3" fill-opacity="0.39" stroke-opacity="0.23"/><circle cx="143.22" cy="921.36" r="3.3" fill-opacity="0.54" stroke-opacity="0.32"/><circle cx="171.8" cy="882.68" r="3.3" fill-opacity="0.36" stroke-opacity="0.22"/><circle cx="242.3" cy="803.14" r="3.3" fill-opacity="0.4" stroke-opacity="0.24"/><circle cx="271.72" cy="792.4" r="3.3" fill-opacity="0.35" stroke-opacity="0.21"/><circle cx="153.5" cy="904.04" r="3.3" fill-opacity="0.5" stroke-opacity="0.3"/><circle cx="161.81" cy="880.8" r="3.3" fill-opacity="0.46" stroke-opacity="0.27"/><circle cx="148.41" cy="889.85" r="3.3" fill-opacity="0.5" stroke-opacity="0.3"/><circle cx="189.34" cy="866.73" r="3.3" fill-opacity="0.49" stroke-opacity="0.3"/><circle cx="142.58" cy="916.76" r="3.3" fill-opacity="0.34" stroke-opacity="0.2"/><circle cx="176.96" cy="875.62" r="3.3" fill-opacity="0.41" stroke-opacity="0.24"/><circle cx="248.28" cy="812.4" r="3.3" fill-opacity="0.43" stroke-opacity="0.26"/><circle cx="275.49" cy="780.08" r="3.3" fill-opacity="0.32" stroke-opacity="0.19"/><circle cx="276.29" cy="788.75" r="3.3" fill-opacity="0.43" stroke-opacity="0.26"/><circle cx="171.83" cy="870.25" r="3.3" fill-opacity="0.55" stroke-opacity="0.33"/><circle cx="195.71" cy="856.92" r="3.3" fill-opacity="0.44" stroke-opacity="0.26"/><circle cx="208.37" cy="854.88" r="3.3" fill-opacity="0.53" stroke-opacity="0.32"/><circle cx="155.16" cy="906.05" r="3.3" fill-opacity="0.51" stroke-opacity="0.31"/><circle cx="172.4" cy="878.04" r="3.3" fill-opacity="0.52" stroke-opacity="0.31"/><circle cx="255.6" cy="808" r="3.3" fill-opacity="0.51" stroke-opacity="0.3"/><circle cx="147.99" cy="892.94" r="3.3" fill-opacity="0.53" stroke-opacity="0.32"/><circle cx="175.44" cy="881.64" r="3.3" fill-opacity="0.38" stroke-opacity="0.23"/><circle cx="208.31" cy="858.41" r="3.3" fill-opacity="0.46" stroke-opacity="0.28"/><circle cx="225.24" cy="831" r="3.3" fill-opacity="0.46" stroke-opacity="0.28"/><circle cx="173.8" cy="883.3" r="3.3" fill-opacity="0.5" stroke-opacity="0.3"/><circle cx="277.29" cy="785.97" r="3.3" fill-opacity="0.32" stroke-opacity="0.19"/><circle cx="181.72" cy="880.42" r="3.3" fill-opacity="0.41" stroke-opacity="0.24"/><circle cx="200.99" cy="857.63" r="3.3" fill-opacity="0.36" stroke-opacity="0.22"/><circle cx="133.27" cy="933.34" r="3.3" fill-opacity="0.48" stroke-opacity="0.29"/><circle cx="230.26" cy="842.85" r="3.3" fill-opacity="0.32" stroke-opacity="0.19"/></g>
<g fill="#f4a7ab" stroke="#a06868" stroke-width="0.7"><circle cx="191.5" cy="885.07" r="3.3" fill-opacity="0.54" stroke-opacity="0.32"/><circle cx="240.28" cy="840.06" r="3.3" fill-opacity="0.5" stroke-opacity="0.3"/><circle cx="181.76" cy="894.99" r="3.3" fill-opacity="0.38" stroke-opacity="0.23"/><circle cx="217.65" cy="863.26" r="3.3" fill-opacity="0.32" stroke-opacity="0.19"/><circle cx="207.77" cy="866.37" r="3.3" fill-opacity="0.52" stroke-opacity="0.31"/><circle cx="269.77" cy="799.96" r="3.3" fill-opacity="0.34" stroke-opacity="0.2"/><circle cx="224.68" cy="855.39" r="3.3" fill-opacity="0.43" stroke-opacity="0.26"/><circle cx="153.15" cy="918.05" r="3.3" fill-opacity="0.3" stroke-opacity="0.18"/><circle cx="227.18" cy="855.02" r="3.3" fill-opacity="0.48" stroke-opacity="0.29"/><circle cx="274.94" cy="800.69" r="3.3" fill-opacity="0.39" stroke-opacity="0.23"/><circle cx="275.33" cy="804.31" r="3.3" fill-opacity="0.32" stroke-opacity="0.19"/><circle cx="213.96" cy="857.31" r="3.3" fill-opacity="0.49" stroke-opacity="0.29"/><circle cx="209.07" cy="867.99" r="3.3" fill-opacity="0.46" stroke-opacity="0.28"/><circle cx="221.77" cy="851.22" r="3.3" fill-opacity="0.53" stroke-opacity="0.32"/><circle cx="227.85" cy="851.02" r="3.3" fill-opacity="0.4" stroke-opacity="0.24"/><circle cx="248.83" cy="828.31" r="3.3" fill-opacity="0.52" stroke-opacity="0.31"/><circle cx="270.76" cy="805.56" r="3.3" fill-opacity="0.42" stroke-opacity="0.25"/><circle cx="165.75" cy="902.04" r="3.3" fill-opacity="0.39" stroke-opacity="0.23"/><circle cx="158.25" cy="913.62" r="3.3" fill-opacity="0.35" stroke-opacity="0.21"/><circle cx="150.01" cy="934.8" r="3.3" fill-opacity="0.51" stroke-opacity="0.3"/><circle cx="163.84" cy="912.96" r="3.3" fill-opacity="0.35" stroke-opacity="0.21"/><circle cx="212.19" cy="862.44" r="3.3" fill-opacity="0.47" stroke-opacity="0.28"/><circle cx="177.99" cy="897.34" r="3.3" fill-opacity="0.3" stroke-opacity="0.18"/><circle cx="153.84" cy="925.41" r="3.3" fill-opacity="0.35" stroke-opacity="0.21"/><circle cx="167.33" cy="914.29" r="3.3" fill-opacity="0.4" stroke-opacity="0.24"/><circle cx="248.34" cy="821.94" r="3.3" fill-opacity="0.44" stroke-opacity="0.26"/><circle cx="225.99" cy="857.32" r="3.3" fill-opacity="0.4" stroke-opacity="0.24"/><circle cx="160.74" cy="917.13" r="3.3" fill-opacity="0.36" stroke-opacity="0.21"/><circle cx="142.34" cy="938.22" r="3.3" fill-opacity="0.31" stroke-opacity="0.18"/><circle cx="268.55" cy="805.01" r="3.3" fill-opacity="0.43" stroke-opacity="0.26"/></g>
</g>
<path d="M352 850L378 790L408 718" stroke="#e8eef8" stroke-width="36" fill="none" stroke-linecap="round" stroke-linejoin="round" filter="url(#b6)"/>
<g fill="#7080e0"><circle cx="377.72" cy="763.64" r="3.2" fill-opacity="0.25"/><circle cx="388.83" cy="775.99" r="3.2" fill-opacity="0.11"/><circle cx="390.06" cy="773.75" r="3.2" fill-opacity="0.21"/><circle cx="432.62" cy="730.22" r="3.2" fill-opacity="0.22"/><circle cx="422.45" cy="760.94" r="3.2" fill-opacity="0.15"/><circle cx="383.59" cy="787.9" r="3.2" fill-opacity="0.15"/><circle cx="382.86" cy="793.16" r="3.2" fill-opacity="0.2"/><circle cx="371.62" cy="826.52" r="3.2" fill-opacity="0.24"/><circle cx="391.99" cy="735.67" r="3.2" fill-opacity="0.13"/><circle cx="377.95" cy="767.1" r="3.2" fill-opacity="0.22"/><circle cx="404.22" cy="768.1" r="3.2" fill-opacity="0.19"/><circle cx="394.14" cy="737.89" r="3.2" fill-opacity="0.22"/><circle cx="403.66" cy="777.93" r="3.2" fill-opacity="0.16"/><circle cx="380.9" cy="758.35" r="3.2" fill-opacity="0.23"/><circle cx="345.99" cy="854.71" r="3.2" fill-opacity="0.24"/><circle cx="410.61" cy="787.5" r="3.2" fill-opacity="0.13"/><circle cx="386.05" cy="845.44" r="3.2" fill-opacity="0.24"/><circle cx="343.83" cy="848.57" r="3.2" fill-opacity="0.21"/><circle cx="412.17" cy="784.64" r="3.2" fill-opacity="0.25"/><circle cx="367.95" cy="787.92" r="3.2" fill-opacity="0.12"/><circle cx="387.2" cy="843.96" r="3.2" fill-opacity="0.25"/><circle cx="391.82" cy="844.68" r="3.2" fill-opacity="0.23"/><circle cx="409.06" cy="733.68" r="3.2" fill-opacity="0.19"/><circle cx="424.23" cy="725.96" r="3.2" fill-opacity="0.22"/><circle cx="419.87" cy="734.93" r="3.2" fill-opacity="0.17"/><circle cx="405.51" cy="743.95" r="3.2" fill-opacity="0.1"/><circle cx="396.93" cy="796.03" r="3.2" fill-opacity="0.18"/><circle cx="417.44" cy="775.76" r="3.2" fill-opacity="0.13"/><circle cx="357.36" cy="821.42" r="3.2" fill-opacity="0.22"/><circle cx="396.21" cy="754.62" r="3.2" fill-opacity="0.16"/><circle cx="408.39" cy="725.34" r="3.2" fill-opacity="0.11"/><circle cx="400.73" cy="741.35" r="3.2" fill-opacity="0.24"/><circle cx="384.95" cy="791.46" r="3.2" fill-opacity="0.16"/><circle cx="381.19" cy="826.02" r="3.2" fill-opacity="0.1"/><circle cx="414.29" cy="777.97" r="3.2" fill-opacity="0.11"/><circle cx="375.4" cy="812.31" r="3.2" fill-opacity="0.16"/><circle cx="418.38" cy="768.81" r="3.2" fill-opacity="0.24"/><circle cx="406.58" cy="798.61" r="3.2" fill-opacity="0.11"/><circle cx="411.48" cy="752.66" r="3.2" fill-opacity="0.11"/><circle cx="371.21" cy="820.42" r="3.2" fill-opacity="0.25"/><circle cx="380.75" cy="764.08" r="3.2" fill-opacity="0.23"/><circle cx="435.9" cy="726.01" r="3.2" fill-opacity="0.21"/><circle cx="386.97" cy="845.28" r="3.2" fill-opacity="0.21"/><circle cx="397.25" cy="786.01" r="3.2" fill-opacity="0.21"/><circle cx="356.02" cy="833.08" r="3.2" fill-opacity="0.15"/><circle cx="391.32" cy="837.99" r="3.2" fill-opacity="0.15"/><circle cx="391.71" cy="801.05" r="3.2" fill-opacity="0.2"/><circle cx="424.64" cy="749.19" r="3.2" fill-opacity="0.12"/><circle cx="390.33" cy="805.83" r="3.2" fill-opacity="0.14"/><circle cx="361.1" cy="844.08" r="3.2" fill-opacity="0.16"/><circle cx="395.83" cy="724.61" r="3.2" fill-opacity="0.14"/><circle cx="404.38" cy="740.24" r="3.2" fill-opacity="0.13"/><circle cx="386.79" cy="844.14" r="3.2" fill-opacity="0.25"/><circle cx="386.37" cy="748.1" r="3.2" fill-opacity="0.22"/><circle cx="380.55" cy="790.81" r="3.2" fill-opacity="0.21"/><circle cx="368.71" cy="826.9" r="3.2" fill-opacity="0.18"/><circle cx="416.61" cy="741.72" r="3.2" fill-opacity="0.1"/><circle cx="395.25" cy="830.3" r="3.2" fill-opacity="0.17"/><circle cx="425.09" cy="744.58" r="3.2" fill-opacity="0.12"/><circle cx="413.28" cy="780.14" r="3.2" fill-opacity="0.23"/><circle cx="394.27" cy="730.61" r="3.2" fill-opacity="0.17"/><circle cx="400.69" cy="741.77" r="3.2" fill-opacity="0.14"/><circle cx="419.6" cy="773.56" r="3.2" fill-opacity="0.14"/><circle cx="410.27" cy="760.07" r="3.2" fill-opacity="0.23"/></g>
<polygon points="405,822 412,760 425,700 445,650 470,612 494,596 503,640 498,700 482,750 457,792 435,824" fill="#c0d9e9" filter="url(#b5)"/>
<polygon points="496,690 499,640 508,600 518,565 576,565 573,620 556,662 530,692" fill="#c0d9e9" filter="url(#b5)"/>
<polygon points="418,805 424,750 436,700 455,658 477,622 492,612 496,660 488,715 470,760 448,795" fill="#a4c0dc" filter="url(#b5)"/>
<polygon points="505,675 507,630 516,598 526,568 566,568 564,615 548,652 528,676" fill="#a4c0dc" filter="url(#b5)"/>
<polygon points="428,788 432,742 446,696 465,655 484,628 490,668 478,728 456,772" fill="#8895c4" opacity="0.85" filter="url(#b5)"/>
<polygon points="510,660 514,612 528,578 558,576 556,618 540,652" fill="#8895c4" opacity="0.85" filter="url(#b5)"/>
<g filter="url(#b1)">
<g fill="#3a48c8" fill-opacity="0.28" stroke="#10105a" stroke-opacity="0.17" stroke-width="0.7"><circle cx="456.73" cy="697.71" r="3.1"/><circle cx="458.73" cy="694.41" r="3.1"/><circle cx="460.73" cy="691.11" r="3.1"/><circle cx="462.73" cy="687.81" r="3.1"/></g>
<g fill="#3a48c8" fill-opacity="0.39" stroke="#10105a" stroke-opacity="0.23" stroke-width="0.7"><circle cx="528.85" cy="587.38" r="3.1"/><circle cx="530.85" cy="584.08" r="3.1"/><circle cx="532.85" cy="580.78" r="3.1"/><circle cx="534.85" cy="577.48" r="3.1"/><circle cx="536.85" cy="574.18" r="3.1"/><circle cx="538.85" cy="570.88" r="3.1"/></g>
<g fill="#3a48c8" fill-opacity="0.18" stroke="#10105a" stroke-opacity="0.11" stroke-width="0.7"><circle cx="474.02" cy="676.4" r="3.1"/><circle cx="476.02" cy="673.1" r="3.1"/><circle cx="478.02" cy="669.8" r="3.1"/><circle cx="480.02" cy="666.5" r="3.1"/><circle cx="482.02" cy="663.2" r="3.1"/></g>
<g fill="#3a48c8" fill-opacity="0.34" stroke="#10105a" stroke-opacity="0.2" stroke-width="0.7"><circle cx="480.99" cy="699.93" r="3.1"/><circle cx="482.99" cy="696.63" r="3.1"/><circle cx="484.99" cy="693.33" r="3.1"/><circle cx="486.99" cy="690.03" r="3.1"/></g>
<g fill="#3a48c8" fill-opacity="0.34" stroke="#10105a" stroke-opacity="0.21" stroke-width="0.7"><circle cx="548.86" cy="585.5" r="3.1"/><circle cx="550.86" cy="582.2" r="3.1"/><circle cx="552.86" cy="578.9" r="3.1"/><circle cx="554.86" cy="575.6" r="3.1"/><circle cx="556.86" cy="572.3" r="3.1"/></g>
<g fill="#3a48c8" fill-opacity="0.17" stroke="#10105a" stroke-opacity="0.1" stroke-width="0.7"><circle cx="526.75" cy="649.1" r="3.1"/><circle cx="528.75" cy="645.8" r="3.1"/><circle cx="530.75" cy="642.5" r="3.1"/><circle cx="532.75" cy="639.2" r="3.1"/></g>
<g fill="#3a48c8" fill-opacity="0.33" stroke="#10105a" stroke-opacity="0.2" stroke-width="0.7"><circle cx="535.16" cy="601.53" r="3.1"/><circle cx="537.16" cy="598.23" r="3.1"/><circle cx="539.16" cy="594.93" r="3.1"/><circle cx="541.16" cy="591.63" r="3.1"/><circle cx="543.16" cy="588.33" r="3.1"/></g>
<g fill="#3a48c8" fill-opacity="0.35" stroke="#10105a" stroke-opacity="0.21" stroke-width="0.7"><circle cx="463.71" cy="740.09" r="3.1"/><circle cx="465.71" cy="736.79" r="3.1"/><circle cx="467.71" cy="733.49" r="3.1"/><circle cx="469.71" cy="730.19" r="3.1"/><circle cx="471.71" cy="726.89" r="3.1"/><circle cx="473.71" cy="723.59" r="3.1"/></g>
<g fill="#3a48c8" fill-opacity="0.31" stroke="#10105a" stroke-opacity="0.19" stroke-width="0.7"><circle cx="443.16" cy="728.83" r="3.1"/><circle cx="445.16" cy="725.53" r="3.1"/><circle cx="447.16" cy="722.23" r="3.1"/><circle cx="449.16" cy="718.93" r="3.1"/><circle cx="451.16" cy="715.63" r="3.1"/><circle cx="453.16" cy="712.33" r="3.1"/></g>
<g fill="#3a48c8" fill-opacity="0.25" stroke="#10105a" stroke-opacity="0.15" stroke-width="0.7"><circle cx="478.13" cy="702.2" r="3.1"/><circle cx="480.13" cy="698.9" r="3.1"/><circle cx="482.13" cy="695.6" r="3.1"/><circle cx="484.13" cy="692.3" r="3.1"/><circle cx="486.13" cy="689" r="3.1"/><circle cx="488.13" cy="685.7" r="3.1"/></g>
<g fill="#3a48c8" fill-opacity="0.35" stroke="#10105a" stroke-opacity="0.21" stroke-width="0.7"><circle cx="449.34" cy="753.35" r="3.1"/><circle cx="451.34" cy="750.05" r="3.1"/><circle cx="453.34" cy="746.75" r="3.1"/><circle cx="455.34" cy="743.45" r="3.1"/><circle cx="457.34" cy="740.15" r="3.1"/><circle cx="459.34" cy="736.85" r="3.1"/></g>
<g fill="#3a48c8" fill-opacity="0.17" stroke="#10105a" stroke-opacity="0.1" stroke-width="0.7"><circle cx="482.69" cy="644.26" r="3.1"/><circle cx="484.69" cy="640.96" r="3.1"/><circle cx="486.69" cy="637.66" r="3.1"/><circle cx="488.69" cy="634.36" r="3.1"/><circle cx="490.69" cy="631.06" r="3.1"/><circle cx="492.69" cy="627.76" r="3.1"/></g>
<g fill="#3a48c8" fill-opacity="0.38" stroke="#10105a" stroke-opacity="0.23" stroke-width="0.7"><circle cx="518.09" cy="610.94" r="3.1"/><circle cx="520.09" cy="607.64" r="3.1"/><circle cx="522.09" cy="604.34" r="3.1"/><circle cx="524.09" cy="601.04" r="3.1"/><circle cx="526.09" cy="597.74" r="3.1"/><circle cx="528.09" cy="594.44" r="3.1"/></g>
<g fill="#3a48c8" fill-opacity="0.27" stroke="#10105a" stroke-opacity="0.16" stroke-width="0.7"><circle cx="446.36" cy="710.45" r="3.1"/><circle cx="448.36" cy="707.15" r="3.1"/><circle cx="450.36" cy="703.85" r="3.1"/><circle cx="452.36" cy="700.55" r="3.1"/><circle cx="454.36" cy="697.25" r="3.1"/><circle cx="456.36" cy="693.95" r="3.1"/></g>
<g fill="#3a48c8" fill-opacity="0.35" stroke="#10105a" stroke-opacity="0.21" stroke-width="0.7"><circle cx="526.17" cy="596.91" r="3.1"/><circle cx="528.17" cy="593.61" r="3.1"/><circle cx="530.17" cy="590.31" r="3.1"/><circle cx="532.17" cy="587.01" r="3.1"/><circle cx="534.17" cy="583.71" r="3.1"/></g>
<g fill="#3a48c8" fill-opacity="0.16" stroke="#10105a" stroke-opacity="0.1" stroke-width="0.7"><circle cx="435.99" cy="739.97" r="3.1"/><circle cx="437.99" cy="736.67" r="3.1"/><circle cx="439.99" cy="733.37" r="3.1"/><circle cx="441.99" cy="730.07" r="3.1"/><circle cx="443.99" cy="726.77" r="3.1"/></g>
<g fill="#3a48c8" fill-opacity="0.33" stroke="#10105a" stroke-opacity="0.2" stroke-width="0.7"><circle cx="463.63" cy="755.38" r="3.1"/><circle cx="465.63" cy="752.08" r="3.1"/><circle cx="467.63" cy="748.78" r="3.1"/><circle cx="469.63" cy="745.48" r="3.1"/></g>
<g fill="#3a48c8" fill-opacity="0.29" stroke="#10105a" stroke-opacity="0.17" stroke-width="0.7"><circle cx="458.3" cy="712.25" r="3.1"/><circle cx="460.3" cy="708.95" r="3.1"/><circle cx="462.3" cy="705.65" r="3.1"/><circle cx="464.3" cy="702.35" r="3.1"/><circle cx="466.3" cy="699.05" r="3.1"/></g>
<g fill="#3a48c8" fill-opacity="0.29" stroke="#10105a" stroke-opacity="0.17" stroke-width="0.7"><circle cx="541.66" cy="598.35" r="3.1"/><circle cx="543.66" cy="595.05" r="3.1"/><circle cx="545.66" cy="591.75" r="3.1"/><circle cx="547.66" cy="588.45" r="3.1"/></g>
<g fill="#3a48c8" fill-opacity="0.16" stroke="#10105a" stroke-opacity="0.1" stroke-width="0.7"><circle cx="466.54" cy="720.42" r="3.1"/><circle cx="468.54" cy="717.12" r="3.1"/><circle cx="470.54" cy="713.82" r="3.1"/><circle cx="472.54" cy="710.52" r="3.1"/><circle cx="474.54" cy="707.22" r="3.1"/></g>
<g fill="#3a48c8" fill-opacity="0.24" stroke="#10105a" stroke-opacity="0.14" stroke-width="0.7"><circle cx="537.61" cy="616.04" r="3.1"/><circle cx="539.61" cy="612.74" r="3.1"/><circle cx="541.61" cy="609.44" r="3.1"/><circle cx="543.61" cy="606.14" r="3.1"/><circle cx="545.61" cy="602.84" r="3.1"/><circle cx="547.61" cy="599.54" r="3.1"/></g>
<g fill="#3a48c8" fill-opacity="0.21" stroke="#10105a" stroke-opacity="0.12" stroke-width="0.7"><circle cx="448.59" cy="703.24" r="3.1"/><circle cx="450.59" cy="699.94" r="3.1"/><circle cx="452.59" cy="696.64" r="3.1"/><circle cx="454.59" cy="693.34" r="3.1"/></g>
<g fill="#3a48c8" fill-opacity="0.28" stroke="#10105a" stroke-opacity="0.17" stroke-width="0.7"><circle cx="457.52" cy="728.9" r="3.1"/><circle cx="459.52" cy="725.6" r="3.1"/><circle cx="461.52" cy="722.3" r="3.1"/></g>
<g fill="#3a48c8" fill-opacity="0.31" stroke="#10105a" stroke-opacity="0.19" stroke-width="0.7"><circle cx="456.74" cy="682.75" r="3.1"/><circle cx="458.74" cy="679.45" r="3.1"/><circle cx="460.74" cy="676.15" r="3.1"/></g>
<g fill="#3a48c8" fill-opacity="0.39" stroke="#10105a" stroke-opacity="0.24" stroke-width="0.7"><circle cx="463.75" cy="709.06" r="3.1"/><circle cx="465.75" cy="705.76" r="3.1"/><circle cx="467.75" cy="702.46" r="3.1"/><circle cx="469.75" cy="699.16" r="3.1"/><circle cx="471.75" cy="695.86" r="3.1"/></g>
<g fill="#3a48c8" fill-opacity="0.22" stroke="#10105a" stroke-opacity="0.13" stroke-width="0.7"><circle cx="534.48" cy="586.17" r="3.1"/><circle cx="536.48" cy="582.87" r="3.1"/><circle cx="538.48" cy="579.57" r="3.1"/></g>
<g fill="#3a48c8" fill-opacity="0.28" stroke="#10105a" stroke-opacity="0.17" stroke-width="0.7"><circle cx="474.5" cy="700.7" r="3.1"/><circle cx="476.5" cy="697.4" r="3.1"/><circle cx="478.5" cy="694.1" r="3.1"/><circle cx="480.5" cy="690.8" r="3.1"/></g>
<g fill="#3a48c8" fill-opacity="0.23" stroke="#10105a" stroke-opacity="0.14" stroke-width="0.7"><circle cx="544.78" cy="588.91" r="3.1"/><circle cx="546.78" cy="585.61" r="3.1"/><circle cx="548.78" cy="582.31" r="3.1"/><circle cx="550.78" cy="579.01" r="3.1"/></g>
<g fill="#3a48c8" fill-opacity="0.26" stroke="#10105a" stroke-opacity="0.16" stroke-width="0.7"><circle cx="541.12" cy="633.41" r="3.1"/><circle cx="543.12" cy="630.11" r="3.1"/><circle cx="545.12" cy="626.81" r="3.1"/></g>
<g fill="#3a48c8" fill-opacity="0.3" stroke="#10105a" stroke-opacity="0.18" stroke-width="0.7"><circle cx="466.94" cy="679.07" r="3.1"/><circle cx="468.94" cy="675.77" r="3.1"/><circle cx="470.94" cy="672.47" r="3.1"/><circle cx="472.94" cy="669.17" r="3.1"/><circle cx="474.94" cy="665.87" r="3.1"/><circle cx="476.94" cy="662.57" r="3.1"/></g>
<g fill="#3a48c8" fill-opacity="0.37" stroke="#10105a" stroke-opacity="0.22" stroke-width="0.7"><circle cx="445.61" cy="739.86" r="3.1"/><circle cx="447.61" cy="736.56" r="3.1"/><circle cx="449.61" cy="733.26" r="3.1"/><circle cx="451.61" cy="729.96" r="3.1"/></g>
<g fill="#3a48c8" fill-opacity="0.31" stroke="#10105a" stroke-opacity="0.18" stroke-width="0.7"><circle cx="534.89" cy="612.57" r="3.1"/><circle cx="536.89" cy="609.27" r="3.1"/><circle cx="538.89" cy="605.97" r="3.1"/></g>
<g fill="#3a48c8" fill-opacity="0.22" stroke="#10105a" stroke-opacity="0.13" stroke-width="0.7"><circle cx="541.48" cy="601.73" r="3.1"/><circle cx="543.48" cy="598.43" r="3.1"/><circle cx="545.48" cy="595.13" r="3.1"/></g>
<g fill="#3a48c8" fill-opacity="0.36" stroke="#10105a" stroke-opacity="0.21" stroke-width="0.7"><circle cx="549.53" cy="628.76" r="3.1"/><circle cx="551.53" cy="625.46" r="3.1"/><circle cx="553.53" cy="622.16" r="3.1"/></g>
<g fill="#3a48c8" fill-opacity="0.2" stroke="#10105a" stroke-opacity="0.12" stroke-width="0.7"><circle cx="556.93" cy="578.03" r="3.1"/><circle cx="558.93" cy="574.73" r="3.1"/><circle cx="560.93" cy="571.43" r="3.1"/><circle cx="562.93" cy="568.13" r="3.1"/></g>
<g fill="#3a48c8" fill-opacity="0.35" stroke="#10105a" stroke-opacity="0.21" stroke-width="0.7"><circle cx="539.89" cy="589.6" r="3.1"/><circle cx="541.89" cy="586.3" r="3.1"/><circle cx="543.89" cy="583" r="3.1"/></g>
<g fill="#3a48c8" fill-opacity="0.28" stroke="#10105a" stroke-opacity="0.17" stroke-width="0.7"><circle cx="460.12" cy="736.86" r="3.1"/><circle cx="462.12" cy="733.56" r="3.1"/><circle cx="464.12" cy="730.26" r="3.1"/><circle cx="466.12" cy="726.96" r="3.1"/></g>
<g fill="#3a48c8" fill-opacity="0.23" stroke="#10105a" stroke-opacity="0.14" stroke-width="0.7"><circle cx="468.01" cy="673.04" r="3.1"/><circle cx="470.01" cy="669.74" r="3.1"/><circle cx="472.01" cy="666.44" r="3.1"/><circle cx="474.01" cy="663.14" r="3.1"/><circle cx="476.01" cy="659.84" r="3.1"/></g>
<g fill="#3a48c8" fill-opacity="0.28" stroke="#10105a" stroke-opacity="0.17" stroke-width="0.7"><circle cx="441.15" cy="741.38" r="3.1"/><circle cx="443.15" cy="738.08" r="3.1"/><circle cx="445.15" cy="734.78" r="3.1"/><circle cx="447.15" cy="731.48" r="3.1"/><circle cx="449.15" cy="728.18" r="3.1"/><circle cx="451.15" cy="724.88" r="3.1"/></g>
<g fill="#3a48c8" fill-opacity="0.39" stroke="#10105a" stroke-opacity="0.23" stroke-width="0.7"><circle cx="535.05" cy="647.1" r="3.1"/><circle cx="537.05" cy="643.8" r="3.1"/><circle cx="539.05" cy="640.5" r="3.1"/><circle cx="541.05" cy="637.2" r="3.1"/></g>
<g fill="#3a48c8" fill-opacity="0.23" stroke="#10105a" stroke-opacity="0.14" stroke-width="0.7"><circle cx="451.49" cy="711.71" r="3.1"/><circle cx="453.49" cy="708.41" r="3.1"/><circle cx="455.49" cy="705.11" r="3.1"/><circle cx="457.49" cy="701.81" r="3.1"/><circle cx="459.49" cy="698.51" r="3.1"/></g>
<g fill="#3a48c8" fill-opacity="0.19" stroke="#10105a" stroke-opacity="0.11" stroke-width="0.7"><circle cx="482.69" cy="651.6" r="3.1"/><circle cx="484.69" cy="648.3" r="3.1"/><circle cx="486.69" cy="645" r="3.1"/><circle cx="488.69" cy="641.7" r="3.1"/><circle cx="490.69" cy="638.4" r="3.1"/><circle cx="492.69" cy="635.1" r="3.1"/></g>
<g fill="#3a48c8" fill-opacity="0.25" stroke="#10105a" stroke-opacity="0.15" stroke-width="0.7"><circle cx="511.21" cy="653.98" r="3.1"/><circle cx="513.21" cy="650.68" r="3.1"/><circle cx="515.21" cy="647.38" r="3.1"/><circle cx="517.21" cy="644.08" r="3.1"/></g>
<g fill="#3a48c8" fill-opacity="0.26" stroke="#10105a" stroke-opacity="0.16" stroke-width="0.7"><circle cx="457.61" cy="724.83" r="3.1"/><circle cx="459.61" cy="721.53" r="3.1"/><circle cx="461.61" cy="718.23" r="3.1"/><circle cx="463.61" cy="714.93" r="3.1"/></g>
<g fill="#3a48c8" fill-opacity="0.24" stroke="#10105a" stroke-opacity="0.15" stroke-width="0.7"><circle cx="511.93" cy="638.82" r="3.1"/><circle cx="513.93" cy="635.52" r="3.1"/><circle cx="515.93" cy="632.22" r="3.1"/></g>
<g fill="#3a48c8" fill-opacity="0.33" stroke="#10105a" stroke-opacity="0.2" stroke-width="0.7"><circle cx="515.9" cy="629.03" r="3.1"/><circle cx="517.9" cy="625.73" r="3.1"/><circle cx="519.9" cy="622.43" r="3.1"/><circle cx="521.9" cy="619.13" r="3.1"/><circle cx="523.9" cy="615.83" r="3.1"/></g>
<g fill="#3a48c8" fill-opacity="0.22" stroke="#10105a" stroke-opacity="0.13" stroke-width="0.7"><circle cx="465.62" cy="654.76" r="3.1"/><circle cx="467.62" cy="651.46" r="3.1"/><circle cx="469.62" cy="648.16" r="3.1"/><circle cx="471.62" cy="644.86" r="3.1"/></g>
<g fill="#3a48c8" fill-opacity="0.24" stroke="#10105a" stroke-opacity="0.14" stroke-width="0.7"><circle cx="439.71" cy="757.37" r="3.1"/><circle cx="441.71" cy="754.07" r="3.1"/><circle cx="443.71" cy="750.77" r="3.1"/></g>
<g fill="#3a48c8" fill-opacity="0.37" stroke="#10105a" stroke-opacity="0.22" stroke-width="0.7"><circle cx="475.78" cy="640.97" r="3.1"/><circle cx="477.78" cy="637.67" r="3.1"/><circle cx="479.78" cy="634.37" r="3.1"/><circle cx="481.78" cy="631.07" r="3.1"/><circle cx="483.78" cy="627.77" r="3.1"/></g>
<g fill="#3a48c8" fill-opacity="0.35" stroke="#10105a" stroke-opacity="0.21" stroke-width="0.7"><circle cx="519.46" cy="635.31" r="3.1"/><circle cx="521.46" cy="632.01" r="3.1"/><circle cx="523.46" cy="628.71" r="3.1"/></g>
<g fill="#3a48c8" fill-opacity="0.35" stroke="#10105a" stroke-opacity="0.21" stroke-width="0.7"><circle cx="461.31" cy="756.36" r="3.1"/><circle cx="463.31" cy="753.06" r="3.1"/><circle cx="465.31" cy="749.76" r="3.1"/><circle cx="467.31" cy="746.46" r="3.1"/></g>
<g fill="#3a48c8" fill-opacity="0.23" stroke="#10105a" stroke-opacity="0.14" stroke-width="0.7"><circle cx="444.03" cy="737.72" r="3.1"/><circle cx="446.03" cy="734.42" r="3.1"/><circle cx="448.03" cy="731.12" r="3.1"/></g>
<g fill="#3a48c8" fill-opacity="0.28" stroke="#10105a" stroke-opacity="0.17" stroke-width="0.7"><circle cx="538.66" cy="611.25" r="3.1"/><circle cx="540.66" cy="607.95" r="3.1"/><circle cx="542.66" cy="604.65" r="3.1"/><circle cx="544.66" cy="601.35" r="3.1"/></g>
<g fill="#3a48c8" fill-opacity="0.35" stroke="#10105a" stroke-opacity="0.21" stroke-width="0.7"><circle cx="454.31" cy="729.13" r="3.1"/><circle cx="456.31" cy="725.83" r="3.1"/><circle cx="458.31" cy="722.53" r="3.1"/><circle cx="460.31" cy="719.23" r="3.1"/><circle cx="462.31" cy="715.93" r="3.1"/><circle cx="464.31" cy="712.63" r="3.1"/></g>
<g fill="#3a48c8" fill-opacity="0.27" stroke="#10105a" stroke-opacity="0.16" stroke-width="0.7"><circle cx="456.5" cy="689.41" r="3.1"/><circle cx="458.5" cy="686.11" r="3.1"/><circle cx="460.5" cy="682.81" r="3.1"/><circle cx="462.5" cy="679.51" r="3.1"/><circle cx="464.5" cy="676.21" r="3.1"/><circle cx="466.5" cy="672.91" r="3.1"/></g>
<g fill="#3a48c8" fill-opacity="0.27" stroke="#10105a" stroke-opacity="0.16" stroke-width="0.7"><circle cx="442.03" cy="764.44" r="3.1"/><circle cx="444.03" cy="761.14" r="3.1"/><circle cx="446.03" cy="757.84" r="3.1"/><circle cx="448.03" cy="754.54" r="3.1"/><circle cx="450.03" cy="751.24" r="3.1"/></g>
<g fill="#3a48c8" fill-opacity="0.34" stroke="#10105a" stroke-opacity="0.2" stroke-width="0.7"><circle cx="540.53" cy="617.72" r="3.1"/><circle cx="542.53" cy="614.42" r="3.1"/><circle cx="544.53" cy="611.12" r="3.1"/><circle cx="546.53" cy="607.82" r="3.1"/><circle cx="548.53" cy="604.52" r="3.1"/></g>
<g fill="#3a48c8" fill-opacity="0.31" stroke="#10105a" stroke-opacity="0.19" stroke-width="0.7"><circle cx="469.49" cy="663.24" r="3.1"/><circle cx="471.49" cy="659.94" r="3.1"/><circle cx="473.49" cy="656.64" r="3.1"/></g>
<g fill="#3a48c8" fill-opacity="0.3" stroke="#10105a" stroke-opacity="0.18" stroke-width="0.7"><circle cx="524.73" cy="589.96" r="3.1"/><circle cx="526.73" cy="586.66" r="3.1"/><circle cx="528.73" cy="583.36" r="3.1"/><circle cx="530.73" cy="580.06" r="3.1"/><circle cx="532.73" cy="576.76" r="3.1"/><circle cx="534.73" cy="573.46" r="3.1"/></g>
<g fill="#3a48c8" fill-opacity="0.25" stroke="#10105a" stroke-opacity="0.15" stroke-width="0.7"><circle cx="485.36" cy="675.82" r="3.1"/><circle cx="487.36" cy="672.52" r="3.1"/><circle cx="489.36" cy="669.22" r="3.1"/><circle cx="491.36" cy="665.92" r="3.1"/><circle cx="493.36" cy="662.62" r="3.1"/><circle cx="495.36" cy="659.32" r="3.1"/></g>
<g fill="#4452d0" fill-opacity="0.19" stroke="#10105a" stroke-opacity="0.11" stroke-width="0.7"><circle cx="454.36" cy="721.71" r="3.1"/><circle cx="456.36" cy="718.41" r="3.1"/><circle cx="458.36" cy="715.11" r="3.1"/><circle cx="460.36" cy="711.81" r="3.1"/><circle cx="462.36" cy="708.51" r="3.1"/><circle cx="464.36" cy="705.21" r="3.1"/></g>
<g fill="#4452d0" fill-opacity="0.18" stroke="#10105a" stroke-opacity="0.11" stroke-width="0.7"><circle cx="457.32" cy="777.84" r="3.1"/><circle cx="459.32" cy="774.54" r="3.1"/><circle cx="461.32" cy="771.24" r="3.1"/><circle cx="463.32" cy="767.94" r="3.1"/></g>
<g fill="#4452d0" fill-opacity="0.29" stroke="#10105a" stroke-opacity="0.17" stroke-width="0.7"><circle cx="530.06" cy="569.67" r="3.1"/><circle cx="532.06" cy="566.37" r="3.1"/><circle cx="534.06" cy="563.07" r="3.1"/><circle cx="536.06" cy="559.77" r="3.1"/></g>
<g fill="#4452d0" fill-opacity="0.24" stroke="#10105a" stroke-opacity="0.14" stroke-width="0.7"><circle cx="558.2" cy="582.63" r="3.1"/><circle cx="560.2" cy="579.33" r="3.1"/><circle cx="562.2" cy="576.03" r="3.1"/><circle cx="564.2" cy="572.73" r="3.1"/><circle cx="566.2" cy="569.43" r="3.1"/><circle cx="568.2" cy="566.13" r="3.1"/></g>
<g fill="#4452d0" fill-opacity="0.16" stroke="#10105a" stroke-opacity="0.09" stroke-width="0.7"><circle cx="481.29" cy="667.54" r="3.1"/><circle cx="483.29" cy="664.24" r="3.1"/><circle cx="485.29" cy="660.94" r="3.1"/><circle cx="487.29" cy="657.64" r="3.1"/><circle cx="489.29" cy="654.34" r="3.1"/><circle cx="491.29" cy="651.04" r="3.1"/></g>
<g fill="#4452d0" fill-opacity="0.19" stroke="#10105a" stroke-opacity="0.11" stroke-width="0.7"><circle cx="468.8" cy="660.36" r="3.1"/><circle cx="470.8" cy="657.06" r="3.1"/><circle cx="472.8" cy="653.76" r="3.1"/><circle cx="474.8" cy="650.46" r="3.1"/><circle cx="476.8" cy="647.16" r="3.1"/></g>
<g fill="#4452d0" fill-opacity="0.18" stroke="#10105a" stroke-opacity="0.11" stroke-width="0.7"><circle cx="433.43" cy="731.41" r="3.1"/><circle cx="435.43" cy="728.11" r="3.1"/><circle cx="437.43" cy="724.81" r="3.1"/><circle cx="439.43" cy="721.51" r="3.1"/><circle cx="441.43" cy="718.21" r="3.1"/></g>
<g fill="#4452d0" fill-opacity="0.31" stroke="#10105a" stroke-opacity="0.19" stroke-width="0.7"><circle cx="494" cy="660.22" r="3.1"/><circle cx="496" cy="656.92" r="3.1"/><circle cx="498" cy="653.62" r="3.1"/><circle cx="500" cy="650.32" r="3.1"/><circle cx="502" cy="647.02" r="3.1"/><circle cx="504" cy="643.72" r="3.1"/></g>
<g fill="#4452d0" fill-opacity="0.26" stroke="#10105a" stroke-opacity="0.15" stroke-width="0.7"><circle cx="450.93" cy="775.54" r="3.1"/><circle cx="452.93" cy="772.24" r="3.1"/><circle cx="454.93" cy="768.94" r="3.1"/><circle cx="456.93" cy="765.64" r="3.1"/><circle cx="458.93" cy="762.34" r="3.1"/><circle cx="460.93" cy="759.04" r="3.1"/></g>
<g fill="#4452d0" fill-opacity="0.27" stroke="#10105a" stroke-opacity="0.16" stroke-width="0.7"><circle cx="466.86" cy="643.35" r="3.1"/><circle cx="468.86" cy="640.05" r="3.1"/><circle cx="470.86" cy="636.75" r="3.1"/><circle cx="472.86" cy="633.45" r="3.1"/></g>
<g fill="#4452d0" fill-opacity="0.22" stroke="#10105a" stroke-opacity="0.13" stroke-width="0.7"><circle cx="447.56" cy="737.79" r="3.1"/><circle cx="449.56" cy="734.49" r="3.1"/><circle cx="451.56" cy="731.19" r="3.1"/></g>
<g fill="#4452d0" fill-opacity="0.21" stroke="#10105a" stroke-opacity="0.12" stroke-width="0.7"><circle cx="426.56" cy="794.61" r="3.1"/><circle cx="428.56" cy="791.31" r="3.1"/><circle cx="430.56" cy="788.01" r="3.1"/><circle cx="432.56" cy="784.71" r="3.1"/><circle cx="434.56" cy="781.41" r="3.1"/></g>
<g fill="#4452d0" fill-opacity="0.16" stroke="#10105a" stroke-opacity="0.1" stroke-width="0.7"><circle cx="486.02" cy="694.1" r="3.1"/><circle cx="488.02" cy="690.8" r="3.1"/><circle cx="490.02" cy="687.5" r="3.1"/><circle cx="492.02" cy="684.2" r="3.1"/></g>
<g fill="#4452d0" fill-opacity="0.15" stroke="#10105a" stroke-opacity="0.09" stroke-width="0.7"><circle cx="456.14" cy="707.2" r="3.1"/><circle cx="458.14" cy="703.9" r="3.1"/><circle cx="460.14" cy="700.6" r="3.1"/><circle cx="462.14" cy="697.3" r="3.1"/><circle cx="464.14" cy="694" r="3.1"/><circle cx="466.14" cy="690.7" r="3.1"/></g>
<g fill="#4452d0" fill-opacity="0.29" stroke="#10105a" stroke-opacity="0.17" stroke-width="0.7"><circle cx="448.29" cy="708.15" r="3.1"/><circle cx="450.29" cy="704.85" r="3.1"/><circle cx="452.29" cy="701.55" r="3.1"/><circle cx="454.29" cy="698.25" r="3.1"/><circle cx="456.29" cy="694.95" r="3.1"/></g>
<g fill="#4452d0" fill-opacity="0.24" stroke="#10105a" stroke-opacity="0.14" stroke-width="0.7"><circle cx="526.22" cy="591.54" r="3.1"/><circle cx="528.22" cy="588.24" r="3.1"/><circle cx="530.22" cy="584.94" r="3.1"/></g>
<g fill="#4452d0" fill-opacity="0.18" stroke="#10105a" stroke-opacity="0.11" stroke-width="0.7"><circle cx="475.24" cy="728.46" r="3.1"/><circle cx="477.24" cy="725.16" r="3.1"/><circle cx="479.24" cy="721.86" r="3.1"/><circle cx="481.24" cy="718.56" r="3.1"/></g>
<g fill="#4452d0" fill-opacity="0.19" stroke="#10105a" stroke-opacity="0.11" stroke-width="0.7"><circle cx="431.2" cy="784.77" r="3.1"/><circle cx="433.2" cy="781.47" r="3.1"/><circle cx="435.2" cy="778.17" r="3.1"/></g>
<g fill="#4452d0" fill-opacity="0.16" stroke="#10105a" stroke-opacity="0.1" stroke-width="0.7"><circle cx="440.45" cy="715.35" r="3.1"/><circle cx="442.45" cy="712.05" r="3.1"/><circle cx="444.45" cy="708.75" r="3.1"/></g>
<g fill="#4452d0" fill-opacity="0.2" stroke="#10105a" stroke-opacity="0.12" stroke-width="0.7"><circle cx="435.67" cy="712.44" r="3.1"/><circle cx="437.67" cy="709.14" r="3.1"/><circle cx="439.67" cy="705.84" r="3.1"/><circle cx="441.67" cy="702.54" r="3.1"/><circle cx="443.67" cy="699.24" r="3.1"/></g>
<g fill="#4452d0" fill-opacity="0.31" stroke="#10105a" stroke-opacity="0.18" stroke-width="0.7"><circle cx="527.8" cy="580.36" r="3.1"/><circle cx="529.8" cy="577.06" r="3.1"/><circle cx="531.8" cy="573.76" r="3.1"/><circle cx="533.8" cy="570.46" r="3.1"/><circle cx="535.8" cy="567.16" r="3.1"/><circle cx="537.8" cy="563.86" r="3.1"/></g>
<g fill="#4452d0" fill-opacity="0.14" stroke="#10105a" stroke-opacity="0.09" stroke-width="0.7"><circle cx="421.06" cy="786.47" r="3.1"/><circle cx="423.06" cy="783.17" r="3.1"/><circle cx="425.06" cy="779.87" r="3.1"/><circle cx="427.06" cy="776.57" r="3.1"/></g>
<g fill="#4452d0" fill-opacity="0.29" stroke="#10105a" stroke-opacity="0.17" stroke-width="0.7"><circle cx="454.27" cy="731.57" r="3.1"/><circle cx="456.27" cy="728.27" r="3.1"/><circle cx="458.27" cy="724.97" r="3.1"/><circle cx="460.27" cy="721.67" r="3.1"/><circle cx="462.27" cy="718.37" r="3.1"/><circle cx="464.27" cy="715.07" r="3.1"/></g>
<g fill="#4452d0" fill-opacity="0.13" stroke="#10105a" stroke-opacity="0.08" stroke-width="0.7"><circle cx="483.09" cy="681.15" r="3.1"/><circle cx="485.09" cy="677.85" r="3.1"/><circle cx="487.09" cy="674.55" r="3.1"/></g>
<g fill="#4452d0" fill-opacity="0.2" stroke="#10105a" stroke-opacity="0.12" stroke-width="0.7"><circle cx="482.62" cy="636.42" r="3.1"/><circle cx="484.62" cy="633.12" r="3.1"/><circle cx="486.62" cy="629.82" r="3.1"/></g>
<g fill="#4452d0" fill-opacity="0.28" stroke="#10105a" stroke-opacity="0.17" stroke-width="0.7"><circle cx="438.43" cy="776.85" r="3.1"/><circle cx="440.43" cy="773.55" r="3.1"/><circle cx="442.43" cy="770.25" r="3.1"/><circle cx="444.43" cy="766.95" r="3.1"/></g>
<g fill="#4452d0" fill-opacity="0.23" stroke="#10105a" stroke-opacity="0.14" stroke-width="0.7"><circle cx="455.97" cy="777.25" r="3.1"/><circle cx="457.97" cy="773.95" r="3.1"/><circle cx="459.97" cy="770.65" r="3.1"/><circle cx="461.97" cy="767.35" r="3.1"/><circle cx="463.97" cy="764.05" r="3.1"/><circle cx="465.97" cy="760.75" r="3.1"/></g>
<g fill="#4452d0" fill-opacity="0.25" stroke="#10105a" stroke-opacity="0.15" stroke-width="0.7"><circle cx="529.81" cy="589.98" r="3.1"/><circle cx="531.81" cy="586.68" r="3.1"/><circle cx="533.81" cy="583.38" r="3.1"/></g>
<g fill="#4452d0" fill-opacity="0.17" stroke="#10105a" stroke-opacity="0.1" stroke-width="0.7"><circle cx="490.59" cy="630.21" r="3.1"/><circle cx="492.59" cy="626.91" r="3.1"/><circle cx="494.59" cy="623.61" r="3.1"/><circle cx="496.59" cy="620.31" r="3.1"/></g>
<g fill="#4452d0" fill-opacity="0.17" stroke="#10105a" stroke-opacity="0.1" stroke-width="0.7"><circle cx="534.75" cy="604.17" r="3.1"/><circle cx="536.75" cy="600.87" r="3.1"/><circle cx="538.75" cy="597.57" r="3.1"/><circle cx="540.75" cy="594.27" r="3.1"/><circle cx="542.75" cy="590.97" r="3.1"/><circle cx="544.75" cy="587.67" r="3.1"/></g>
<g fill="#4452d0" fill-opacity="0.12" stroke="#10105a" stroke-opacity="0.07" stroke-width="0.7"><circle cx="551.48" cy="597.18" r="3.1"/><circle cx="553.48" cy="593.88" r="3.1"/><circle cx="555.48" cy="590.58" r="3.1"/><circle cx="557.48" cy="587.28" r="3.1"/><circle cx="559.48" cy="583.98" r="3.1"/></g>
<g fill="#4452d0" fill-opacity="0.13" stroke="#10105a" stroke-opacity="0.08" stroke-width="0.7"><circle cx="424.25" cy="769.78" r="3.1"/><circle cx="426.25" cy="766.48" r="3.1"/><circle cx="428.25" cy="763.18" r="3.1"/><circle cx="430.25" cy="759.88" r="3.1"/><circle cx="432.25" cy="756.58" r="3.1"/><circle cx="434.25" cy="753.28" r="3.1"/></g>
<g fill="#4452d0" fill-opacity="0.17" stroke="#10105a" stroke-opacity="0.1" stroke-width="0.7"><circle cx="509.48" cy="645.14" r="3.1"/><circle cx="511.48" cy="641.84" r="3.1"/><circle cx="513.48" cy="638.54" r="3.1"/></g>
<g fill="#4452d0" fill-opacity="0.28" stroke="#10105a" stroke-opacity="0.17" stroke-width="0.7"><circle cx="459.51" cy="689.41" r="3.1"/><circle cx="461.51" cy="686.11" r="3.1"/><circle cx="463.51" cy="682.81" r="3.1"/><circle cx="465.51" cy="679.51" r="3.1"/><circle cx="467.51" cy="676.21" r="3.1"/><circle cx="469.51" cy="672.91" r="3.1"/></g>
<g fill="#4452d0" fill-opacity="0.13" stroke="#10105a" stroke-opacity="0.08" stroke-width="0.7"><circle cx="467.22" cy="711.02" r="3.1"/><circle cx="469.22" cy="707.72" r="3.1"/><circle cx="471.22" cy="704.42" r="3.1"/><circle cx="473.22" cy="701.12" r="3.1"/><circle cx="475.22" cy="697.82" r="3.1"/><circle cx="477.22" cy="694.52" r="3.1"/></g>
<g fill="#4452d0" fill-opacity="0.32" stroke="#10105a" stroke-opacity="0.19" stroke-width="0.7"><circle cx="459.73" cy="712.15" r="3.1"/><circle cx="461.73" cy="708.85" r="3.1"/><circle cx="463.73" cy="705.55" r="3.1"/><circle cx="465.73" cy="702.25" r="3.1"/><circle cx="467.73" cy="698.95" r="3.1"/></g>
<g fill="#4452d0" fill-opacity="0.21" stroke="#10105a" stroke-opacity="0.13" stroke-width="0.7"><circle cx="436.23" cy="759.08" r="3.1"/><circle cx="438.23" cy="755.78" r="3.1"/><circle cx="440.23" cy="752.48" r="3.1"/><circle cx="442.23" cy="749.18" r="3.1"/></g>
<g fill="#4452d0" fill-opacity="0.3" stroke="#10105a" stroke-opacity="0.18" stroke-width="0.7"><circle cx="424.77" cy="794.86" r="3.1"/><circle cx="426.77" cy="791.56" r="3.1"/><circle cx="428.77" cy="788.26" r="3.1"/><circle cx="430.77" cy="784.96" r="3.1"/><circle cx="432.77" cy="781.66" r="3.1"/><circle cx="434.77" cy="778.36" r="3.1"/></g>
<g fill="#4452d0" fill-opacity="0.3" stroke="#10105a" stroke-opacity="0.18" stroke-width="0.7"><circle cx="548.7" cy="638.38" r="3.1"/><circle cx="550.7" cy="635.08" r="3.1"/><circle cx="552.7" cy="631.78" r="3.1"/></g>
<g fill="#4452d0" fill-opacity="0.3" stroke="#10105a" stroke-opacity="0.18" stroke-width="0.7"><circle cx="527.77" cy="592.32" r="3.1"/><circle cx="529.77" cy="589.02" r="3.1"/><circle cx="531.77" cy="585.72" r="3.1"/><circle cx="533.77" cy="582.42" r="3.1"/><circle cx="535.77" cy="579.12" r="3.1"/></g>
<g fill="#4452d0" fill-opacity="0.15" stroke="#10105a" stroke-opacity="0.09" stroke-width="0.7"><circle cx="459.46" cy="740.42" r="3.1"/><circle cx="461.46" cy="737.12" r="3.1"/><circle cx="463.46" cy="733.82" r="3.1"/><circle cx="465.46" cy="730.52" r="3.1"/><circle cx="467.46" cy="727.22" r="3.1"/></g>
<g fill="#4452d0" fill-opacity="0.16" stroke="#10105a" stroke-opacity="0.1" stroke-width="0.7"><circle cx="444.03" cy="686.16" r="3.1"/><circle cx="446.03" cy="682.86" r="3.1"/><circle cx="448.03" cy="679.56" r="3.1"/><circle cx="450.03" cy="676.26" r="3.1"/><circle cx="452.03" cy="672.96" r="3.1"/><circle cx="454.03" cy="669.66" r="3.1"/></g>
<g fill="#4452d0" fill-opacity="0.21" stroke="#10105a" stroke-opacity="0.12" stroke-width="0.7"><circle cx="521.09" cy="594.32" r="3.1"/><circle cx="523.09" cy="591.02" r="3.1"/><circle cx="525.09" cy="587.72" r="3.1"/><circle cx="527.09" cy="584.42" r="3.1"/></g>
<g fill="#4452d0" fill-opacity="0.32" stroke="#10105a" stroke-opacity="0.19" stroke-width="0.7"><circle cx="543.61" cy="569.03" r="3.1"/><circle cx="545.61" cy="565.73" r="3.1"/><circle cx="547.61" cy="562.43" r="3.1"/><circle cx="549.61" cy="559.13" r="3.1"/></g>
<g fill="#4452d0" fill-opacity="0.16" stroke="#10105a" stroke-opacity="0.09" stroke-width="0.7"><circle cx="446.16" cy="725.26" r="3.1"/><circle cx="448.16" cy="721.96" r="3.1"/><circle cx="450.16" cy="718.66" r="3.1"/><circle cx="452.16" cy="715.36" r="3.1"/></g>
</g>
<g fill="#6a78e0"><circle cx="544.86" cy="565.58" r="3" fill-opacity="0.12"/><circle cx="509.78" cy="608.64" r="3" fill-opacity="0.21"/><circle cx="462.06" cy="627.01" r="3" fill-opacity="0.2"/><circle cx="561.36" cy="646.39" r="3" fill-opacity="0.15"/><circle cx="417.03" cy="782.83" r="3" fill-opacity="0.12"/><circle cx="439.05" cy="695.31" r="3" fill-opacity="0.13"/><circle cx="457.64" cy="641.91" r="3" fill-opacity="0.23"/><circle cx="571.74" cy="582.31" r="3" fill-opacity="0.23"/><circle cx="437.67" cy="711.04" r="3" fill-opacity="0.22"/><circle cx="527.36" cy="651.01" r="3" fill-opacity="0.24"/><circle cx="440.03" cy="769.07" r="3" fill-opacity="0.11"/><circle cx="466.01" cy="776.33" r="3" fill-opacity="0.14"/><circle cx="462.07" cy="645.64" r="3" fill-opacity="0.1"/><circle cx="458.96" cy="710.66" r="3" fill-opacity="0.12"/><circle cx="454.9" cy="635.05" r="3" fill-opacity="0.16"/><circle cx="509.34" cy="612.21" r="3" fill-opacity="0.17"/><circle cx="525.56" cy="588.06" r="3" fill-opacity="0.13"/><circle cx="442.65" cy="775.47" r="3" fill-opacity="0.12"/><circle cx="444.91" cy="758.87" r="3" fill-opacity="0.13"/><circle cx="553.42" cy="608.06" r="3" fill-opacity="0.18"/><circle cx="574.48" cy="575.71" r="3" fill-opacity="0.17"/><circle cx="536.26" cy="679.84" r="3" fill-opacity="0.16"/><circle cx="468.95" cy="693.61" r="3" fill-opacity="0.12"/><circle cx="526.82" cy="675.6" r="3" fill-opacity="0.11"/><circle cx="513.96" cy="622.71" r="3" fill-opacity="0.11"/><circle cx="439.27" cy="704.27" r="3" fill-opacity="0.24"/><circle cx="568.06" cy="597.77" r="3" fill-opacity="0.22"/><circle cx="478.44" cy="747.96" r="3" fill-opacity="0.24"/><circle cx="478.59" cy="615.47" r="3" fill-opacity="0.23"/><circle cx="534.74" cy="664.92" r="3" fill-opacity="0.13"/><circle cx="441.14" cy="765.66" r="3" fill-opacity="0.11"/><circle cx="429.8" cy="786.36" r="3" fill-opacity="0.14"/><circle cx="479.72" cy="680.3" r="3" fill-opacity="0.12"/><circle cx="447.44" cy="679.26" r="3" fill-opacity="0.14"/><circle cx="437.86" cy="735.86" r="3" fill-opacity="0.16"/><circle cx="434.17" cy="738.04" r="3" fill-opacity="0.17"/><circle cx="479.91" cy="718.98" r="3" fill-opacity="0.15"/><circle cx="438.81" cy="749.5" r="3" fill-opacity="0.17"/><circle cx="448.39" cy="768" r="3" fill-opacity="0.13"/><circle cx="474.15" cy="617.27" r="3" fill-opacity="0.21"/><circle cx="422.89" cy="818.87" r="3" fill-opacity="0.2"/><circle cx="545.84" cy="601.96" r="3" fill-opacity="0.23"/><circle cx="424.75" cy="809.22" r="3" fill-opacity="0.15"/><circle cx="515.34" cy="628.21" r="3" fill-opacity="0.2"/><circle cx="542.12" cy="651.84" r="3" fill-opacity="0.17"/><circle cx="524.23" cy="671.24" r="3" fill-opacity="0.23"/><circle cx="502.21" cy="685.48" r="3" fill-opacity="0.12"/><circle cx="455.27" cy="789.99" r="3" fill-opacity="0.15"/><circle cx="452.81" cy="795.08" r="3" fill-opacity="0.23"/><circle cx="511.68" cy="676.16" r="3" fill-opacity="0.18"/></g>
</g>
<path d="M100.9 691.2L423.2 691.2L423.2 1008.2" stroke="#000" stroke-width="2.1" stroke-dasharray="7.6 3.3" fill="none"/>
<path d="M100.9 829.3L312.1 829.3L312.1 1008.2" stroke="#000" stroke-width="2.1" stroke-dasharray="7.6 3.3" fill="none"/>
<g clip-path="url(#cP3)"><path d="M297.9 768.7H306.1L302 776.9Z" fill="#ff0000" stroke="#000" stroke-width="1"/><path d="M311.9 768.7H320.1L316 776.9Z" fill="#ff0000" stroke="#000" stroke-width="1"/><path d="M306.2 777.9H314.4L310.3 786.1Z" fill="#ff0000" stroke="#000" stroke-width="1"/><path d="M302.2 783.3H310.4L306.3 791.5Z" fill="#ff0000" stroke="#000" stroke-width="1"/><path d="M328.4 776.9H336.6L332.5 785.1Z" fill="#ff0000" stroke="#000" stroke-width="1"/><path d="M326.5 782.2H334.7L330.6 790.4Z" fill="#ff0000" stroke="#000" stroke-width="1"/><path d="M339.9 754.6H348.1L344 762.8Z" fill="#ff0000" stroke="#000" stroke-width="1"/><path d="M261.7 794.5H269.9L265.8 802.7Z" fill="#ff0000" stroke="#000" stroke-width="1"/><path d="M321.2 793.4H329.4L325.3 801.6Z" fill="#ff0000" stroke="#000" stroke-width="1"/><path d="M290.4 798.8H298.6L294.5 807Z" fill="#ff0000" stroke="#000" stroke-width="1"/><path d="M289.7 806H297.9L293.8 814.2Z" fill="#ff0000" stroke="#000" stroke-width="1"/><path d="M284.7 814.6H292.9L288.8 822.8Z" fill="#ff0000" stroke="#000" stroke-width="1"/><path d="M322 806.5H330.2L326.1 814.7Z" fill="#ff0000" stroke="#000" stroke-width="1"/><path d="M319.4 818H327.6L323.5 826.2Z" fill="#ff0000" stroke="#000" stroke-width="1"/><path d="M258.1 850H266.3L262.2 858.2Z" fill="#ff0000" stroke="#000" stroke-width="1"/><path d="M305.8 852.9H314L309.9 861.1Z" fill="#ff0000" stroke="#000" stroke-width="1"/><path d="M386.8 698.3H395L390.9 706.5Z" fill="#ff0000" stroke="#000" stroke-width="1"/><path d="M366.5 708.5H374.7L370.6 716.7Z" fill="#ff0000" stroke="#000" stroke-width="1"/><path d="M354.7 787.6H362.9L358.8 795.8Z" fill="#0000ff" stroke="#000" stroke-width="1"/><path d="M337 800.5H345.2L341.1 808.7Z" fill="#0000ff" stroke="#000" stroke-width="1"/><path d="M332.7 804.8H340.9L336.8 813Z" fill="#0000ff" stroke="#000" stroke-width="1"/><path d="M364.3 799.1H372.5L368.4 807.3Z" fill="#0000ff" stroke="#000" stroke-width="1"/><path d="M360.7 803.4H368.9L364.8 811.6Z" fill="#0000ff" stroke="#000" stroke-width="1"/><path d="M371.4 798.4H379.6L375.5 806.6Z" fill="#0000ff" stroke="#000" stroke-width="1"/><path d="M530.3 578.3H538.5L534.4 586.5Z" fill="#0000ff" stroke="#000" stroke-width="1"/><path d="M522.8 585.9H531L526.9 594.1Z" fill="#0000ff" stroke="#000" stroke-width="1"/><path d="M532.2 588.5H540.4L536.3 596.7Z" fill="#0000ff" stroke="#000" stroke-width="1"/><path d="M539 590.9H547.2L543.1 599.1Z" fill="#0000ff" stroke="#000" stroke-width="1"/><path d="M536.7 595H544.9L540.8 603.2Z" fill="#0000ff" stroke="#000" stroke-width="1"/><path d="M524.6 598H532.8L528.7 606.2Z" fill="#0000ff" stroke="#000" stroke-width="1"/><path d="M543.5 601.8H551.7L547.6 610Z" fill="#0000ff" stroke="#000" stroke-width="1"/><path d="M540.5 606H548.7L544.6 614.2Z" fill="#0000ff" stroke="#000" stroke-width="1"/><path d="M525.8 610.9H534L529.9 619.1Z" fill="#0000ff" stroke="#000" stroke-width="1"/><path d="M533.4 621.5H541.6L537.5 629.7Z" fill="#0000ff" stroke="#000" stroke-width="1"/><path d="M490.5 612.4H498.7L494.6 620.6Z" fill="#0000ff" stroke="#000" stroke-width="1"/><path d="M495.8 618.4H504L499.9 626.6Z" fill="#0000ff" stroke="#000" stroke-width="1"/><path d="M503.7 621.5H511.9L507.8 629.7Z" fill="#0000ff" stroke="#000" stroke-width="1"/><path d="M514 625.2H522.2L518.1 633.4Z" fill="#0000ff" stroke="#000" stroke-width="1"/><path d="M478.4 624.2H486.6L482.5 632.4Z" fill="#0000ff" stroke="#000" stroke-width="1"/><path d="M484.5 630.9H492.7L488.6 639.1Z" fill="#0000ff" stroke="#000" stroke-width="1"/><path d="M496.1 635.4H504.3L500.2 643.6Z" fill="#0000ff" stroke="#000" stroke-width="1"/><path d="M510.2 637.4H518.4L514.3 645.6Z" fill="#0000ff" stroke="#000" stroke-width="1"/><path d="M476.1 648H484.3L480.2 656.2Z" fill="#0000ff" stroke="#000" stroke-width="1"/><path d="M489.3 650.2H497.5L493.4 658.4Z" fill="#0000ff" stroke="#000" stroke-width="1"/><path d="M464.8 665.4H473L468.9 673.6Z" fill="#0000ff" stroke="#000" stroke-width="1"/><path d="M482.5 665.1H490.7L486.6 673.3Z" fill="#0000ff" stroke="#000" stroke-width="1"/></g>
<path d="M257.9 789.6H311M290.5 778.1V803.2" stroke="#333" stroke-width="1.3" fill="none"/>
<path d="M257.9 786.7V792.5M311 786.7V792.5M287.6 778.1H293.4M287.6 803.2H293.4" stroke="#333" stroke-width="1.2" fill="none"/>
<polygon points="298,789.6 294.25,796.1 286.75,796.1 283,789.6 286.75,783.1 294.25,783.1" fill="#0000ff" stroke="#000" stroke-width="1.15"/>
<path d="M311.4 750.1H400.6M371.2 725V800.3" stroke="#333" stroke-width="1.3" fill="none"/>
<path d="M311.4 747.2V753M400.6 747.2V753M368.3 725H374.1M368.3 800.3H374.1" stroke="#333" stroke-width="1.2" fill="none"/>
<polygon points="378.7,750.1 374.95,756.6 367.45,756.6 363.7,750.1 367.45,743.6 374.95,743.6" fill="#008000" stroke="#000" stroke-width="1.15"/>
<path d="M340 766.6H366.2M353.3 754.4V782" stroke="#333" stroke-width="1.3" fill="none"/>
<path d="M340 763.7V769.5M366.2 763.7V769.5M350.4 754.4H356.2M350.4 782H356.2" stroke="#333" stroke-width="1.2" fill="none"/>
<polygon points="360.8,766.6 357.05,773.1 349.55,773.1 345.8,766.6 349.55,760.1 357.05,760.1" fill="#ff0000" stroke="#000" stroke-width="1.15"/>
<path d="M293.1 767.3H358M338.2 746.5V802.5" stroke="#000" stroke-width="2.7" fill="none"/>
<path d="M293.1 762.3V772.3M358 762.3V772.3M333.2 746.5H343.2M333.2 802.5H343.2" stroke="#000" stroke-width="2.2" fill="none"/>
<path d="M338.2 755.3L350.2 767.3L338.2 779.3L326.2 767.3Z" fill="#ffa500" stroke="#000" stroke-width="1.3"/>
<text transform="translate(107.8 586.5) scale(1.0069 1)" x="-0.89" y="0" font-size="19.6" fill="#0000ff" stroke="#0000ff" stroke-width="0.45">SFG</text>
<text transform="translate(107.8 712.6) scale(1.1375 1)" x="-1" y="0" font-size="19.6" fill="#008000" stroke="#008000" stroke-width="0.4">Comp.</text>
<text transform="translate(262 998.4) scale(1.0530 1)" x="-0.04" y="0" font-size="19.6" fill="#ff0000" stroke="#ff0000" stroke-width="0.43">AGN</text>
<rect x="100.9" y="565.5" width="488.6" height="442.7" fill="none" stroke="#333" stroke-width="1.75"/>
<path d="M173.42 1008.2L173.42 1013.2M312.11 1008.2L312.11 1013.2M450.81 1008.2L450.81 1013.2M589.5 1008.2L589.5 1013.2M100.9 942.49L95.9 942.49M100.9 816.83L95.9 816.83M100.9 691.16L95.9 691.16M100.9 565.5L95.9 565.5" stroke="#000" stroke-width="1.2" fill="none"/>
<path d="M100.9 1008.2L100.9 1011.1M118.23 1008.2L118.23 1011.1M131.67 1008.2L131.67 1011.1M142.65 1008.2L142.65 1011.1M151.94 1008.2L151.94 1011.1M159.98 1008.2L159.98 1011.1M167.07 1008.2L167.07 1011.1M215.17 1008.2L215.17 1011.1M239.59 1008.2L239.59 1011.1M256.92 1008.2L256.92 1011.1M270.36 1008.2L270.36 1011.1M281.34 1008.2L281.34 1011.1M290.63 1008.2L290.63 1011.1M298.67 1008.2L298.67 1011.1M305.77 1008.2L305.77 1011.1M353.86 1008.2L353.86 1011.1M378.29 1008.2L378.29 1011.1M395.61 1008.2L395.61 1011.1M409.06 1008.2L409.06 1011.1M420.04 1008.2L420.04 1011.1M429.32 1008.2L429.32 1011.1M437.37 1008.2L437.37 1011.1M444.46 1008.2L444.46 1011.1M492.56 1008.2L492.56 1011.1M516.98 1008.2L516.98 1011.1M534.31 1008.2L534.31 1011.1M547.75 1008.2L547.75 1011.1M558.73 1008.2L558.73 1011.1M568.02 1008.2L568.02 1011.1M576.06 1008.2L576.06 1011.1M583.15 1008.2L583.15 1011.1M100.9 1008.2L98 1008.2M100.9 992.5L98 992.5M100.9 980.32L98 980.32M100.9 970.37L98 970.37M100.9 961.96L98 961.96M100.9 954.67L98 954.67M100.9 948.24L98 948.24M100.9 904.66L98 904.66M100.9 882.54L98 882.54M100.9 866.84L98 866.84M100.9 854.66L98 854.66M100.9 844.71L98 844.71M100.9 836.29L98 836.29M100.9 829.01L98 829.01M100.9 822.58L98 822.58M100.9 779L98 779M100.9 756.87L98 756.87M100.9 741.17L98 741.17M100.9 728.99L98 728.99M100.9 719.04L98 719.04M100.9 710.63L98 710.63M100.9 703.34L98 703.34M100.9 696.91L98 696.91M100.9 653.34L98 653.34M100.9 631.21L98 631.21M100.9 615.51L98 615.51M100.9 603.33L98 603.33M100.9 593.38L98 593.38M100.9 584.97L98 584.97M100.9 577.68L98 577.68M100.9 571.25L98 571.25" stroke="#000" stroke-width="0.9" fill="none"/>
<text x="145.99" y="1035.7" font-size="27.3" fill="#000" text-anchor="start" stroke="#000" stroke-width="0.6" paint-order="stroke" >10</text>
<text x="178.14" y="1026.3" font-size="18.9" fill="#000" text-anchor="start" stroke="#000" stroke-width="0.6" paint-order="stroke" >−1</text>
<text x="290.02" y="1035.7" font-size="27.3" fill="#000" text-anchor="start" stroke="#000" stroke-width="0.6" paint-order="stroke" >10</text>
<text x="322.36" y="1026.3" font-size="18.9" fill="#000" text-anchor="start" stroke="#000" stroke-width="0.6" paint-order="stroke" >0</text>
<text x="429.15" y="1035.7" font-size="27.3" fill="#000" text-anchor="start" stroke="#000" stroke-width="0.6" paint-order="stroke" >10</text>
<text x="460.79" y="1026.3" font-size="18.9" fill="#000" text-anchor="start" stroke="#000" stroke-width="0.6" paint-order="stroke" >1</text>
<text x="567.62" y="1035.7" font-size="27.3" fill="#000" text-anchor="start" stroke="#000" stroke-width="0.6" paint-order="stroke" >10</text>
<text x="599.74" y="1026.3" font-size="18.9" fill="#000" text-anchor="start" stroke="#000" stroke-width="0.6" paint-order="stroke" >2</text>
<text x="36.83" y="951.59" font-size="27.3" fill="#000" text-anchor="start" stroke="#000" stroke-width="0.6" paint-order="stroke" >10</text>
<text x="68.97" y="942.19" font-size="18.9" fill="#000" text-anchor="start" stroke="#000" stroke-width="0.6" paint-order="stroke" >−1</text>
<text x="47.49" y="825.93" font-size="27.3" fill="#000" text-anchor="start" stroke="#000" stroke-width="0.6" paint-order="stroke" >10</text>
<text x="79.83" y="816.53" font-size="18.9" fill="#000" text-anchor="start" stroke="#000" stroke-width="0.6" paint-order="stroke" >0</text>
<text x="48.37" y="700.26" font-size="27.3" fill="#000" text-anchor="start" stroke="#000" stroke-width="0.6" paint-order="stroke" >10</text>
<text x="80.01" y="690.86" font-size="18.9" fill="#000" text-anchor="start" stroke="#000" stroke-width="0.6" paint-order="stroke" >1</text>
<text x="47.91" y="574.6" font-size="27.3" fill="#000" text-anchor="start" stroke="#000" stroke-width="0.6" paint-order="stroke" >10</text>
<text x="80.04" y="565.2" font-size="18.9" fill="#000" text-anchor="start" stroke="#000" stroke-width="0.6" paint-order="stroke" >2</text>
<g clip-path="url(#cP4)">
</g>
<path d="M745.8 943.2L988.4 749L988.4 555.6" stroke="#000" stroke-width="2.1" stroke-dasharray="7.6 3.3" fill="none"/>
<path d="M939.8 1008.3L1223 555.6" stroke="#000" stroke-width="2.1" stroke-dasharray="7.6 3.3" fill="none"/>
<g clip-path="url(#cP4)"><path d="M947.7 662.2H955.9L951.8 670.4Z" fill="#ff0000" stroke="#000" stroke-width="1"/><path d="M960.3 668.7H968.5L964.4 676.9Z" fill="#ff0000" stroke="#000" stroke-width="1"/><path d="M975.6 656.5H983.8L979.7 664.7Z" fill="#ff0000" stroke="#000" stroke-width="1"/><path d="M896.3 706.3H904.5L900.4 714.5Z" fill="#ff0000" stroke="#000" stroke-width="1"/><path d="M905.1 715.5H913.3L909.2 723.7Z" fill="#ff0000" stroke="#000" stroke-width="1"/><path d="M901.4 718.5H909.6L905.5 726.7Z" fill="#ff0000" stroke="#000" stroke-width="1"/><path d="M974.1 724.6H982.3L978.2 732.8Z" fill="#ff0000" stroke="#000" stroke-width="1"/><path d="M972.1 741.5H980.3L976.2 749.7Z" fill="#ff0000" stroke="#000" stroke-width="1"/><path d="M951.8 782.4H960L955.9 790.6Z" fill="#ff0000" stroke="#000" stroke-width="1"/><path d="M891.7 791.2H899.9L895.8 799.4Z" fill="#ff0000" stroke="#000" stroke-width="1"/><path d="M890.2 807.5H898.4L894.3 815.7Z" fill="#ff0000" stroke="#000" stroke-width="1"/><path d="M884.1 840.1H892.3L888.2 848.3Z" fill="#ff0000" stroke="#000" stroke-width="1"/><path d="M858.7 874.6H866.9L862.8 882.8Z" fill="#ff0000" stroke="#000" stroke-width="1"/><path d="M942.6 804.5H950.8L946.7 812.7Z" fill="#ff0000" stroke="#000" stroke-width="1"/><path d="M962.4 887.4H970.6L966.5 895.6Z" fill="#ff0000" stroke="#000" stroke-width="1"/><path d="M899 940.2H907.2L903.1 948.4Z" fill="#ff0000" stroke="#000" stroke-width="1"/><path d="M922.1 940.2H930.3L926.2 948.4Z" fill="#ff0000" stroke="#000" stroke-width="1"/><path d="M882.1 977.2H890.3L886.2 985.4Z" fill="#ff0000" stroke="#000" stroke-width="1"/><path d="M987.5 830.1H995.7L991.6 838.3Z" fill="#0000ff" stroke="#000" stroke-width="1"/><path d="M987.9 836H996.1L992 844.2Z" fill="#0000ff" stroke="#000" stroke-width="1"/><path d="M970.5 849.2H978.7L974.6 857.4Z" fill="#0000ff" stroke="#000" stroke-width="1"/><path d="M974.5 856.3H982.7L978.6 864.5Z" fill="#0000ff" stroke="#000" stroke-width="1"/><path d="M928.2 903.6H936.4L932.3 911.8Z" fill="#0000ff" stroke="#000" stroke-width="1"/><path d="M929.9 909.1H938.1L934 917.3Z" fill="#0000ff" stroke="#000" stroke-width="1"/><path d="M899.4 922.3H907.6L903.5 930.5Z" fill="#0000ff" stroke="#000" stroke-width="1"/><path d="M905.5 928.4H913.7L909.6 936.6Z" fill="#0000ff" stroke="#000" stroke-width="1"/><path d="M1014.2 861.3H1022.4L1018.3 869.5Z" fill="#0000ff" stroke="#000" stroke-width="1"/><path d="M1024 859.4H1032.2L1028.1 867.6Z" fill="#0000ff" stroke="#000" stroke-width="1"/><path d="M1020.1 876.9H1028.3L1024.2 885.1Z" fill="#0000ff" stroke="#000" stroke-width="1"/><path d="M1029.2 897.4H1037.4L1033.3 905.6Z" fill="#0000ff" stroke="#000" stroke-width="1"/><path d="M1044.9 877.9H1053.1L1049 886.1Z" fill="#0000ff" stroke="#000" stroke-width="1"/><path d="M1049.9 878.3H1058.1L1054 886.5Z" fill="#0000ff" stroke="#000" stroke-width="1"/><path d="M1068.3 832.6H1076.5L1072.4 840.8Z" fill="#0000ff" stroke="#000" stroke-width="1"/><path d="M1078.1 837.9H1086.3L1082.2 846.1Z" fill="#0000ff" stroke="#000" stroke-width="1"/><path d="M1089.8 834.9H1098L1093.9 843.1Z" fill="#0000ff" stroke="#000" stroke-width="1"/><path d="M1089.4 844.3H1097.6L1093.5 852.5Z" fill="#0000ff" stroke="#000" stroke-width="1"/><path d="M1098.6 830.1H1106.8L1102.7 838.3Z" fill="#0000ff" stroke="#000" stroke-width="1"/><path d="M1101.5 842.4H1109.7L1105.6 850.6Z" fill="#0000ff" stroke="#000" stroke-width="1"/><path d="M1077.1 852.5H1085.3L1081.2 860.7Z" fill="#0000ff" stroke="#000" stroke-width="1"/><path d="M1082 856.8H1090.2L1086.1 865Z" fill="#0000ff" stroke="#000" stroke-width="1"/><path d="M1108.5 815.4H1116.7L1112.6 823.6Z" fill="#0000ff" stroke="#000" stroke-width="1"/><path d="M1108.5 821.3H1116.7L1112.6 829.5Z" fill="#0000ff" stroke="#000" stroke-width="1"/><path d="M1124.9 811.9H1133.1L1129 820.1Z" fill="#0000ff" stroke="#000" stroke-width="1"/><path d="M1081.4 798.7H1089.6L1085.5 806.9Z" fill="#0000ff" stroke="#000" stroke-width="1"/><path d="M1084.5 803.3H1092.7L1088.6 811.5Z" fill="#0000ff" stroke="#000" stroke-width="1"/><path d="M1143.2 771.1H1151.4L1147.3 779.3Z" fill="#0000ff" stroke="#000" stroke-width="1"/><path d="M1147.6 773.3H1155.8L1151.7 781.5Z" fill="#0000ff" stroke="#000" stroke-width="1"/><path d="M1143.2 781.4H1151.4L1147.3 789.6Z" fill="#0000ff" stroke="#000" stroke-width="1"/><path d="M1150.5 785.3H1158.7L1154.6 793.5Z" fill="#0000ff" stroke="#000" stroke-width="1"/><path d="M1118.5 793H1126.7L1122.6 801.2Z" fill="#0000ff" stroke="#000" stroke-width="1"/><path d="M1124.6 811.6H1132.8L1128.7 819.8Z" fill="#0000ff" stroke="#000" stroke-width="1"/></g>
<path d="M832.8 808.6H884.8M863.2 791.3V832" stroke="#333" stroke-width="1.3" fill="none"/>
<path d="M832.8 805.7V811.5M884.8 805.7V811.5M860.3 791.3H866.1M860.3 832H866.1" stroke="#333" stroke-width="1.2" fill="none"/>
<polygon points="870.7,808.6 866.95,815.1 859.45,815.1 855.7,808.6 859.45,802.1 866.95,802.1" fill="#0000ff" stroke="#000" stroke-width="1.15"/>
<path d="M946.7 769.3H987.8M970.1 760V776" stroke="#333" stroke-width="1.3" fill="none"/>
<path d="M946.7 766.4V772.2M987.8 766.4V772.2M967.2 760H973M967.2 776H973" stroke="#333" stroke-width="1.2" fill="none"/>
<polygon points="977.6,769.3 973.85,775.8 966.35,775.8 962.6,769.3 966.35,762.8 973.85,762.8" fill="#ff0000" stroke="#000" stroke-width="1.15"/>
<path d="M1002.7 663.9H1098.7" stroke="#333" stroke-width="1.3" fill="none"/>
<path d="M1002.7 661V666.8M1098.7 661V666.8" stroke="#333" stroke-width="1.2" fill="none"/>
<polygon points="1073.3,663.9 1069.55,670.4 1062.05,670.4 1058.3,663.9 1062.05,657.4 1069.55,657.4" fill="#008000" stroke="#000" stroke-width="1.15"/>
<path d="M958 644.4H1029.7" stroke="#000" stroke-width="2.7" fill="none"/>
<path d="M958 639.4V649.4M1029.7 639.4V649.4" stroke="#000" stroke-width="2.2" fill="none"/>
<path d="M1002.3 632.4L1014.3 644.4L1002.3 656.4L990.3 644.4Z" fill="#ffa500" stroke="#000" stroke-width="1.3"/>
<text transform="translate(753.1 576.3) scale(1.0211 1)" x="-0.04" y="0" font-size="19.6" fill="#ff0000" stroke="#ff0000" stroke-width="0.44">AGN</text>
<text transform="translate(1137.9 576.9) scale(1.1576 1)" x="-1" y="0" font-size="19.6" fill="#008000" stroke="#008000" stroke-width="0.39">Comp.</text>
<text transform="translate(1184.3 998.8) scale(1.0122 1)" x="-0.89" y="0" font-size="19.6" fill="#0000ff" stroke="#0000ff" stroke-width="0.44">SFG</text>
<rect x="745.8" y="555.6" width="485.1" height="452.7" fill="none" stroke="#333" stroke-width="1.75"/>
<path d="M745.8 1008.3L745.8 1013.3M907.5 1008.3L907.5 1013.3M1069.2 1008.3L1069.2 1013.3M1230.9 1008.3L1230.9 1013.3M745.8 1008.3L740.8 1008.3M745.8 878.96L740.8 878.96M745.8 749.61L740.8 749.61M745.8 620.27L740.8 620.27" stroke="#000" stroke-width="1.2" fill="none"/>
<path d="M794.48 1008.3L794.48 1011.2M822.95 1008.3L822.95 1011.2M843.15 1008.3L843.15 1011.2M858.82 1008.3L858.82 1011.2M871.63 1008.3L871.63 1011.2M882.45 1008.3L882.45 1011.2M891.83 1008.3L891.83 1011.2M900.1 1008.3L900.1 1011.2M956.18 1008.3L956.18 1011.2M984.65 1008.3L984.65 1011.2M1004.85 1008.3L1004.85 1011.2M1020.52 1008.3L1020.52 1011.2M1033.33 1008.3L1033.33 1011.2M1044.15 1008.3L1044.15 1011.2M1053.53 1008.3L1053.53 1011.2M1061.8 1008.3L1061.8 1011.2M1117.88 1008.3L1117.88 1011.2M1146.35 1008.3L1146.35 1011.2M1166.55 1008.3L1166.55 1011.2M1182.22 1008.3L1182.22 1011.2M1195.03 1008.3L1195.03 1011.2M1205.85 1008.3L1205.85 1011.2M1215.23 1008.3L1215.23 1011.2M1223.5 1008.3L1223.5 1011.2M745.8 969.36L742.9 969.36M745.8 946.59L742.9 946.59M745.8 930.43L742.9 930.43M745.8 917.89L742.9 917.89M745.8 907.65L742.9 907.65M745.8 898.99L742.9 898.99M745.8 891.49L742.9 891.49M745.8 884.88L742.9 884.88M745.8 840.02L742.9 840.02M745.8 817.24L742.9 817.24M745.8 801.08L742.9 801.08M745.8 788.55L742.9 788.55M745.8 778.31L742.9 778.31M745.8 769.65L742.9 769.65M745.8 762.15L742.9 762.15M745.8 755.53L742.9 755.53M745.8 710.68L742.9 710.68M745.8 687.9L742.9 687.9M745.8 671.74L742.9 671.74M745.8 659.21L742.9 659.21M745.8 648.97L742.9 648.97M745.8 640.31L742.9 640.31M745.8 632.81L742.9 632.81M745.8 626.19L742.9 626.19M745.8 581.34L742.9 581.34M745.8 558.56L742.9 558.56" stroke="#000" stroke-width="0.9" fill="none"/>
<text x="718.37" y="1035.8" font-size="27.3" fill="#000" text-anchor="start" stroke="#000" stroke-width="0.6" paint-order="stroke" >10</text>
<text x="750.52" y="1026.4" font-size="18.9" fill="#000" text-anchor="start" stroke="#000" stroke-width="0.6" paint-order="stroke" >−1</text>
<text x="885.4" y="1035.8" font-size="27.3" fill="#000" text-anchor="start" stroke="#000" stroke-width="0.6" paint-order="stroke" >10</text>
<text x="917.74" y="1026.4" font-size="18.9" fill="#000" text-anchor="start" stroke="#000" stroke-width="0.6" paint-order="stroke" >0</text>
<text x="1047.55" y="1035.8" font-size="27.3" fill="#000" text-anchor="start" stroke="#000" stroke-width="0.6" paint-order="stroke" >10</text>
<text x="1079.19" y="1026.4" font-size="18.9" fill="#000" text-anchor="start" stroke="#000" stroke-width="0.6" paint-order="stroke" >1</text>
<text x="1209.02" y="1035.8" font-size="27.3" fill="#000" text-anchor="start" stroke="#000" stroke-width="0.6" paint-order="stroke" >10</text>
<text x="1241.14" y="1026.4" font-size="18.9" fill="#000" text-anchor="start" stroke="#000" stroke-width="0.6" paint-order="stroke" >2</text>
<text x="681.73" y="1017.4" font-size="27.3" fill="#000" text-anchor="start" stroke="#000" stroke-width="0.6" paint-order="stroke" >10</text>
<text x="713.87" y="1008" font-size="18.9" fill="#000" text-anchor="start" stroke="#000" stroke-width="0.6" paint-order="stroke" >−1</text>
<text x="692.39" y="888.06" font-size="27.3" fill="#000" text-anchor="start" stroke="#000" stroke-width="0.6" paint-order="stroke" >10</text>
<text x="724.73" y="878.66" font-size="18.9" fill="#000" text-anchor="start" stroke="#000" stroke-width="0.6" paint-order="stroke" >0</text>
<text x="693.27" y="758.71" font-size="27.3" fill="#000" text-anchor="start" stroke="#000" stroke-width="0.6" paint-order="stroke" >10</text>
<text x="724.91" y="749.31" font-size="18.9" fill="#000" text-anchor="start" stroke="#000" stroke-width="0.6" paint-order="stroke" >1</text>
<text x="692.81" y="629.37" font-size="27.3" fill="#000" text-anchor="start" stroke="#000" stroke-width="0.6" paint-order="stroke" >10</text>
<text x="724.94" y="619.97" font-size="18.9" fill="#000" text-anchor="start" stroke="#000" stroke-width="0.6" paint-order="stroke" >2</text>
<g clip-path="url(#cP5)">
</g>
<path d="M104.3 1499.2L266 1412L266 1117.2" stroke="#000" stroke-width="2.1" stroke-dasharray="7.6 3.3" fill="none"/>
<path d="M330.3 1560.2L571.6 1117.2" stroke="#000" stroke-width="2.1" stroke-dasharray="7.6 3.3" fill="none"/>
<g clip-path="url(#cP5)"><path d="M259.8 1206.4H268L263.9 1214.6Z" fill="#ff0000" stroke="#000" stroke-width="1"/><path d="M274.7 1209.7H282.9L278.8 1217.9Z" fill="#ff0000" stroke="#000" stroke-width="1"/><path d="M278.7 1205.3H286.9L282.8 1213.5Z" fill="#ff0000" stroke="#000" stroke-width="1"/><path d="M240.7 1242.2H248.9L244.8 1250.4Z" fill="#ff0000" stroke="#000" stroke-width="1"/><path d="M234.7 1249.3H242.9L238.8 1257.5Z" fill="#ff0000" stroke="#000" stroke-width="1"/><path d="M203.7 1260.7H211.9L207.8 1268.9Z" fill="#ff0000" stroke="#000" stroke-width="1"/><path d="M284.2 1276.7H292.4L288.3 1284.9Z" fill="#ff0000" stroke="#000" stroke-width="1"/><path d="M285.7 1292.1H293.9L289.8 1300.3Z" fill="#ff0000" stroke="#000" stroke-width="1"/><path d="M254.9 1304.2H263.1L259 1312.4Z" fill="#ff0000" stroke="#000" stroke-width="1"/><path d="M259.3 1316.3H267.5L263.4 1324.5Z" fill="#ff0000" stroke="#000" stroke-width="1"/><path d="M298.5 1327.1H306.7L302.6 1335.3Z" fill="#ff0000" stroke="#000" stroke-width="1"/><path d="M276.9 1331.7H285.1L281 1339.9Z" fill="#ff0000" stroke="#000" stroke-width="1"/><path d="M266.4 1359.9H274.6L270.5 1368.1Z" fill="#ff0000" stroke="#000" stroke-width="1"/><path d="M241.3 1368H249.5L245.4 1376.2Z" fill="#ff0000" stroke="#000" stroke-width="1"/><path d="M353.9 1388.5H362.1L358 1396.7Z" fill="#ff0000" stroke="#000" stroke-width="1"/><path d="M330.8 1412.7H339L334.9 1420.9Z" fill="#ff0000" stroke="#000" stroke-width="1"/><path d="M250.1 1509.4H258.3L254.2 1517.6Z" fill="#ff0000" stroke="#000" stroke-width="1"/><path d="M207.7 1552.3H215.9L211.8 1560.5Z" fill="#ff0000" stroke="#000" stroke-width="1"/><path d="M336.3 1357H344.5L340.4 1365.2Z" fill="#0000ff" stroke="#000" stroke-width="1"/><path d="M335.7 1365.4H343.9L339.8 1373.6Z" fill="#0000ff" stroke="#000" stroke-width="1"/><path d="M323.8 1375.7H332L327.9 1383.9Z" fill="#0000ff" stroke="#000" stroke-width="1"/><path d="M327.5 1384.5H335.7L331.6 1392.7Z" fill="#0000ff" stroke="#000" stroke-width="1"/><path d="M316.5 1405.6H324.7L320.6 1413.8Z" fill="#0000ff" stroke="#000" stroke-width="1"/><path d="M316.1 1413.3H324.3L320.2 1421.5Z" fill="#0000ff" stroke="#000" stroke-width="1"/><path d="M290.8 1424.1H299L294.9 1432.3Z" fill="#0000ff" stroke="#000" stroke-width="1"/><path d="M295.6 1432.5H303.8L299.7 1440.7Z" fill="#0000ff" stroke="#000" stroke-width="1"/><path d="M532.9 1258.5H541.1L537 1266.7Z" fill="#0000ff" stroke="#000" stroke-width="1"/><path d="M524.6 1261H532.8L528.7 1269.2Z" fill="#0000ff" stroke="#000" stroke-width="1"/><path d="M514.7 1272.6H522.9L518.8 1280.8Z" fill="#0000ff" stroke="#000" stroke-width="1"/><path d="M524.3 1273.1H532.5L528.4 1281.3Z" fill="#0000ff" stroke="#000" stroke-width="1"/><path d="M537 1272.2H545.2L541.1 1280.4Z" fill="#0000ff" stroke="#000" stroke-width="1"/><path d="M528.9 1283.2H537.1L533 1291.4Z" fill="#0000ff" stroke="#000" stroke-width="1"/><path d="M513.2 1287.9H521.4L517.3 1296.1Z" fill="#0000ff" stroke="#000" stroke-width="1"/><path d="M516.7 1291.3H524.9L520.8 1299.5Z" fill="#0000ff" stroke="#000" stroke-width="1"/><path d="M523.8 1290.8H532L527.9 1299Z" fill="#0000ff" stroke="#000" stroke-width="1"/><path d="M532.1 1296H540.3L536.2 1304.2Z" fill="#0000ff" stroke="#000" stroke-width="1"/><path d="M515.9 1302.4H524.1L520 1310.6Z" fill="#0000ff" stroke="#000" stroke-width="1"/><path d="M521.5 1305.3H529.7L525.6 1313.5Z" fill="#0000ff" stroke="#000" stroke-width="1"/><path d="M498.1 1304.5H506.3L502.2 1312.7Z" fill="#0000ff" stroke="#000" stroke-width="1"/><path d="M502.4 1307.4H510.6L506.5 1315.6Z" fill="#0000ff" stroke="#000" stroke-width="1"/><path d="M465.8 1290.4H474L469.9 1298.6Z" fill="#0000ff" stroke="#000" stroke-width="1"/><path d="M473.3 1291H481.5L477.4 1299.2Z" fill="#0000ff" stroke="#000" stroke-width="1"/><path d="M457.4 1313.4H465.6L461.5 1321.6Z" fill="#0000ff" stroke="#000" stroke-width="1"/><path d="M467.9 1314.2H476.1L472 1322.4Z" fill="#0000ff" stroke="#000" stroke-width="1"/><path d="M445 1318.5H453.2L449.1 1326.7Z" fill="#0000ff" stroke="#000" stroke-width="1"/><path d="M460.7 1327.4H468.9L464.8 1335.6Z" fill="#0000ff" stroke="#000" stroke-width="1"/><path d="M481.1 1332.1H489.3L485.2 1340.3Z" fill="#0000ff" stroke="#000" stroke-width="1"/><path d="M490.2 1329H498.4L494.3 1337.2Z" fill="#0000ff" stroke="#000" stroke-width="1"/><path d="M474.6 1345.2H482.8L478.7 1353.4Z" fill="#0000ff" stroke="#000" stroke-width="1"/></g>
<path d="M203 1330.2H265.6M240.8 1310.5V1359.1" stroke="#333" stroke-width="1.3" fill="none"/>
<path d="M203 1327.3V1333.1M265.6 1327.3V1333.1M237.9 1310.5H243.7M237.9 1359.1H243.7" stroke="#333" stroke-width="1.2" fill="none"/>
<polygon points="248.3,1330.2 244.55,1336.7 237.05,1336.7 233.3,1330.2 237.05,1323.7 244.55,1323.7" fill="#0000ff" stroke="#000" stroke-width="1.15"/>
<path d="M289.4 1271.6H329.4" stroke="#333" stroke-width="1.3" fill="none"/>
<path d="M289.4 1268.7V1274.5M329.4 1268.7V1274.5" stroke="#333" stroke-width="1.2" fill="none"/>
<polygon points="319.3,1271.6 315.55,1278.1 308.05,1278.1 304.3,1271.6 308.05,1265.1 315.55,1265.1" fill="#ff0000" stroke="#000" stroke-width="1.15"/>
<path d="M265.6 1244.1H369M334.5 1225.2V1272" stroke="#333" stroke-width="1.3" fill="none"/>
<path d="M265.6 1241.2V1247M369 1241.2V1247M331.6 1225.2H337.4M331.6 1272H337.4" stroke="#333" stroke-width="1.2" fill="none"/>
<polygon points="342,1244.1 338.25,1250.6 330.75,1250.6 327,1244.1 330.75,1237.6 338.25,1237.6" fill="#008000" stroke="#000" stroke-width="1.15"/>
<path d="M243 1198.8H326.6M296.4 1182.5V1219.9" stroke="#000" stroke-width="2.7" fill="none"/>
<path d="M243 1193.8V1203.8M326.6 1193.8V1203.8M291.4 1182.5H301.4M291.4 1219.9H301.4" stroke="#000" stroke-width="2.2" fill="none"/>
<path d="M296.4 1186.8L308.4 1198.8L296.4 1210.8L284.4 1198.8Z" fill="#ffa500" stroke="#000" stroke-width="1.3"/>
<text transform="translate(111.7 1139) scale(1.0383 1)" x="-0.04" y="0" font-size="19.6" fill="#ff0000" stroke="#ff0000" stroke-width="0.43">AGN</text>
<text transform="translate(496.9 1139) scale(1.1430 1)" x="-1" y="0" font-size="19.6" fill="#008000" stroke="#008000" stroke-width="0.39">Comp.</text>
<text transform="translate(543.1 1549.8) scale(1.0069 1)" x="-0.89" y="0" font-size="19.6" fill="#0000ff" stroke="#0000ff" stroke-width="0.45">SFG</text>
<rect x="104.3" y="1117.2" width="485.1" height="443" fill="none" stroke="#333" stroke-width="1.75"/>
<path d="M104.3 1560.2L104.3 1565.2M266 1560.2L266 1565.2M427.7 1560.2L427.7 1565.2M589.4 1560.2L589.4 1565.2M104.3 1560.2L99.3 1560.2M104.3 1412.53L99.3 1412.53M104.3 1264.87L99.3 1264.87M104.3 1117.2L99.3 1117.2" stroke="#000" stroke-width="1.2" fill="none"/>
<path d="M152.98 1560.2L152.98 1563.1M181.45 1560.2L181.45 1563.1M201.65 1560.2L201.65 1563.1M217.32 1560.2L217.32 1563.1M230.13 1560.2L230.13 1563.1M240.95 1560.2L240.95 1563.1M250.33 1560.2L250.33 1563.1M258.6 1560.2L258.6 1563.1M314.68 1560.2L314.68 1563.1M343.15 1560.2L343.15 1563.1M363.35 1560.2L363.35 1563.1M379.02 1560.2L379.02 1563.1M391.83 1560.2L391.83 1563.1M402.65 1560.2L402.65 1563.1M412.03 1560.2L412.03 1563.1M420.3 1560.2L420.3 1563.1M476.38 1560.2L476.38 1563.1M504.85 1560.2L504.85 1563.1M525.05 1560.2L525.05 1563.1M540.72 1560.2L540.72 1563.1M553.53 1560.2L553.53 1563.1M564.35 1560.2L564.35 1563.1M573.73 1560.2L573.73 1563.1M582 1560.2L582 1563.1M104.3 1515.75L101.4 1515.75M104.3 1489.75L101.4 1489.75M104.3 1471.3L101.4 1471.3M104.3 1456.99L101.4 1456.99M104.3 1445.29L101.4 1445.29M104.3 1435.41L101.4 1435.41M104.3 1426.84L101.4 1426.84M104.3 1419.29L101.4 1419.29M104.3 1368.08L101.4 1368.08M104.3 1342.08L101.4 1342.08M104.3 1323.63L101.4 1323.63M104.3 1309.32L101.4 1309.32M104.3 1297.63L101.4 1297.63M104.3 1287.74L101.4 1287.74M104.3 1279.18L101.4 1279.18M104.3 1271.62L101.4 1271.62M104.3 1220.41L101.4 1220.41M104.3 1194.41L101.4 1194.41M104.3 1175.96L101.4 1175.96M104.3 1161.65L101.4 1161.65M104.3 1149.96L101.4 1149.96M104.3 1140.07L101.4 1140.07M104.3 1131.51L101.4 1131.51M104.3 1123.96L101.4 1123.96" stroke="#000" stroke-width="0.9" fill="none"/>
<text x="76.87" y="1587.7" font-size="27.3" fill="#000" text-anchor="start" stroke="#000" stroke-width="0.6" paint-order="stroke" >10</text>
<text x="109.02" y="1578.3" font-size="18.9" fill="#000" text-anchor="start" stroke="#000" stroke-width="0.6" paint-order="stroke" >−1</text>
<text x="243.9" y="1587.7" font-size="27.3" fill="#000" text-anchor="start" stroke="#000" stroke-width="0.6" paint-order="stroke" >10</text>
<text x="276.24" y="1578.3" font-size="18.9" fill="#000" text-anchor="start" stroke="#000" stroke-width="0.6" paint-order="stroke" >0</text>
<text x="406.05" y="1587.7" font-size="27.3" fill="#000" text-anchor="start" stroke="#000" stroke-width="0.6" paint-order="stroke" >10</text>
<text x="437.69" y="1578.3" font-size="18.9" fill="#000" text-anchor="start" stroke="#000" stroke-width="0.6" paint-order="stroke" >1</text>
<text x="567.52" y="1587.7" font-size="27.3" fill="#000" text-anchor="start" stroke="#000" stroke-width="0.6" paint-order="stroke" >10</text>
<text x="599.64" y="1578.3" font-size="18.9" fill="#000" text-anchor="start" stroke="#000" stroke-width="0.6" paint-order="stroke" >2</text>
<text x="40.23" y="1569.3" font-size="27.3" fill="#000" text-anchor="start" stroke="#000" stroke-width="0.6" paint-order="stroke" >10</text>
<text x="72.37" y="1559.9" font-size="18.9" fill="#000" text-anchor="start" stroke="#000" stroke-width="0.6" paint-order="stroke" >−1</text>
<text x="50.89" y="1421.63" font-size="27.3" fill="#000" text-anchor="start" stroke="#000" stroke-width="0.6" paint-order="stroke" >10</text>
<text x="83.23" y="1412.23" font-size="18.9" fill="#000" text-anchor="start" stroke="#000" stroke-width="0.6" paint-order="stroke" >0</text>
<text x="51.77" y="1273.97" font-size="27.3" fill="#000" text-anchor="start" stroke="#000" stroke-width="0.6" paint-order="stroke" >10</text>
<text x="83.41" y="1264.57" font-size="18.9" fill="#000" text-anchor="start" stroke="#000" stroke-width="0.6" paint-order="stroke" >1</text>
<text x="51.31" y="1126.3" font-size="27.3" fill="#000" text-anchor="start" stroke="#000" stroke-width="0.6" paint-order="stroke" >10</text>
<text x="83.44" y="1116.9" font-size="18.9" fill="#000" text-anchor="start" stroke="#000" stroke-width="0.6" paint-order="stroke" >2</text>
<g clip-path="url(#cP6)">
</g>
<path d="M746 1391.4L948.8 1301.3L948.8 1106.9" stroke="#000" stroke-width="2.1" stroke-dasharray="7.6 3.3" fill="none"/>
<path d="M928.7 1560.3L1180.7 1106.9" stroke="#000" stroke-width="2.1" stroke-dasharray="7.6 3.3" fill="none"/>
<g clip-path="url(#cP6)"><path d="M892.7 1246.5H900.9L896.8 1254.7Z" fill="#ff0000" stroke="#000" stroke-width="1"/><path d="M893.3 1248.3H901.5L897.4 1256.5Z" fill="#ff0000" stroke="#000" stroke-width="1"/><path d="M879.9 1262.8H888.1L884 1271Z" fill="#ff0000" stroke="#000" stroke-width="1"/><path d="M883.6 1262.8H891.8L887.7 1271Z" fill="#ff0000" stroke="#000" stroke-width="1"/><path d="M838 1289.1H846.2L842.1 1297.3Z" fill="#ff0000" stroke="#000" stroke-width="1"/><path d="M843.1 1287.7H851.3L847.2 1295.9Z" fill="#ff0000" stroke="#000" stroke-width="1"/><path d="M919.6 1292.1H927.8L923.7 1300.3Z" fill="#ff0000" stroke="#000" stroke-width="1"/><path d="M925.2 1300.3H933.4L929.3 1308.5Z" fill="#ff0000" stroke="#000" stroke-width="1"/><path d="M952 1321H960.2L956.1 1329.2Z" fill="#ff0000" stroke="#000" stroke-width="1"/><path d="M937 1336.9H945.2L941.1 1345.1Z" fill="#ff0000" stroke="#000" stroke-width="1"/><path d="M908.3 1353.1H916.5L912.4 1361.3Z" fill="#ff0000" stroke="#000" stroke-width="1"/><path d="M901.5 1362.1H909.7L905.6 1370.3Z" fill="#ff0000" stroke="#000" stroke-width="1"/><path d="M1017.4 1361.8H1025.6L1021.5 1370Z" fill="#ff0000" stroke="#000" stroke-width="1"/><path d="M1006.2 1374.5H1014.4L1010.3 1382.7Z" fill="#ff0000" stroke="#000" stroke-width="1"/><path d="M936.5 1462H944.7L940.6 1470.2Z" fill="#ff0000" stroke="#000" stroke-width="1"/><path d="M906.5 1493.9H914.7L910.6 1502.1Z" fill="#ff0000" stroke="#000" stroke-width="1"/><path d="M902.2 1406.4H910.4L906.3 1414.6Z" fill="#0000ff" stroke="#000" stroke-width="1"/><path d="M901.5 1412.5H909.7L905.6 1420.7Z" fill="#0000ff" stroke="#000" stroke-width="1"/><path d="M895.8 1418.6H904L899.9 1426.8Z" fill="#0000ff" stroke="#000" stroke-width="1"/><path d="M900.8 1424.7H909L904.9 1432.9Z" fill="#0000ff" stroke="#000" stroke-width="1"/><path d="M914.8 1421.8H923L918.9 1430Z" fill="#0000ff" stroke="#000" stroke-width="1"/><path d="M914 1428.5H922.2L918.1 1436.7Z" fill="#0000ff" stroke="#000" stroke-width="1"/><path d="M894 1436.3H902.2L898.1 1444.5Z" fill="#0000ff" stroke="#000" stroke-width="1"/><path d="M899.2 1442.4H907.4L903.3 1450.6Z" fill="#0000ff" stroke="#000" stroke-width="1"/><path d="M1056.3 1313H1064.5L1060.4 1321.2Z" fill="#0000ff" stroke="#000" stroke-width="1"/><path d="M1055.8 1322.1H1064L1059.9 1330.3Z" fill="#0000ff" stroke="#000" stroke-width="1"/><path d="M1072.9 1304.3H1081.1L1077 1312.5Z" fill="#0000ff" stroke="#000" stroke-width="1"/><path d="M1075.7 1310.3H1083.9L1079.8 1318.5Z" fill="#0000ff" stroke="#000" stroke-width="1"/><path d="M1088.2 1322.6H1096.4L1092.3 1330.8Z" fill="#0000ff" stroke="#000" stroke-width="1"/><path d="M1090.1 1332.2H1098.3L1094.2 1340.4Z" fill="#0000ff" stroke="#000" stroke-width="1"/><path d="M1095.2 1300.3H1103.4L1099.3 1308.5Z" fill="#0000ff" stroke="#000" stroke-width="1"/><path d="M1102.8 1300.3H1111L1106.9 1308.5Z" fill="#0000ff" stroke="#000" stroke-width="1"/><path d="M1106 1299.5H1114.2L1110.1 1307.7Z" fill="#0000ff" stroke="#000" stroke-width="1"/><path d="M1106.5 1289.6H1114.7L1110.6 1297.8Z" fill="#0000ff" stroke="#000" stroke-width="1"/><path d="M1101.6 1315.7H1109.8L1105.7 1323.9Z" fill="#0000ff" stroke="#000" stroke-width="1"/><path d="M1109.5 1313.8H1117.7L1113.6 1322Z" fill="#0000ff" stroke="#000" stroke-width="1"/><path d="M1106.5 1321.8H1114.7L1110.6 1330Z" fill="#0000ff" stroke="#000" stroke-width="1"/><path d="M1116.9 1314.6H1125.1L1121 1322.8Z" fill="#0000ff" stroke="#000" stroke-width="1"/><path d="M1118.4 1307.8H1126.6L1122.5 1316Z" fill="#0000ff" stroke="#000" stroke-width="1"/><path d="M1119.1 1299.2H1127.3L1123.2 1307.4Z" fill="#0000ff" stroke="#000" stroke-width="1"/><path d="M1123.5 1278.4H1131.7L1127.6 1286.6Z" fill="#0000ff" stroke="#000" stroke-width="1"/><path d="M1128 1289.6H1136.2L1132.1 1297.8Z" fill="#0000ff" stroke="#000" stroke-width="1"/><path d="M1133.4 1267.3H1141.6L1137.5 1275.5Z" fill="#0000ff" stroke="#000" stroke-width="1"/><path d="M1147.1 1267.3H1155.3L1151.2 1275.5Z" fill="#0000ff" stroke="#000" stroke-width="1"/><path d="M1143.9 1280.4H1152.1L1148 1288.6Z" fill="#0000ff" stroke="#000" stroke-width="1"/><path d="M1137.6 1284.8H1145.8L1141.7 1293Z" fill="#0000ff" stroke="#000" stroke-width="1"/><path d="M1141.4 1295H1149.6L1145.5 1303.2Z" fill="#0000ff" stroke="#000" stroke-width="1"/><path d="M1156.2 1280.8H1164.4L1160.3 1289Z" fill="#0000ff" stroke="#000" stroke-width="1"/></g>
<path d="M905.9 1288.6H935.8" stroke="#333" stroke-width="1.3" fill="none"/>
<path d="M905.9 1285.7V1291.5M935.8 1285.7V1291.5" stroke="#333" stroke-width="1.2" fill="none"/>
<polygon points="930,1288.6 926.25,1295.1 918.75,1295.1 915,1288.6 918.75,1282.1 926.25,1282.1" fill="#0000ff" stroke="#000" stroke-width="1.15"/>
<path d="M930.6 1282.1H963.6M949 1276V1290" stroke="#333" stroke-width="1.3" fill="none"/>
<path d="M930.6 1279.2V1285M963.6 1279.2V1285M946.1 1276H951.9M946.1 1290H951.9" stroke="#333" stroke-width="1.2" fill="none"/>
<polygon points="956.5,1282.1 952.75,1288.6 945.25,1288.6 941.5,1282.1 945.25,1275.6 952.75,1275.6" fill="#ff0000" stroke="#000" stroke-width="1.15"/>
<path d="M911 1248.3H997M967.6 1225.8V1285.7" stroke="#333" stroke-width="1.3" fill="none"/>
<path d="M911 1245.4V1251.2M997 1245.4V1251.2M964.7 1225.8H970.5M964.7 1285.7H970.5" stroke="#333" stroke-width="1.2" fill="none"/>
<polygon points="975.1,1248.3 971.35,1254.8 963.85,1254.8 960.1,1248.3 963.85,1241.8 971.35,1241.8" fill="#008000" stroke="#000" stroke-width="1.15"/>
<path d="M907.9 1212.7H971.7" stroke="#000" stroke-width="2.7" fill="none"/>
<path d="M907.9 1207.7V1217.7M971.7 1207.7V1217.7" stroke="#000" stroke-width="2.2" fill="none"/>
<path d="M947.4 1200.7L959.4 1212.7L947.4 1224.7L935.4 1212.7Z" fill="#ffa500" stroke="#000" stroke-width="1.3"/>
<text transform="translate(752.5 1127.9) scale(1.0407 1)" x="-0.04" y="0" font-size="19.6" fill="#ff0000" stroke="#ff0000" stroke-width="0.43">AGN</text>
<text transform="translate(967.6 1127.9) scale(1.1466 1)" x="-1" y="0" font-size="19.6" fill="#008000" stroke="#008000" stroke-width="0.39">Comp.</text>
<text transform="translate(1206 1549.8) scale(1.0069 1)" x="-0.89" y="0" font-size="19.6" fill="#0000ff" stroke="#0000ff" stroke-width="0.45">SFG</text>
<rect x="746" y="1106.9" width="507.5" height="453.4" fill="none" stroke="#333" stroke-width="1.75"/>
<path d="M746 1560.3L746 1565.3M891 1560.3L891 1565.3M1036 1560.3L1036 1565.3M1181 1560.3L1181 1565.3M746 1560.3L741 1560.3M746 1430.76L741 1430.76M746 1301.21L741 1301.21M746 1171.67L741 1171.67" stroke="#000" stroke-width="1.2" fill="none"/>
<path d="M789.65 1560.3L789.65 1563.2M815.18 1560.3L815.18 1563.2M833.3 1560.3L833.3 1563.2M847.35 1560.3L847.35 1563.2M858.83 1560.3L858.83 1563.2M868.54 1560.3L868.54 1563.2M876.95 1560.3L876.95 1563.2M884.37 1560.3L884.37 1563.2M934.65 1560.3L934.65 1563.2M960.18 1560.3L960.18 1563.2M978.3 1560.3L978.3 1563.2M992.35 1560.3L992.35 1563.2M1003.83 1560.3L1003.83 1563.2M1013.54 1560.3L1013.54 1563.2M1021.95 1560.3L1021.95 1563.2M1029.37 1560.3L1029.37 1563.2M1079.65 1560.3L1079.65 1563.2M1105.18 1560.3L1105.18 1563.2M1123.3 1560.3L1123.3 1563.2M1137.35 1560.3L1137.35 1563.2M1148.83 1560.3L1148.83 1563.2M1158.54 1560.3L1158.54 1563.2M1166.95 1560.3L1166.95 1563.2M1174.37 1560.3L1174.37 1563.2M1224.65 1560.3L1224.65 1563.2M1250.18 1560.3L1250.18 1563.2M746 1521.3L743.1 1521.3M746 1498.49L743.1 1498.49M746 1482.31L743.1 1482.31M746 1469.75L743.1 1469.75M746 1459.5L743.1 1459.5M746 1450.82L743.1 1450.82M746 1443.31L743.1 1443.31M746 1436.68L743.1 1436.68M746 1391.76L743.1 1391.76M746 1368.95L743.1 1368.95M746 1352.76L743.1 1352.76M746 1340.21L743.1 1340.21M746 1329.95L743.1 1329.95M746 1321.28L743.1 1321.28M746 1313.77L743.1 1313.77M746 1307.14L743.1 1307.14M746 1262.22L743.1 1262.22M746 1239.41L743.1 1239.41M746 1223.22L743.1 1223.22M746 1210.67L743.1 1210.67M746 1200.41L743.1 1200.41M746 1191.74L743.1 1191.74M746 1184.23L743.1 1184.23M746 1177.6L743.1 1177.6M746 1132.68L743.1 1132.68M746 1109.86L743.1 1109.86" stroke="#000" stroke-width="0.9" fill="none"/>
<text x="718.57" y="1587.8" font-size="27.3" fill="#000" text-anchor="start" stroke="#000" stroke-width="0.6" paint-order="stroke" >10</text>
<text x="750.72" y="1578.4" font-size="18.9" fill="#000" text-anchor="start" stroke="#000" stroke-width="0.6" paint-order="stroke" >−1</text>
<text x="868.9" y="1587.8" font-size="27.3" fill="#000" text-anchor="start" stroke="#000" stroke-width="0.6" paint-order="stroke" >10</text>
<text x="901.24" y="1578.4" font-size="18.9" fill="#000" text-anchor="start" stroke="#000" stroke-width="0.6" paint-order="stroke" >0</text>
<text x="1014.35" y="1587.8" font-size="27.3" fill="#000" text-anchor="start" stroke="#000" stroke-width="0.6" paint-order="stroke" >10</text>
<text x="1045.99" y="1578.4" font-size="18.9" fill="#000" text-anchor="start" stroke="#000" stroke-width="0.6" paint-order="stroke" >1</text>
<text x="1159.12" y="1587.8" font-size="27.3" fill="#000" text-anchor="start" stroke="#000" stroke-width="0.6" paint-order="stroke" >10</text>
<text x="1191.24" y="1578.4" font-size="18.9" fill="#000" text-anchor="start" stroke="#000" stroke-width="0.6" paint-order="stroke" >2</text>
<text x="681.93" y="1569.4" font-size="27.3" fill="#000" text-anchor="start" stroke="#000" stroke-width="0.6" paint-order="stroke" >10</text>
<text x="714.07" y="1560" font-size="18.9" fill="#000" text-anchor="start" stroke="#000" stroke-width="0.6" paint-order="stroke" >−1</text>
<text x="692.59" y="1439.86" font-size="27.3" fill="#000" text-anchor="start" stroke="#000" stroke-width="0.6" paint-order="stroke" >10</text>
<text x="724.93" y="1430.46" font-size="18.9" fill="#000" text-anchor="start" stroke="#000" stroke-width="0.6" paint-order="stroke" >0</text>
<text x="693.47" y="1310.31" font-size="27.3" fill="#000" text-anchor="start" stroke="#000" stroke-width="0.6" paint-order="stroke" >10</text>
<text x="725.11" y="1300.91" font-size="18.9" fill="#000" text-anchor="start" stroke="#000" stroke-width="0.6" paint-order="stroke" >1</text>
<text x="693.01" y="1180.77" font-size="27.3" fill="#000" text-anchor="start" stroke="#000" stroke-width="0.6" paint-order="stroke" >10</text>
<text x="725.14" y="1171.37" font-size="18.9" fill="#000" text-anchor="start" stroke="#000" stroke-width="0.6" paint-order="stroke" >2</text>
<polygon points="143.8,38.9 140.05,45.4 132.55,45.4 128.8,38.9 132.55,32.4 140.05,32.4" fill="#ff0000" stroke="#000" stroke-width="1.15"/>
<text transform="translate(168.1 44.9) scale(1.0120 1)" x="-0.94" y="0" font-size="18.6" fill="#000" stroke="#000" stroke-width="0.4">GS-z9-0</text>
<polygon points="143.8,64.4 140.05,70.9 132.55,70.9 128.8,64.4 132.55,57.9 140.05,57.9" fill="#0000ff" stroke="#000" stroke-width="1.15"/>
<text transform="translate(168.1 70.4) scale(1.0026 1)" x="-0.94" y="0" font-size="18.6" fill="#000" stroke="#000" stroke-width="0.4">GN-z11</text>
<polygon points="143.8,90.7 140.05,97.2 132.55,97.2 128.8,90.7 132.55,84.2 140.05,84.2" fill="#008000" stroke="#000" stroke-width="1.15"/>
<text transform="translate(168.1 96.7) scale(1.0139 1)" x="-0.94" y="0" font-size="18.6" fill="#000" stroke="#000" stroke-width="0.39">GHZ2</text>
<polygon points="296.7,38.9 292.95,45.4 285.45,45.4 281.7,38.9 285.45,32.4 292.95,32.4" fill="#800080" stroke="#000" stroke-width="1.15"/>
<text transform="translate(321.3 44.9) scale(0.9901 1)" x="-1.43" y="0" font-size="18.6" fill="#000" stroke="#000" stroke-width="0.4">UNCOVER-20466</text>
<polygon points="296.7,64.4 292.95,70.9 285.45,70.9 281.7,64.4 285.45,57.9 292.95,57.9" fill="#00ffff" stroke="#000" stroke-width="1.15"/>
<text transform="translate(321.3 70.4) scale(0.9616 1)" x="-0.94" y="0" font-size="18.6" fill="#000" stroke="#000" stroke-width="0.42">CEERS_1019</text>
<path d="M289.2 78.7L301.2 90.7L289.2 102.7L277.2 90.7Z" fill="#ffa500" stroke="#000" stroke-width="1.3"/>
<text transform="translate(321.3 96.7) scale(1.0170 1)" x="-0.94" y="0" font-size="18.6" fill="#000" stroke="#000" stroke-width="0.39">GHZ9</text>
<text transform="translate(270.6 514.5) scale(1.1005 1)" x="-1.87" y="0" font-size="26.2" fill="#000" stroke="#000" stroke-width="0.55">[NeIII] / [OII]</text>
<text transform="translate(930 515) scale(1.0276 1)" x="-1.33" y="0" font-size="26.2" fill="#000" stroke="#000" stroke-width="0.58">CIV / CIII]</text>
<text transform="translate(283.7 1066.2) scale(1.0629 1)" x="-1.24" y="0" font-size="26.2" fill="#000" stroke="#000" stroke-width="0.56">OIII] / HeII</text>
<text transform="translate(931.9 1066.3) scale(1.0281 1)" x="-1.33" y="0" font-size="26.2" fill="#000" stroke="#000" stroke-width="0.58">CIV / HeII</text>
<text transform="translate(285.1 1618.2) scale(1.0672 1)" x="-1.24" y="0" font-size="26.2" fill="#000" stroke="#000" stroke-width="0.56">OIII] / HeII</text>
<text transform="translate(939 1618.3) scale(1.0641 1)" x="-1.33" y="0" font-size="26.2" fill="#000" stroke="#000" stroke-width="0.56">CIII] / HeII</text>
<text transform="translate(664.6 295.7) rotate(-90) scale(1.0466 1)" x="-1.33" y="0" font-size="26.2" fill="#000" stroke="#000" stroke-width="0.57">CIII] / HeII</text>
<text transform="translate(23.3 846.9) rotate(-90) scale(1.0440 1)" x="-1.33" y="0" font-size="26.2" fill="#000" stroke="#000" stroke-width="0.57">CIII] / HeII</text>
<text transform="translate(667.2 849.1) rotate(-90) scale(1.0301 1)" x="-2.15" y="0" font-size="26.2" stroke="#000" stroke-width="0.58">EW(CIV)[<tspan font-style="italic">Å</tspan>]</text>
<text transform="translate(25.9 1410.6) rotate(-90) scale(1.0549 1)" x="-2.15" y="0" font-size="26.2" stroke="#000" stroke-width="0.57">EW(OIII])[<tspan font-style="italic">Å</tspan>]</text>
<text transform="translate(667.4 1404.5) rotate(-90) scale(1.0486 1)" x="-2.15" y="0" font-size="26.2" stroke="#000" stroke-width="0.57">EW(CIII])[<tspan font-style="italic">Å</tspan>]</text>
<text transform="translate(23.5 315.8) rotate(-90) scale(1.0879 1)" x="-1.87" y="0" font-size="26.2" fill="#000" stroke="#000" stroke-width="0.55">[OIII]</text>
<text transform="translate(27.1 256.7) rotate(-90) scale(1.0814 1)" x="-0.43" y="0" font-size="18.6" fill="#000" stroke="#000" stroke-width="0.42">4363</text>
<text transform="translate(23.5 203.1) rotate(-90) scale(1.0949 1)" x="-0" y="0" font-size="26.2" fill="#000" stroke="#000" stroke-width="0.55">/ Hγ</text>
</svg></body></html>
